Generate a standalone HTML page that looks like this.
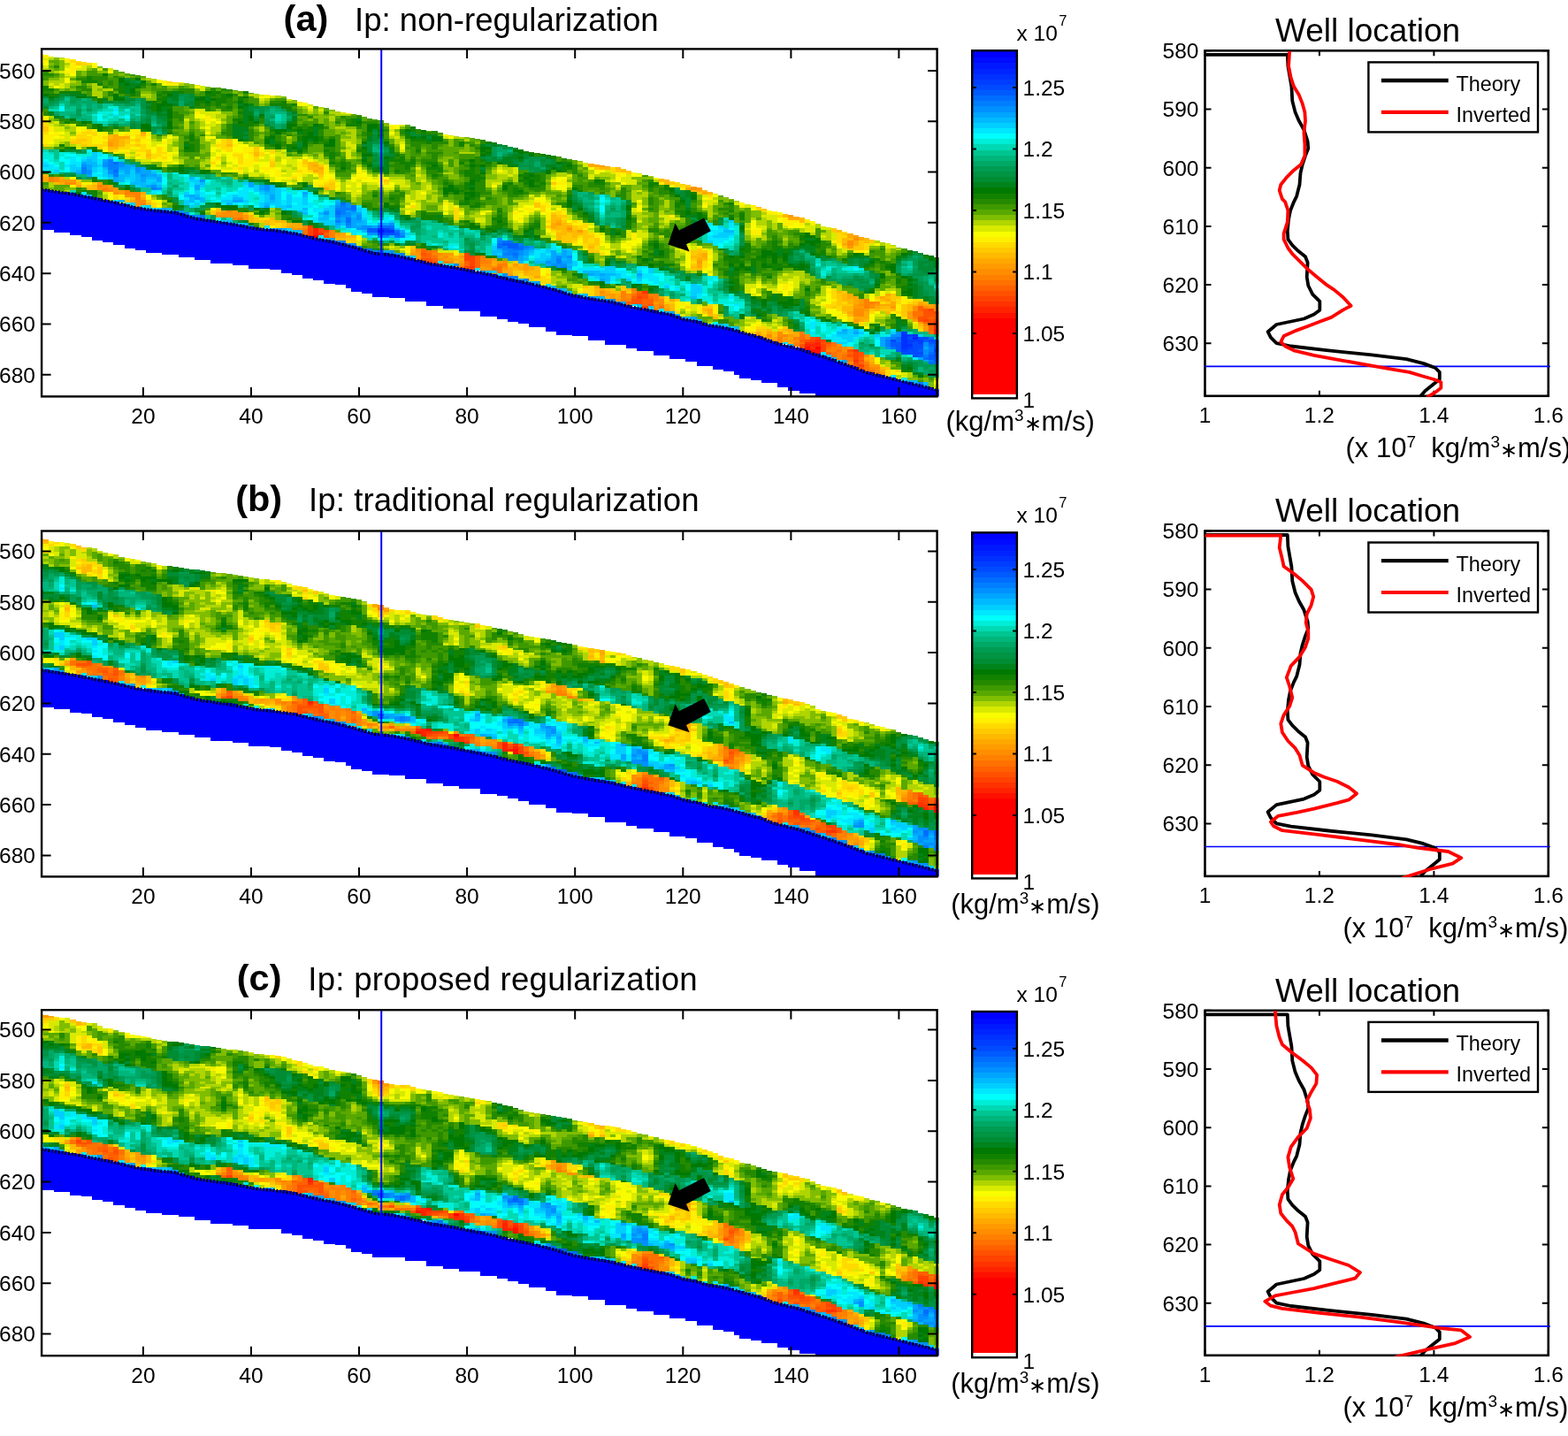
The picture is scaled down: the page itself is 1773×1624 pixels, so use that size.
<!DOCTYPE html><html><head><meta charset="utf-8"><title>Ip inversion</title><style>html,body{margin:0;padding:0;background:#fff}svg{display:block}text{font-family:"Liberation Sans", Arial, Helvetica, sans-serif;fill:#000}</style></head><body>
<svg width="1773" height="1624" viewBox="0 0 1773 1624">
<rect width="1773" height="1624" fill="#fff"/>
<clipPath id="dca"><rect x="47.1" y="55.4" width="1014.6" height="393.0"/></clipPath>
<g clip-path="url(#dca)">
<g shape-rendering="crispEdges" fill="none">
<path stroke="#ff0000" stroke-width="6" d="M357 266v3m562 129v1m6 -7v3"/>
<path stroke="#ff1000" stroke-width="6" d="M913 392v4m6 -1v3m6 -3v5"/>
<path stroke="#ff2200" stroke-width="6" d="M357 258v8m556 123v3m6 -3v3m6 -5v5m134 -20v6"/>
<path stroke="#ff3200" stroke-width="6" d="M351 266v1m12 -4v3m171 35v2m379 84v2m6 -2v2m0 3v3m6 -11v3m43 8v3m0 9v2m91 -45v8"/>
<path stroke="#ff3200" stroke-width="7" d="M729.5 329v3"/>
<path stroke="#ff4200" stroke-width="6" d="M351 255v11m12 -8v5m6 -3v3m116 32v2m43 -11v9m0 6v3m6 -15v12m0 2v2m189 30v3m196 46v3m6 -6v3m6 0v3m0 2v9m37 0v9m0 2v3m6 0v3m73 -54v3m6 -15v3m6 0v3m0 6v3"/>
<path stroke="#ff4200" stroke-width="7" d="M729.5 346v3"/>
<path stroke="#ff5100" stroke-width="6" d="M369 266v3m110 17v3m0 3v3m6 -3v3m13 3v1m219 39v6m6 -12v3m0 3v6m13 0v2m171 43v5m6 -10v3m6 -6v3m12 3v2m6 -2v2m31 23v3m6 -17v6m0 3v2m0 6v3m67 -60v6m6 -15v12m6 -9v6m0 3v5m6 -11v6"/>
<path stroke="#ff5100" stroke-width="7" d="M491.5 295v3m238 34v6m232 57v3m0 3v3"/>
<path stroke="#ff6100" stroke-width="6" d="M369 263v3m110 17v3m0 3v3m6 -6v6m43 3v6m12 -12v14m171 38v3m6 -9v3m6 -9v3m13 6v6m171 40v3m30 2v3m0 6v3m37 3v3m0 2v3m67 -66v6m6 12v2m6 -8v3m0 5v9"/>
<path stroke="#ff6100" stroke-width="7" d="M491.5 292v3m238 43v8m232 52v3"/>
<path stroke="#ff7100" stroke-width="6" d="M272 246v3m73 11v6m134 15v2m6 0v3m37 15v2m37 0v3m6 -5v8m146 35v1m6 -13v3m19 0v3m12 8v3m159 29v6m0 3v2m30 3v3m6 -8v5m0 6v6m6 -9v3m6 3v6m25 5v8m6 -2v3m49 -69v6m6 -6v6m12 17v3"/>
<path stroke="#ff7100" stroke-width="7" d="M491.5 289v3m470 112v5"/>
<path stroke="#ff8000" stroke-width="6" d="M58 200v6m55 3v3m6 0v5m6 -2v2m19 -2v5m6 -3v3m6 -3v9m6 3v3m104 14v3m79 9v2m159 35v3m42 -9v9m19 0v3m6 -3v3m134 28v12m6 -3v3m6 -15v3m19 3v3m6 -3v9m0 8v2m6 -7v2m134 35v7m25 -13v3m6 3v3m24 11v3m6 -6v6m6 -6v3m0 3v9m6 -9v3m25 -63v11m0 60v3m6 -71v3m6 77v2m43 -65v3"/>
<path stroke="#ff8000" stroke-width="7" d="M259.5 238v2m116 20v9m116 14v6m61 6v3m348 83v3m0 3v5m61 20v1"/>
<path stroke="#ff8d00" stroke-width="3" d="M47.5 137v3m0 57v6"/>
<path stroke="#ff8d00" stroke-width="6" d="M64 200v6m12 0v3m37 3v3m6 -6v3m6 0v3m6 2v3m13 0v3m6 -3v3m6 3v6m6 -6v3m85 14v3m6 -6v6m13 -6v6m6 -6v6m67 12v2m6 -5v3m128 23v5m0 6v2m25 -8v3m0 3v3m6 -6v3m6 3v3m12 0v3m24 -3v3m13 0v2m0 6v1m12 -15v3m0 3v2m73 -45v2m37 69v3m30 0v6m6 -9v3m25 12v5m6 -11v6m116 37v1m6 -4v3m12 -6v6m6 -3v3m25 -3v3m36 8v3m6 0v6m13 -129v3m0 77v9m6 -14v2m0 3v9m6 43v3m6 -60v5m0 66v3m6 -77v3m0 71v6m43 -75v6m12 -6v3m0 17v3m12 -25v8"/>
<path stroke="#ff8d00" stroke-width="7" d="M82.5 206v3m177 31v6m293 46v3m0 3v5m232 -91v3m116 169v3m61 -115v6m0 131v3"/>
<path stroke="#ff9b00" stroke-width="3" d="M47.5 131v3m0 6v3m0 60v3"/>
<path stroke="#ff9b00" stroke-width="6" d="M70 203v3m6 -3v3m37 0v3m12 -49v6m0 43v3m6 0v5m25 15v2m91 6v3m6 -5v2m13 -2v2m12 3v6m55 9v2m49 3v3m85 20v3m6 -3v6m25 -3v3m6 -6v3m0 3v3m6 -9v3m0 3v3m6 6v1m6 -13v3m0 3v3m24 3v5m13 -14v3m6 0v3m6 5v3m6 3v3m6 -14v3m12 -3v8m37 -54v3m24 5v3m25 -76v2m0 143v3m6 -3v3m6 -3v6m6 0v3m43 0v3m12 5v3m37 -140v3m0 80v3m67 80v2m12 1v3m6 0v2m12 -5v6m6 -144v3m0 132v3m0 3v3m74 -121v3m0 75v5m0 12v3m6 -26v6m0 2v3m6 0v3m0 55v2m6 3v3m6 -71v2m0 66v3m6 6v3m12 -78v3m19 3v9m6 0v3m6 -20v2m0 18v2m6 3v6m6 -29v3"/>
<path stroke="#ff9b00" stroke-width="7" d="M82.5 203v3m55 9v5m415 83v3m409 -28v3m0 111v3"/>
<path stroke="#ffa900" stroke-width="3" d="M47.5 134v3m0 6v3"/>
<path stroke="#ffa900" stroke-width="6" d="M52 200v6m18 -6v3m0 3v3m19 0v3m36 -55v3m6 -8v14m13 -12v3m6 69v3m12 -80v3m0 65v3m0 3v3m165 29v3m6 -6v6m6 -6v6m18 -72v3m0 3v3m6 -6v3m6 20v3m13 51v3m6 -6v6m79 14v3m43 3v3m6 0v3m6 -3v3m37 0v6m12 5v3m6 -6v6m6 -8v2m6 -2v5m6 0v3m6 -8v5m25 -54v6m6 -9v3m12 3v3m0 2v3m31 -77v3m0 134v3m6 0v3m6 -141v1m0 140v3m0 3v3m12 -6v6m49 -3v3m6 6v5m6 -11v3m18 -129v3m13 0v2m0 75v3m0 3v5m6 -86v3m0 66v6m6 57v6m55 20v3m12 -3v3m6 3v3m18 -138v3m0 123v3m0 6v3m0 3v2m61 -114v3m13 -6v6m0 57v9m0 14v3m0 3v2m6 -98v4m0 86v6m6 -12v9m0 43v3m6 2v3m6 -66v3m6 -14v3m0 6v2m0 72v3m6 -89v3m0 3v3m0 3v2m6 -5v5m31 -5v3m6 0v2m6 -2v2"/>
<path stroke="#ffa900" stroke-width="7" d="M137.5 154v3m470 155v3m61 -130v4m116 22v1m116 33v4m0 126v6m61 -117v5m0 63v6m0 14v3"/>
<path stroke="#ffb900" stroke-width="6" d="M52 197v3m12 6v3m25 -3v3m12 3v3m6 -6v6m18 -63v5m0 9v3m6 -3v3m19 54v3m12 -74v2m0 66v3m6 -49v3m0 52v3m79 6v2m31 0v3m6 0v9m6 -80v5m12 72v6m6 -9v3m13 0v3m6 0v3m24 -72v9m6 -9v3m0 3v3m6 0v5m19 72v3m6 -3v3m6 -6v3m6 -3v3m67 12v2m49 6v3m0 3v3m6 -12v3m55 12v2m6 0v3m6 -8v3m6 8v3m6 -6v6m25 -69v9m0 6v2m6 -14v3m0 6v5m0 3v9m6 -20v14m12 -6v9m6 -6v3m19 60v9m6 -146v3m6 -3v3m0 134v3m6 0v3m6 -143v3m0 137v3m6 -140v3m6 131v3m37 -127v4m6 -3v6m6 135v8m31 -66v6m0 11v3m6 -91v2m0 75v3m0 54v3m6 -135v3m0 135v3m6 0v3m49 -127v1m6 143v3m6 -9v3m6 0v6m12 -139v4m0 126v3m6 0v3m13 -132v6m42 8v3m0 66v3m6 -63v6m0 57v9m0 5v6m25 -83v6m0 86v3m6 40v5m6 -60v3m6 -14v3m0 5v3m0 66v3m6 -83v3m0 8v3m0 3v3m6 -6v3m19 -8v8m6 -8v2m6 20v3m6 -28v3"/>
<path stroke="#ffb900" stroke-width="7" d="M137.5 157v9m122 -3v3m55 83v3m293 49v11m61 -34v3m116 -66v2m0 72v3m0 9v2m177 -34v3m0 66v6m0 2v6m0 3v3"/>
<path stroke="#ffc900" stroke-width="3" d="M47.5 63v3m0 80v3m0 3v5"/>
<path stroke="#ffc900" stroke-width="6" d="M52 143v6m37 -78v3m0 83v6m0 40v3m6 -49v3m0 3v3m6 43v3m6 -6v3m18 -40v3m19 -15v6m0 63v3m12 -72v3m0 3v3m12 3v5m0 3v3m0 46v3m73 9v5m6 -8v3m43 -72v6m0 74v6m6 -3v3m12 -69v6m0 60v6m13 -3v6m24 -78v6m18 0v3m0 8v3m6 9v3m25 57v3m6 -3v6m37 -72v3m30 72v3m110 17v3m6 -6v3m0 8v6m6 -6v3m12 3v6m19 -63v3m6 -52v3m0 31v3m6 0v3m0 14v3m6 -20v3m0 3v3m0 14v9m6 -23v3m0 8v12m6 -20v5m0 9v3m6 -14v2m6 0v15m0 48v3m13 -137v3m0 77v9m0 5v3m18 40v3m6 -137v3m6 -4v1m0 131v6m6 -136v4m0 132v3m43 9v3m6 -138v3m0 132v3m6 -6v3m6 -133v1m6 0v3m13 5v3m0 61v5m6 -3v3m0 60v3m0 3v3m6 -9v3m6 6v3m43 17v3m6 -6v3m6 -139v2m0 134v6m18 -6v3m6 -6v3m0 3v3m55 -120v5m0 83v3m6 -17v14m6 -83v3m0 12v3m0 48v3m0 12v2m0 6v3m13 -77v5m6 -11v11m12 -12v4m0 74v3m0 49v3m6 -69v3m6 11v3m6 -11v3m0 5v3m0 63v3m6 -86v9m6 -6v3m19 3v3m6 25v3"/>
<path stroke="#ffc900" stroke-width="7" d="M82.5 160v3m177 -6v6m116 43v9m232 14v6m61 31v3m0 6v3m0 3v5m116 -3v6m0 3v3m0 3v3m0 2v3m177 -25v2m0 61v2m61 -2v14"/>
<path stroke="#ffda00" stroke-width="3" d="M47.5 66v2m0 81v3m0 5v3"/>
<path stroke="#ffda00" stroke-width="6" d="M52 137v6m0 6v3m0 11v3m37 -97v2m0 81v5m6 -87v4m0 75v8m0 3v3m0 46v3m6 -141v3m0 72v6m0 2v12m6 -17v5m0 9v3m6 -3v6m6 -15v3m0 3v6m12 3v3m0 48v6m13 -74v2m0 9v6m0 3v2m0 49v3m6 -69v3m0 3v3m6 -14v5m0 3v3m0 6v3m0 2v3m6 -23v3m0 6v9m12 2v6m0 49v6m6 -69v11m6 -5v2m0 3v3m6 -88v2m49 89v3m6 -23v3m0 11v3m6 -23v12m13 5v3m6 -3v12m0 3v3m12 -20v2m0 66v3m6 -66v6m6 -11v5m0 69v3m6 -3v3m6 -80v5m0 6v3m25 17v3m6 -11v3m6 -9v3m6 3v3m6 0v2m6 3v3m0 6v3m6 -6v3m25 63v3m43 -69v3m30 23v3m49 0v14m73 60v6m6 -3v3m19 -83v8m0 72v9m6 -72v3m0 57v3m0 3v6m6 -61v3m6 -25v5m6 3v3m12 0v3m0 20v3m6 -20v3m0 8v3m6 -17v6m0 17v6m0 45v6m13 -54v5m6 3v3m12 -100v6m61 140v6m6 -136v1m6 0v6m0 140v3m6 -146v3m6 134v3m19 -54v8m6 -83v3m0 121v2m55 -111v3m0 131v3m6 -134v2m0 129v3m18 -129v3m55 98v5m6 -23v12m0 3v5m6 -83v12m0 71v6m6 -86v3m0 72v3m19 20v5m6 -94v8m6 69v3m6 -17v3m6 0v3m6 74v8m12 -88v6m0 8v3m0 63v3m13 -80v3m6 -6v3m6 -3v3m0 31v3"/>
<path stroke="#ffda00" stroke-width="7" d="M82.5 68v3m0 86v3m55 6v3m61 -76v1m61 72v6m55 80v6m61 -55v3m232 109v3m61 -55v3m0 3v6m0 48v12m116 -40v3m61 77v2m116 -19v6m61 -6v3"/>
<path stroke="#ffef00" stroke-width="3" d="M47.5 61v2m0 5v3m0 89v3"/>
<path stroke="#ffef00" stroke-width="6" d="M52 63v3m0 2v3m0 63v3m0 15v11m6 -20v6m0 3v8m6 -11v5m6 0v3m6 -91v5m0 9v3m13 66v3m6 -6v3m0 57v3m6 -57v2m0 52v3m6 -63v3m0 5v9m6 -11v11m6 -14v5m0 3v3m0 6v3m6 48v3m6 -48v2m13 -25v3m0 17v3m0 2v3m6 -31v8m0 6v3m0 3v3m6 -23v6m0 14v3m0 3v2m6 -17v6m0 9v8m6 -31v5m0 3v3m0 3v6m6 3v2m0 52v3m6 -52v6m0 46v3m6 -141v3m0 66v3m0 3v6m0 2v3m0 3v3m6 -89v3m0 77v3m31 -51v3m12 2v6m6 43v3m0 3v3m6 -29v3m0 3v3m0 11v3m6 -14v3m13 -9v3m0 6v2m0 3v3m0 9v3m6 -20v2m0 12v3m0 3v5m6 -31v8m0 6v9m6 -23v6m0 2v15m12 -23v6m0 17v3m6 -85v2m0 80v6m6 -87v1m0 68v3m0 9v3m0 63v3m19 -58v3m6 -6v3m6 -85v2m0 66v9m0 3v5m6 -11v8m12 9v6m6 -9v6m6 -23v11m0 6v3m13 3v3m12 51v3m12 -77v3m0 3v2m0 3v3m0 3v3m6 -9v3m31 -60v3m18 94v3m0 35v5m43 -54v3m12 0v3m0 48v6m67 -51v5m6 3v3m6 -14v3m6 -3v5m13 -11v3m0 89v2m6 -94v6m0 5v9m0 3v3m0 3v2m0 43v6m0 3v3m6 -112v3m0 3v3m0 51v3m0 3v3m6 -66v3m6 -6v6m0 29v5m12 9v3m0 20v3m6 -29v6m0 14v3m0 3v3m0 51v3m6 -74v2m13 3v6m6 3v3m0 8v3m18 -91v5m6 -5v2m6 78v3m0 3v2m6 -20v9m6 -34v2m25 -34v3m12 34v3m6 95v11m6 -140v3m0 126v5m6 -63v3m0 58v2m13 -68v3m0 65v9m6 -126v3m0 49v2m0 20v3m0 49v3m6 -135v3m0 57v6m0 3v3m0 3v3m6 43v11m30 -123v3m13 -3v3m0 25v6m0 103v6m6 -115v6m0 100v3m12 -129v3m6 -3v3m6 126v3m6 -126v9m0 66v8m6 -80v6m0 66v2m13 -71v3m6 -7v4m6 0v3m12 89v2m6 -17v3m6 -60v3m0 63v3m6 -66v3m0 77v6m6 -99v1m0 92v3m13 -75v3m6 -3v3m18 123v3m18 -60v3m0 63v6m6 -80v8m13 -14v3m6 23v2"/>
<path stroke="#ffef00" stroke-width="7" d="M82.5 67v1m0 3v12m0 71v3m0 52v3m55 -60v2m0 15v3m0 48v6m61 -132v3m116 95v8m61 0v3m55 -3v6m177 20v3m238 143v3m55 -126v3m122 86v6"/>
<path stroke="#f9fc00" stroke-width="6" d="M52 62v1m0 8v3m0 57v3m6 15v3m0 8v3m6 -66v3m0 54v3m6 -8v3m6 -75v3m0 8v6m13 -20v3m0 66v6m6 -6v3m12 -75v6m6 72v3m6 17v3m6 -92v3m0 137v6m25 -72v3m6 20v3m12 -26v3m0 3v3m0 57v6m6 -60v6m0 8v3m6 -93v4m0 69v3m0 60v3m0 3v3m6 -141v3m0 60v3m0 3v3m6 -12v3m0 15v2m0 3v6m13 -90v1m18 3v3m0 29v5m6 -5v5m6 3v3m0 3v3m0 3v3m0 2v3m6 -23v3m0 17v3m0 9v6m0 5v3m0 9v3m0 43v3m6 -101v3m0 17v3m0 12v5m0 6v3m0 3v3m6 -20v2m0 18v3m13 -38v6m0 3v6m0 8v6m0 6v3m6 -32v9m6 -9v3m0 8v6m6 9v6m6 -12v3m6 -77v2m0 66v3m0 3v6m0 3v3m6 -86v2m0 61v2m0 9v6m0 6v2m6 -23v3m0 15v8m13 -20v6m0 9v2m0 3v3m6 3v3m6 -14v2m6 -80v3m0 60v3m0 17v6m6 -90v4m0 57v3m6 -60v3m0 57v3m0 12v2m6 0v3m0 3v3m12 -9v6m13 3v3m0 3v3m12 -87v1m0 80v3m0 3v2m6 -17v6m6 -14v3m0 2v3m0 9v3m0 3v2m0 49v6m6 -77v5m0 3v3m6 -6v6m6 -3v3m13 -6v3m0 6v3m6 -71v2m0 6v3m0 54v6m6 -71v5m6 17v6m0 112v2m6 -51v3m0 3v2m0 43v3m6 -57v3m12 -15v3m25 -68v2m0 78v6m0 2v3m6 -89v3m12 83v3m24 -3v3m13 -34v3m6 -20v3m18 48v6m6 -14v3m0 2v6m0 3v3m6 -20v3m0 3v5m6 -11v3m13 -12v6m0 11v3m0 60v9m6 -77v5m0 20v3m6 -25v2m6 -40v6m0 3v6m0 20v3m6 -38v3m0 6v6m6 34v3m12 20v3m0 51v3m6 -48v2m13 -91v5m6 -5v3m0 71v6m0 3v3m6 -3v6m0 2v6m12 -89v6m6 -9v3m0 6v3m0 66v6m6 -9v3m0 3v3m0 2v3m6 -91v5m0 72v6m6 -81v3m0 26v3m0 3v6m0 31v6m19 -74v2m18 6v3m12 69v2m0 63v3m6 -71v5m0 3v17m0 38v3m0 5v3m19 -129v3m0 6v3m0 71v3m6 -20v3m0 3v3m0 3v5m0 3v3m6 -92v3m30 6v3m13 3v3m0 11v11m0 66v6m0 34v3m6 -111v2m0 61v5m0 6v3m0 29v2m12 -128v2m6 -1v1m6 0v3m0 3v6m0 69v8m6 0v6m6 -80v3m0 60v3m0 2v6m13 -74v3m12 -8v2m12 89v3m6 -18v3m0 3v12m0 5v6m6 -6v9m6 -80v3m0 71v3m6 3v6m25 -81v3m0 83v3m6 -40v9m0 14v9m6 -89v3m0 74v3m0 49v5m6 -80v6m12 -6v3m6 23v3m0 63v3m43 6v5"/>
<path stroke="#f9fc00" stroke-width="7" d="M82.5 83v3m0 114v3m55 -54v3m0 77v1m61 -58v2m0 9v3m61 -14v11m0 3v3m0 3v3m55 -6v3m0 8v6m61 -9v3m55 6v3m122 29v2m55 -17v3m0 9v3m61 -49v3m0 63v3m177 111v3m55 -120v6m122 77v3"/>
<path stroke="#d8ea00" stroke-width="3" d="M47.5 77v3m0 49v2"/>
<path stroke="#d8ea00" stroke-width="6" d="M52 66v2m0 6v3m6 -13v2m0 28v3m0 43v3m0 20v3m6 -29v3m0 3v6m0 8v6m6 -97v2m0 12v3m0 11v6m0 43v6m0 3v2m0 3v3m6 -86v3m0 6v3m0 63v11m13 -83v3m0 83v6m6 -95v6m18 -3v3m6 137v3m6 -143v3m0 146v1m6 -78v3m13 25v3m6 -11v3m0 2v3m12 3v3m6 -3v3m6 -23v6m6 -6v3m6 20v6m6 -37v2m0 3v6m0 20v3m19 -52v3m12 -41v1m0 26v3m6 -29v6m0 20v6m0 5v3m0 6v3m6 -20v5m0 9v3m0 3v3m0 8v3m6 -34v8m0 3v6m0 20v3m0 6v5m6 -51v3m0 5v3m0 32v3m0 14v3m6 -15v3m0 12v3m13 -6v3m6 -29v3m6 26v6m6 0v5m6 -14v6m0 3v5m0 43v3m6 -139v2m0 2v3m0 66v3m0 12v2m6 -28v3m0 2v9m0 14v3m6 -91v2m0 89v6m13 -37v3m0 2v6m0 6v6m0 5v3m0 3v3m6 -94v2m0 63v9m0 3v11m0 3v3m6 -26v9m0 3v3m0 11v3m12 -12v3m6 -82v2m0 3v3m0 51v3m6 0v3m6 -60v3m0 57v3m6 31v3m13 -17v3m0 9v2m6 -90v2m6 31v6m0 3v11m0 23v6m0 3v3m6 -52v6m0 28v3m0 6v17m6 -20v3m0 6v3m0 2v3m0 52v6m6 -86v3m6 2v3m0 6v3m6 -9v3m0 3v3m13 3v3m6 -69v3m0 3v2m0 49v3m0 6v3m0 63v3m6 -127v3m0 46v6m6 -68v2m0 17v3m0 6v3m0 31v9m6 -3v3m0 8v9m0 6v3m0 48v3m6 -63v3m0 6v5m6 -51v3m0 5v3m0 15v11m0 3v9m6 -35v3m0 9v2m0 3v6m6 -17v6m13 68v3m6 -132v3m0 69v3m0 9v2m0 43v3m6 -133v1m0 75v9m0 45v3m12 -48v2m0 3v3m18 0v6m6 -14v2m0 6v6m13 -46v3m6 -20v3m0 3v2m0 9v3m6 -17v5m6 0v3m6 -11v8m0 38v3m0 11v3m6 -23v6m0 3v2m6 -11v3m0 11v3m6 -26v3m0 3v6m0 8v3m13 -23v3m6 3v3m0 34v3m6 -66v3m0 9v3m0 17v3m0 31v3m0 52v2m6 -91v3m6 -20v2m0 18v3m6 -41v3m0 6v6m0 31v6m6 72v5m6 -5v5m6 -142v5m19 74v3m0 12v5m6 -91v3m0 86v2m6 -88v2m0 6v3m0 75v2m6 -74v3m6 -12v6m0 66v3m0 6v2m0 6v3m6 -95v12m0 51v9m6 -66v6m0 26v5m0 38v3m0 2v3m6 -90v1m0 18v2m0 12v3m0 17v3m0 8v9m0 6v3m25 -35v3m6 -3v9m6 -6v3m6 -3v3m0 32v2m6 0v3m0 12v3m0 54v3m6 -83v3m0 25v3m0 46v3m13 -11v2m6 -126v3m0 3v3m6 -3v6m0 49v2m0 23v3m6 -90v1m0 6v3m6 129v3m18 -132v3m19 34v3m0 52v5m0 6v3m0 29v2m6 -111v3m0 8v3m0 49v3m0 40v3m6 -121v3m0 9v5m0 63v3m0 40v3m6 -126v6m0 77v3m0 40v3m6 -129v9m0 74v6m0 29v3m0 2v3m0 3v3m6 -60v6m0 8v3m6 -77v3m0 51v3m0 6v3m6 -6v3m0 11v6m19 -80v8m6 -8v8m6 72v6m0 3v2m6 -90v4m0 6v3m0 66v3m0 8v3m6 -92v3m0 63v3m6 -63v9m12 9v5m25 78v5m6 -94v3m0 86v2m6 -11v3m6 -3v3m0 54v3m6 -140v6m0 48v3m6 -54v3m6 146v2m19 -63v6m24 63v5"/>
<path stroke="#d8ea00" stroke-width="7" d="M82.5 140v3m55 29v2m61 -20v3m0 9v6m0 2v3m0 3v3m61 0v3m0 3v3m55 -20v5m0 6v6m61 6v2m55 0v3m0 9v3m238 -15v6m0 49v3m0 5v3m61 0v6m55 9v5m0 61v8m61 -121v4m0 23v2m0 61v11m0 26v3m0 3v2m55 -54v14m122 95v6"/>
<path stroke="#b0d500" stroke-width="3" d="M47.5 71v3m0 52v3"/>
<path stroke="#b0d500" stroke-width="6" d="M52 77v3m6 -14v2m0 23v3m0 3v3m0 31v3m0 3v3m0 66v6m6 -132v3m0 8v6m0 43v3m0 20v3m6 -101v1m0 22v6m0 66v3m6 -92v3m0 12v2m0 6v6m0 40v3m0 3v3m0 51v3m0 12v2m25 -143v3m6 17v15m6 -12v3m0 3v8m6 -11v3m0 117v6m6 -126v3m6 43v3m19 23v2m0 3v3m6 0v3m6 -77v3m0 74v3m6 -98v3m0 15v5m0 72v3m6 -97v5m0 63v3m0 63v3m12 -72v3m0 69v3m6 -66v9m13 -78v3m0 83v6m6 -49v9m12 -12v3m0 40v3m6 -43v6m0 40v6m6 -37v2m0 26v6m0 3v3m0 46v2m6 -97v9m0 5v6m6 -34v5m0 6v9m6 -20v5m0 3v3m0 37v6m0 3v3m25 6v2m6 -91v3m0 51v6m6 -60v5m0 52v3m0 26v3m6 -81v3m0 26v6m0 48v3m0 52v6m6 -147v3m0 86v3m0 40v3m6 -11v3m0 2v6m13 -74v2m0 18v3m6 -41v3m0 29v3m6 -12v3m0 9v3m0 11v3m6 -29v3m6 -60v3m0 51v3m0 23v6m6 -80v3m0 68v9m6 -6v3m6 -82v2m0 3v3m0 45v9m6 -3v6m0 29v2m13 -91v5m0 12v3m6 -17v2m0 12v3m0 11v3m0 9v3m0 34v11m6 -88v2m0 15v3m0 3v2m0 3v3m0 6v3m6 -23v17m0 6v3m0 5v3m0 43v6m6 -43v3m0 31v3m6 -17v3m0 60v3m6 -63v6m6 -6v6m13 0v2m0 61v3m6 -127v3m0 43v3m0 78v2m6 -134v5m0 3v6m0 37v3m0 75v5m6 -126v3m0 40v3m0 9v3m0 20v3m0 45v3m6 -83v6m0 3v3m0 14v3m6 -17v11m0 14v3m6 -51v5m0 3v6m0 20v3m6 -32v6m0 3v9m6 -9v3m0 6v5m0 6v3m13 3v6m0 43v2m6 -100v3m0 9v2m6 -2v2m0 41v5m6 -89v3m0 92v3m6 -97v2m0 15v2m0 61v3m0 8v3m6 -92v3m0 12v2m6 -2v2m0 69v3m6 -6v6m6 -3v3m0 6v3m13 -63v5m0 6v3m0 6v3m6 -29v3m0 8v9m6 -17v3m0 5v6m6 -14v8m0 43v9m0 46v3m6 -101v9m0 20v3m0 3v3m0 17v8m6 -34v3m0 23v3m6 -29v3m0 17v6m6 -29v3m13 17v3m0 20v3m6 -46v3m0 40v3m6 -34v3m0 74v9m6 -126v5m0 109v3m0 3v3m6 -123v5m0 115v6m6 -121v3m0 118v5m6 0v3m6 -146v3m0 95v2m19 -86v3m6 -5v5m0 92v3m6 -100v5m0 3v3m0 66v3m6 -78v6m0 72v6m0 5v3m6 -77v3m0 60v8m0 6v3m0 31v3m6 -43v3m6 -17v3m6 -57v14m0 11v3m0 38v2m0 3v3m6 -69v6m0 14v9m0 29v3m13 -82v1m6 3v3m6 32v5m0 6v3m0 3v3m0 8v3m6 -43v9m0 17v3m6 17v3m6 -3v9m0 2v9m6 -20v9m0 5v3m0 6v3m0 51v3m6 3v3m19 -123v3m6 -6v14m0 118v2m6 -143v3m0 3v3m0 54v9m6 60v3m18 -131v2m6 140v6m13 -129v3m0 20v3m0 86v6m6 -115v6m0 60v3m0 8v6m6 -92v3m0 3v9m0 5v3m0 3v6m0 49v2m0 41v2m6 -45v5m0 40v3m6 -117v8m0 63v3m0 38v2m0 3v3m6 -60v3m0 43v6m0 2v3m6 -100v3m0 40v6m6 -60v2m0 49v6m13 -57v5m0 43v12m6 -66v3m0 60v6m6 -58v3m0 72v6m6 -91v5m0 83v3m6 -81v3m0 3v3m0 51v12m0 3v3m0 8v6m6 -95v12m6 3v3m6 3v8m0 34v6m31 -43v3m0 43v6m12 -66v3m0 54v6m0 23v3m0 3v2m6 -92v4m0 74v3m0 3v3m0 5v3m6 -88v5m0 40v3m0 26v3m0 51v6m6 -138v1m0 48v3m6 -48v2m0 141v3m13 -66v3m0 57v6m30 0v3"/>
<path stroke="#b0d500" stroke-width="7" d="M82.5 86v2m0 3v3m0 49v6m0 3v2m0 9v3m116 -9v3m0 17v3m116 -72v3m0 58v3m0 5v6m61 -57v3m0 2v6m0 55v3m116 20v2m0 3v9m61 -26v9m0 28v3m55 -5v2m61 -48v5m0 61v2m61 -43v6m0 9v3m0 3v2m0 3v3m0 9v3m0 2v3m0 6v3m55 3v3m0 28v3m0 43v3m61 -103v6m0 2v6m0 95v3m0 2v3m55 -63v6m0 14v3"/>
<path stroke="#7fbd00" stroke-width="3" d="M47.5 74v3m0 86v3"/>
<path stroke="#7fbd00" stroke-width="6" d="M52 91v6m0 69v3m6 -98v3m0 3v6m0 5v3m0 43v3m0 29v3m0 43v3m6 -150v3m0 20v3m0 124v1m6 -148v12m0 3v5m0 12v3m0 37v3m6 0v3m0 14v6m0 46v3m13 -124v6m6 -17v6m0 80v3m0 34v3m6 -129v3m0 14v3m0 106v3m12 -131v2m0 3v3m0 17v3m6 -23v3m25 3v2m18 0v3m0 12v3m0 3v2m6 -8v3m0 5v3m6 -8v8m0 38v5m0 26v3m0 34v3m6 -66v3m0 23v6m6 43v3m6 -138v3m0 129v3m13 -55v3m6 -86v3m0 34v3m0 12v3m0 28v3m6 -85v5m0 23v3m0 3v8m6 -37v3m0 34v9m6 0v3m0 5v9m0 6v5m0 6v3m0 6v3m6 -94v2m0 60v12m0 5v3m0 60v3m6 -91v2m6 -31v3m0 23v3m0 45v3m6 -74v3m0 5v3m0 46v3m13 -83v3m0 94v3m6 -97v3m0 88v3m6 -40v3m12 -20v3m6 -29v3m0 32v5m0 6v3m6 -52v3m6 121v2m13 -131v2m6 3v3m0 40v6m6 -50v4m0 55v2m6 -54v3m6 0v6m6 5v3m0 37v3m0 29v3m6 -86v6m0 2v3m0 38v2m0 3v3m6 -51v11m0 32v2m0 43v3m6 -89v3m13 12v6m0 48v3m6 -63v3m0 3v3m0 3v5m0 3v6m0 37v3m6 -63v3m0 3v3m0 2v3m0 60v3m6 -77v3m0 26v5m0 18v2m6 -40v6m0 14v3m0 43v9m6 -43v3m0 17v11m0 52v3m6 -80v2m0 18v2m6 -20v3m13 -61v4m0 74v3m6 -23v3m0 15v2m0 58v3m6 -132v3m0 14v3m0 31v3m0 9v3m6 -69v3m0 8v3m0 15v2m0 23v3m0 29v3m0 6v5m0 35v3m6 -66v5m6 -14v9m0 28v3m6 -60v3m0 20v6m6 -46v3m0 20v5m0 29v12m6 -35v3m0 14v6m0 3v3m0 6v2m13 -60v3m0 37v3m0 6v3m0 6v2m6 -63v6m0 3v6m6 -35v9m0 11v3m0 9v6m0 2v6m0 23v3m6 -49v9m0 8v6m6 -34v3m6 -17v2m0 6v9m0 71v6m6 -11v5m0 3v3m6 -89v3m0 75v2m6 -17v3m0 9v3m0 17v3m13 -69v3m0 5v6m0 12v5m0 18v2m6 -31v3m6 -26v3m0 14v3m0 17v9m0 60v3m6 -95v3m0 29v8m0 9v3m12 3v3m6 -35v3m6 17v3m13 -29v3m0 26v14m6 -57v3m0 3v6m0 5v3m6 -26v3m0 15v2m0 3v3m0 3v3m0 77v6m6 -97v2m0 89v3m0 3v3m0 3v5m6 -106v3m0 3v3m0 86v3m0 6v2m6 -120v3m0 6v3m0 25v3m0 75v3m6 -78v6m0 80v4m6 -151v1m0 6v3m6 0v3m13 60v3m0 28v9m6 -95v3m0 86v3m0 3v6m6 -101v3m0 63v6m6 -66v6m0 3v8m0 60v3m6 -80v3m0 63v3m0 51v3m6 -60v3m0 14v3m6 -3v9m6 -95v3m0 6v6m0 77v6m6 -98v6m0 3v6m0 2v3m0 32v8m0 21v8m13 -89v3m0 37v6m0 6v3m0 8v6m12 -46v3m0 6v6m0 8v3m0 3v3m0 14v3m6 -37v3m0 2v3m0 12v3m6 -20v5m0 6v3m0 17v3m0 3v6m6 -38v3m0 49v3m6 -52v6m0 37v6m0 6v5m0 46v3m6 -92v3m0 40v3m13 -89v6m0 6v3m6 43v3m6 -35v3m0 29v3m0 80v3m6 -124v3m0 40v3m0 20v6m6 -89v3m6 -3v6m6 -4v1m6 140v3m6 -134v3m0 123v8m13 -131v8m0 26v6m0 40v3m6 -83v8m0 66v3m6 -52v3m6 -17v9m0 60v3m0 43v2m6 -45v2m0 32v6m6 -101v3m0 46v3m0 52v2m6 -108v2m0 6v3m0 3v6m0 28v3m6 -3v3m13 9v3m6 -12v6m0 6v2m6 -11v6m0 31v3m6 -20v3m0 14v3m0 3v3m6 -3v3m6 -77v5m6 35v2m6 -2v2m6 -37v3m31 -11v3m6 -3v3m0 45v3m0 32v3m6 -3v5m0 41v5m6 -126v3m0 3v3m0 11v6m0 9v2m0 35v3m0 8v3m0 35v2m6 -128v5m0 37v3m0 86v3m6 -135v1m0 45v9m13 29v2m0 61v3m6 -3v3m12 -3v5m6 0v6"/>
<path stroke="#7fbd00" stroke-width="7" d="M82.5 94v3m0 3v3m0 46v3m0 60v3m55 -132v3m61 11v3m0 60v6m61 -40v5m55 107v2m0 3v6m61 -125v2m0 3v2m0 6v9m0 43v3m0 23v8m55 -11v3m61 -6v6m0 2v3m0 9v3m0 6v2m61 -43v6m0 29v6m0 5v12m55 -35v3m0 17v3m122 -43v3m0 12v2m0 6v9m0 8v3m0 3v9m0 3v2m0 12v3m55 80v3m61 -92v6m0 37v3m0 3v6m55 -63v2m0 69v3"/>
<path stroke="#58a800" stroke-width="3" d="M47.5 80v3"/>
<path stroke="#58a800" stroke-width="6" d="M52 209v5m6 -146v3m0 3v3m6 -9v6m0 3v3m0 6v2m0 15v3m0 28v3m0 72v6m6 -6v8m6 -117v3m0 106v3m13 -132v6m6 17v3m6 -9v3m6 -23v3m6 135v2m0 3v4m6 -121v6m6 -26v5m0 21v5m0 35v3m6 -73v7m0 17v3m13 -23v3m0 57v6m6 -63v2m12 -2v2m0 12v3m6 -12v3m0 3v6m6 0v3m6 -12v6m0 54v3m0 66v3m6 -74v2m0 75v3m6 -132v3m0 83v3m0 43v3m13 -95v3m0 3v6m0 2v15m0 3v5m6 -80v3m0 20v6m0 3v2m0 18v3m0 28v6m6 -60v3m0 11v6m0 34v9m6 -86v3m0 40v8m0 26v6m6 -37v3m0 11v6m0 5v6m6 -80v3m0 69v5m0 9v3m6 3v3m6 -95v3m0 49v5m0 35v5m6 -57v6m0 8v3m13 -55v1m0 20v8m6 -28v3m12 -1v1m6 40v3m0 5v6m0 40v3m0 35v2m6 -100v3m0 6v3m0 5v6m0 37v3m0 40v3m6 -129v3m0 26v3m6 -38v3m13 38v2m6 18v2m0 35v3m0 37v3m6 -103v3m0 2v6m0 14v3m6 -54v6m0 2v3m0 3v3m0 34v3m6 -46v6m6 -8v2m0 35v8m6 -54v3m0 6v2m0 32v9m0 2v3m6 -14v9m0 43v2m6 -95v4m0 3v2m0 3v9m0 3v8m0 23v3m13 -49v3m0 6v3m0 34v3m0 80v3m6 -126v3m0 9v3m0 14v3m0 3v5m0 23v3m6 -23v3m0 17v3m0 17v6m6 -97v2m0 49v6m0 3v3m0 37v3m6 -86v6m0 2v3m0 17v3m0 6v3m6 -54v5m0 83v6m0 49v3m6 -86v3m0 22v9m0 49v3m6 -83v2m13 0v3m0 20v3m0 58v2m6 -126v6m0 32v2m6 -31v6m0 40v3m0 68v3m6 -71v2m0 9v3m0 3v3m6 -94v2m0 20v3m0 3v11m0 17v6m6 -14v3m0 3v2m0 3v6m6 -29v3m0 3v3m0 20v3m6 -43v3m0 3v5m0 12v3m6 -44v1m0 51v3m0 29v6m13 -86v2m0 12v3m0 8v3m0 29v3m0 3v5m0 3v6m6 -66v14m0 15v3m0 2v3m0 23v3m0 17v3m6 -80v11m0 43v6m0 17v3m6 -80v6m0 2v6m0 9v8m0 6v6m0 17v6m0 20v3m6 -98v3m0 6v3m0 31v6m0 26v3m6 -3v11m6 -87v4m0 6v6m0 77v3m6 -95v3m0 12v5m0 58v3m19 -18v3m0 9v6m0 2v3m6 -31v3m0 2v18m6 -15v3m0 9v8m6 -37v3m0 46v6m6 -52v3m0 14v3m0 3v3m0 28v3m6 -40v3m0 32v8m6 -46v3m0 29v3m6 -38v3m0 26v6m13 8v6m6 -69v6m0 3v3m0 6v5m6 -25v2m0 20v3m0 3v3m0 3v3m6 -15v3m0 3v6m0 43v3m0 48v3m6 -106v3m0 3v3m0 80v3m6 -117v2m0 38v5m0 35v3m0 28v9m0 11v3m6 -148v5m0 11v9m0 112v3m6 -135v3m0 3v3m0 51v3m0 29v3m0 34v3m6 -129v3m0 3v5m0 3v3m0 112v5m13 -123v3m0 14v3m0 38v5m0 32v3m12 -89v3m0 5v3m6 -8v3m0 57v3m0 46v2m6 -108v2m0 52v3m0 11v6m6 -80v3m6 -3v6m0 2v9m0 69v3m6 -66v3m0 8v3m0 12v5m0 26v3m6 -86v3m13 8v3m0 26v6m0 3v3m0 11v3m6 -52v3m0 17v12m0 14v3m0 23v3m6 -69v6m0 26v2m0 12v3m6 -55v6m0 12v2m0 29v6m6 -49v12m0 43v2m0 3v9m6 -46v6m0 37v3m6 -43v3m6 3v5m13 -37v6m0 3v3m0 117v6m6 -123v2m0 35v3m0 63v5m0 12v7m6 -116v3m0 23v3m0 80v3m6 -129v8m0 38v5m0 12v3m0 5v3m0 55v3m6 -143v2m0 6v6m0 8v3m0 37v3m0 3v3m0 20v3m6 43v3m6 -135v3m0 129v6m6 -132v8m0 6v6m0 109v5m6 -54v9m13 -6v3m6 -72v3m0 20v12m6 -9v3m0 43v3m0 5v3m0 3v6m6 -80v2m0 9v3m0 43v3m0 37v3m6 -98v3m0 49v9m6 -69v8m0 3v6m0 37v3m6 -49v6m0 37v3m0 52v3m0 3v5m6 -103v6m0 31v3m13 15v14m12 -17v11m0 6v3m0 6v5m0 3v3m6 -40v3m0 3v2m0 23v3m0 3v3m6 -95v3m6 23v3m0 29v3m0 34v6m6 -83v3m0 2v3m0 32v3m0 2v3m6 -37v3m0 69v3m6 -75v3m0 34v3m13 -3v6m18 -51v2m6 -2v2m0 6v3m0 11v3m6 0v3m0 12v8m0 75v3m6 -118v3m0 26v3m0 2v3m0 38v2m6 -80v6m0 17v3m0 3v8m0 92v3m6 -135v3m0 129v3m13 -52v3m6 55v3m6 0v3m12 0v2"/>
<path stroke="#58a800" stroke-width="7" d="M82.5 88v3m0 6v3m55 -19v2m61 63v3m0 3v2m61 -23v9m0 57v3m55 35v3m0 2v3m61 -97v8m55 41v2m0 18v2m0 12v3m0 46v3m61 -78v6m0 23v6m0 43v2m61 -91v5m0 15v3m55 2v3m0 23v3m61 -31v2m61 -11v3m0 3v3m0 20v3m0 37v3m0 3v2m116 -48v17m0 46v3m0 11v3m55 -46v6m0 57v6m61 -55v3m0 40v6"/>
<path stroke="#3e9900" stroke-width="3" d="M47.5 83v5m0 35v3"/>
<path stroke="#3e9900" stroke-width="6" d="M52 86v5m0 32v3m0 80v3m6 -123v2m6 -5v3m0 14v3m0 63v3m0 28v3m6 -63v3m0 26v3m19 -83v2m0 12v3m6 -17v2m0 6v3m0 115v3m6 -135v6m0 17v6m0 31v6m6 -66v6m6 -3v3m0 131v3m6 -143v3m0 11v6m0 12v2m6 -23v3m0 6v3m0 72v2m6 -86v12m19 -16v2m0 23v2m0 69v3m6 -98v3m0 12v3m0 6v2m12 -17v3m6 0v6m6 -3v3m0 117v3m6 -126v6m0 86v6m19 -98v3m0 20v9m0 8v3m0 3v3m0 6v2m0 15v3m6 -46v3m0 23v2m0 3v3m0 12v5m0 9v3m6 -52v3m0 6v3m0 23v8m6 -74v3m0 45v3m0 15v5m0 9v3m6 -86v6m6 126v3m6 -139v1m0 20v6m6 -27v1m6 3v3m0 11v3m0 26v3m0 3v2m0 43v3m13 -91v5m0 3v6m0 8v3m0 61v5m6 0v3m6 -97v3m0 88v3m6 -91v8m0 26v3m0 54v3m0 35v2m6 -129v9m0 29v5m0 6v3m0 89v3m12 -112v3m0 3v5m0 12v3m6 -3v3m13 -58v3m0 40v6m0 6v3m6 -20v3m0 22v3m6 -57v3m0 29v2m0 55v3m6 -78v3m0 3v3m0 66v3m6 -75v3m0 32v2m6 -37v6m0 20v3m6 -32v6m12 14v3m13 -23v3m0 15v20m0 8v3m0 6v3m0 3v5m0 20v3m6 -89v3m0 40v3m0 15v5m0 17v6m6 -92v3m0 58v8m6 -69v3m0 52v3m0 3v3m6 -65v1m0 21v2m0 9v3m0 6v2m0 6v3m6 -43v9m0 5v3m0 29v3m0 37v3m6 -95v3m0 89v3m0 43v3m0 3v3m6 -146v2m0 78v2m0 6v12m0 40v6m13 -138v3m0 3v8m0 66v6m6 -46v3m0 3v6m0 22v3m0 9v3m6 -15v3m6 -68v2m0 69v3m6 -83v3m0 11v6m0 3v3m0 11v3m0 12v2m6 -31v11m0 15v3m0 2v3m6 -26v3m0 3v3m0 55v8m0 29v3m6 -115v3m0 11v3m0 6v3m6 -26v9m0 2v6m0 17v3m13 -50v2m0 11v3m0 3v3m0 2v3m0 6v3m0 9v2m0 3v9m0 3v3m6 -58v3m0 40v3m6 -23v9m0 14v3m0 40v3m6 -92v9m0 6v2m0 46v6m6 -52v6m0 6v6m0 5v3m0 6v3m0 11v6m0 26v3m6 -95v3m0 11v6m0 3v3m0 3v3m0 8v6m6 -46v3m0 11v6m0 55v3m6 -75v3m0 3v3m0 80v3m6 -35v3m0 3v3m0 3v3m13 -52v6m0 34v9m0 11v3m6 -31v2m0 75v3m6 -78v3m0 20v6m6 -23v9m6 31v3m6 -74v5m0 9v6m0 8v3m6 -31v3m0 17v5m0 38v3m6 -43v2m13 -2v2m12 -25v3m0 77v3m6 -98v6m0 37v3m6 100v3m6 -146v3m0 9v3m0 120v3m6 -112v3m0 31v3m0 35v5m0 23v3m0 3v6m6 -123v2m0 3v9m0 109v3m6 -121v3m0 3v11m0 32v3m0 63v3m13 -106v5m6 -2v2m6 -11v3m0 3v5m0 38v3m0 31v3m6 -23v3m6 -55v3m0 46v3m0 23v3m6 -3v3m6 -80v2m6 12v3m0 20v6m19 -38v3m0 9v3m0 3v2m0 43v3m6 -74v8m0 3v17m0 12v6m0 5v3m0 3v3m6 -63v3m0 8v3m0 37v3m0 29v3m6 -37v2m0 15v6m0 11v6m6 -75v3m0 26v11m0 20v3m0 9v3m0 3v2m6 -80v3m0 29v8m0 35v5m6 -48v3m0 5v9m6 -6v3m13 -31v2m0 35v3m0 28v3m18 -66v6m0 52v2m6 -77v3m0 9v5m0 43v3m0 3v11m0 3v6m0 32v8m6 -120v3m0 3v2m0 3v3m0 55v2m0 9v3m6 -75v3m0 121v5m6 -129v6m6 -8v2m0 9v3m0 57v3m0 9v2m13 -45v3m0 2v3m0 3v3m0 20v3m6 -6v3m6 -37v3m0 28v3m0 3v6m0 11v3m6 -72v9m0 34v6m0 49v3m6 -98v3m0 40v6m6 -43v3m0 3v3m6 0v3m0 80v3m6 -104v6m0 6v3m13 60v3m6 -3v6m6 -12v6m0 20v3m6 -100v11m0 49v3m0 2v3m0 3v3m6 -11v2m6 -51v3m0 3v3m0 40v2m6 -42v2m0 3v3m0 72v3m6 -72v3m6 28v3m13 6v3m6 -6v3m12 -46v6m0 11v3m0 63v3m6 -89v6m0 9v5m0 3v3m6 -31v3m0 2v12m6 17v6m0 43v3m0 2v3m6 -77v6m0 14v3m0 46v5m0 43v3m6 -126v3m0 120v6m13 -80v3m0 31v3m12 58v2m6 -8v3m6 0v3"/>
<path stroke="#3e9900" stroke-width="7" d="M137.5 86v2m0 18v3m0 37v3m0 25v3m61 -77v3m0 17v6m0 8v9m0 6v3m0 34v3m61 -86v3m0 48v3m55 -46v3m61 72v3m55 -52v3m0 77v12m0 3v3m61 -66v3m61 17v3m0 23v2m0 3v3m0 3v6m55 14v3m0 11v6m61 -63v3m0 6v3m0 71v3m61 -91v2m0 3v3m0 3v3m0 66v3m0 5v6m0 29v2m0 3v3m55 -100v6m0 34v6m61 -3v3m0 20v3m55 -38v3m0 3v3m0 6v3m61 45v3m61 -45v5"/>
<path stroke="#258a00" stroke-width="3" d="M47.5 91v6m0 109v7"/>
<path stroke="#258a00" stroke-width="6" d="M52 80v6m0 17v3m0 20v5m6 -48v3m0 17v3m0 91v3m6 -126v3m6 57v3m0 60v3m6 -66v3m13 -49v3m0 6v3m0 37v6m0 69v5m6 -129v3m0 6v6m0 37v3m6 -43v3m0 63v3m6 -83v5m0 20v3m6 -28v8m0 75v3m0 31v3m6 -120v5m0 6v3m0 46v3m0 54v6m6 -118v6m0 6v6m0 34v6m6 -63v2m0 12v3m0 71v3m13 -71v3m6 -21v3m0 124v2m6 -114v6m6 -12v3m18 3v3m0 3v2m0 3v3m0 35v2m6 -48v3m0 111v6m6 -80v3m0 43v3m0 28v3m13 -126v3m0 26v8m6 -37v6m0 48v3m6 -57v6m0 43v3m0 8v3m6 -43v3m0 34v15m0 17v3m6 -75v6m0 29v2m6 -34v6m6 -26v3m0 6v2m0 3v6m0 75v2m6 -91v5m0 9v3m6 -23v3m0 17v6m0 23v3m0 43v2m13 -91v3m0 5v3m0 20v3m6 -17v3m0 3v5m0 101v5m6 -129v6m0 118v3m6 -92v14m6 -20v3m0 97v3m0 12v2m6 -123v6m6 23v3m0 74v3m6 -129v3m0 32v3m13 -3v3m0 8v6m0 40v3m0 34v6m6 -132v3m0 32v2m0 89v3m6 -123v3m0 17v3m0 14v3m0 6v3m0 74v3m6 -120v2m0 21v2m0 52v3m0 37v3m6 -120v2m0 9v6m0 23v3m6 -41v3m0 26v3m12 -17v8m0 6v3m0 49v3m6 -89v3m0 14v3m0 11v3m0 6v3m0 3v5m0 81v2m13 -123v3m0 32v5m0 6v6m0 3v3m0 22v3m6 -89v3m0 46v3m0 9v3m0 28v3m6 -92v6m0 43v9m0 34v3m12 -98v3m0 9v3m0 20v3m6 -32v3m0 9v5m0 3v3m0 69v3m0 46v3m6 -144v3m0 37v6m0 6v3m0 37v9m6 -101v3m0 77v3m0 52v3m13 -129v3m0 8v3m0 115v3m6 -115v3m0 20v3m0 31v3m0 3v3m6 -57v2m0 3v3m0 3v9m0 3v2m0 18v2m0 3v12m6 -86v6m0 22v3m0 9v11m0 20v6m6 -31v3m6 -35v6m0 11v3m0 6v3m6 -43v6m0 8v9m0 3v2m0 104v3m6 -121v3m0 17v6m0 52v2m6 -91v3m0 20v2m0 6v3m0 3v3m0 3v5m0 43v3m13 -83v3m0 9v2m0 12v3m0 8v3m0 40v3m6 -83v3m0 40v3m0 3v3m0 8v3m0 23v6m6 -46v3m0 8v3m0 29v6m6 -46v3m6 -32v3m0 9v5m0 12v6m0 2v3m0 6v3m0 20v3m6 -72v3m0 3v3m0 26v2m0 35v3m6 -92v3m0 60v6m6 -66v3m0 8v9m0 3v8m0 9v11m0 6v6m6 -71v5m0 20v3m0 11v3m0 3v17m0 9v3m0 26v2m13 -11v6m6 -20v3m0 2v3m6 -37v3m0 6v2m0 29v6m0 3v3m6 -49v14m0 35v2m6 -51v3m0 8v3m6 -23v3m0 9v3m6 -6v3m0 5v3m0 38v2m6 -48v3m0 37v3m13 -60v11m0 3v6m0 54v3m6 -3v6m6 -99v1m6 52v3m0 43v3m6 -99v4m0 46v6m0 40v3m0 28v3m6 -94v5m0 58v3m6 -95v11m0 12v3m6 -15v3m0 9v6m0 23v8m6 0v3m0 34v3m13 -77v3m0 109v2m6 -114v6m0 2v3m6 38v8m0 55v5m6 -60v3m0 20v3m0 31v3m6 -106v3m0 35v2m6 -48v14m0 34v9m6 -11v2m6 -14v6m6 40v6m13 -95v3m0 6v5m0 6v9m0 3v3m0 20v5m0 9v3m0 3v5m0 6v3m0 3v3m6 -89v3m0 46v5m0 32v3m0 3v2m6 -91v8m0 43v3m0 9v8m6 -68v5m0 40v9m0 12v11m6 -72v3m0 40v6m6 -43v3m0 6v3m0 2v3m0 20v9m0 31v3m6 -74v6m0 20v5m6 -17v12m0 11v6m13 -3v3m6 -35v3m12 6v6m0 43v3m6 -66v3m0 65v3m0 46v3m0 6v5m6 -137v3m0 3v3m0 2v3m0 43v3m0 6v6m0 2v3m0 55v5m6 -134v6m6 60v3m0 11v3m6 -23v3m0 11v3m0 14v6m13 -48v2m0 3v3m0 20v3m6 -31v8m0 6v14m0 26v3m6 -60v3m0 22v3m0 3v3m0 46v3m6 -89v11m0 9v6m0 11v3m0 17v6m0 26v3m6 -98v6m6 0v3m0 17v6m6 0v3m6 -26v6m0 80v3m0 2v6m13 -109v3m0 6v3m6 48v3m0 3v6m0 6v5m12 -65v5m0 40v3m0 29v3m6 -89v11m0 32v6m6 -46v3m6 11v3m0 66v3m12 -66v3m13 68v3m6 -37v6m6 -35v3m6 -23v3m0 15v2m6 -8v3m6 -17v2m0 15v8m0 9v6m6 -26v3m6 57v6m0 5v6m0 35v2m6 -97v3m0 6v5"/>
<path stroke="#258a00" stroke-width="7" d="M82.5 137v3m55 3v3m0 66v3m61 -89v8m0 9v3m0 83v3m61 -131v2m0 8v9m0 3v3m0 14v14m0 41v2m55 -83v3m0 35v8m61 -6v3m0 9v6m0 8v3m55 -47v1m0 98v3m0 37v3m61 -130v4m0 8v9m0 3v11m0 9v5m0 3v3m0 37v3m61 -57v3m0 28v3m0 3v3m0 29v3m55 -85v4m0 18v2m0 9v3m0 3v5m0 32v3m0 6v2m61 -54v6m0 77v3m0 29v2m61 -40v3m0 12v3m0 22v3m55 -100v3m0 6v5m61 46v9m0 11v3m55 -46v3m61 20v3m0 75v5m61 -54v8"/>
<path stroke="#118100" stroke-width="3" d="M47.5 88v3"/>
<path stroke="#118100" stroke-width="6" d="M52 97v6m6 -3v3m0 3v3m6 -3v3m6 -6v3m0 57v3m6 -63v3m0 31v3m0 26v3m13 -66v3m6 -15v3m0 121v2m6 -131v8m0 43v3m0 75v5m6 -129v3m0 15v2m0 29v6m0 20v3m0 31v6m0 9v8m6 -129v3m0 14v6m6 26v3m0 26v2m6 29v6m25 -103v3m12 -15v3m0 49v3m12 -55v3m0 17v12m6 -20v3m0 2v3m6 -11v3m0 3v5m6 -11v3m0 14v3m0 11v3m0 12v3m0 37v3m0 34v3m13 -126v3m0 80v3m6 -29v3m0 6v3m6 -20v8m0 3v9m6 -58v6m6 -6v3m0 121v2m6 -134v3m0 8v3m0 75v2m6 -94v6m6 -6v3m0 5v9m6 -14v11m13 17v3m0 17v3m6 -48v5m0 12v3m0 5v3m0 3v3m6 -40v3m0 34v3m0 57v3m0 35v2m6 -103v6m0 109v3m12 -124v3m6 20v3m0 81v2m6 -123v3m0 26v3m0 3v2m0 9v3m13 -52v9m0 86v3m6 -92v6m0 37v6m0 77v3m6 -132v3m0 17v3m0 6v3m0 14v3m6 -23v3m0 8v6m0 12v2m0 38v3m6 -69v8m0 12v3m6 -26v6m6 11v3m0 92v3m6 -118v6m0 8v6m6 0v3m0 6v3m19 11v6m6 -49v3m6 -9v9m6 -3v3m0 26v3m6 -3v5m0 9v3m0 46v3m6 -86v5m0 29v3m6 6v3m0 25v3m0 12v3m13 -43v2m6 -31v3m0 11v3m0 40v3m0 6v3m6 -61v3m0 3v3m0 9v3m0 37v3m0 40v3m6 -101v9m6 -34v5m0 26v9m0 51v3m6 -103v6m0 8v3m0 20v6m6 -29v3m0 9v3m6 -23v3m0 5v3m0 80v9m0 26v6m6 -121v3m0 20v3m0 3v3m0 51v6m0 32v2m13 -94v6m0 51v6m6 -46v3m12 3v3m6 -55v6m0 17v3m0 29v2m0 12v3m0 23v3m6 -66v8m0 6v9m0 5v3m0 3v6m0 17v3m0 3v3m6 -75v3m0 3v14m0 12v2m0 6v3m0 6v3m0 23v2m6 -74v3m0 8v9m0 11v6m0 6v6m6 -63v2m0 6v3m0 17v3m13 43v3m0 6v5m0 29v3m6 -54v2m0 3v6m0 3v6m6 -6v3m6 -69v3m0 17v3m6 3v8m6 -23v3m0 3v3m0 11v3m6 -49v3m0 21v5m0 3v6m6 -37v2m0 21v2m0 3v3m0 52v3m13 -84v3m0 29v3m6 -34v2m6 0v3m6 123v3m6 -120v9m0 83v3m0 22v3m6 -123v3m0 3v3m0 28v3m6 15v2m0 69v3m6 -97v2m6 26v3m13 -40v3m0 109v3m6 -118v6m0 46v3m0 2v3m0 60v3m6 -34v3m6 -37v2m6 0v3m12 -14v9m12 31v3m0 6v3m0 25v3m13 -123v6m0 63v3m0 8v3m0 34v3m6 -120v3m0 63v3m0 14v3m0 6v3m6 -12v3m0 3v6m6 -92v6m0 83v3m6 -84v3m0 78v3m6 -72v6m0 3v2m6 -11v3m0 6v8m19 63v3m6 -69v3m18 35v2m6 6v6m0 11v6m6 -83v3m0 6v2m0 3v3m0 46v6m0 14v6m6 -29v9m0 3v2m0 3v6m0 3v14m6 -89v9m0 34v3m0 9v3m0 5v3m13 -14v9m6 -12v6m0 43v3m0 8v3m6 -71v2m0 9v6m0 54v6m0 3v3m6 -75v3m0 6v3m0 11v3m0 20v6m6 -69v14m0 12v8m6 -28v3m0 8v3m0 6v5m0 29v9m6 -60v5m0 9v3m0 3v2m0 32v6m6 -40v2m0 61v2m13 -100v6m0 80v3m6 -9v6m12 -77v6m0 5v3m6 -6v6m0 69v6m6 -75v3m18 0v3m0 69v2m19 -80v3m6 12v2m6 -5v3m0 25v3m0 37v3m6 -77v3m0 28v3m6 -31v3m6 0v3m0 2v3m12 -17v3m0 17v3m0 3v6m13 -38v3m0 132v3m18 -132v3m12 -1v4"/>
<path stroke="#118100" stroke-width="7" d="M137.5 97v9m61 83v6m0 37v6m61 -129v2m0 9v3m55 -6v3m0 40v3m0 43v3m61 -37v8m0 3v3m55 -46v6m0 3v3m0 40v3m0 86v2m61 -100v3m0 3v3m0 5v3m0 43v6m61 -89v3m0 6v3m0 11v3m0 74v3m0 26v3m55 -95v9m0 3v3m0 40v6m61 34v6m0 20v3m61 -26v3m55 -81v3m0 20v3m61 32v11m0 15v2m55 -25v3m0 22v3m0 32v6m61 -55v3m61 31v6m0 3v3m0 26v5m0 52v3"/>
<path stroke="#007902" stroke-width="3" d="M47.5 97v3m0 95v2"/>
<path stroke="#007902" stroke-width="6" d="M52 106v3m6 0v2m12 58v3m19 -63v2m0 106v3m6 -111v2m0 26v3m12 29v3m6 -32v9m6 -66v3m12 20v8m13 -20v3m0 115v3m6 -115v6m6 -18v3m0 6v3m6 -9v3m0 46v6m6 -6v9m6 40v3m6 -75v9m0 63v3m6 -78v6m6 -14v3m0 8v3m0 3v11m0 3v9m13 43v6m6 -29v3m12 -58v3m6 -5v5m0 78v5m0 43v3m6 -140v3m0 8v3m0 75v3m6 -84v3m6 115v3m6 0v3m13 -3v6m6 -124v3m0 3v3m0 14v3m0 17v3m6 -51v2m0 6v3m6 11v6m6 0v3m0 95v3m6 -109v2m0 107v5m6 -86v6m0 40v3m6 -52v3m0 49v3m13 -63v3m0 89v5m6 -103v6m6 -6v3m0 23v3m0 80v3m6 -106v3m0 20v3m0 77v3m6 -98v12m0 40v6m6 -63v8m0 95v3m6 -115v3m0 11v6m0 57v3m12 -57v3m19 23v3m18 -55v3m6 20v3m0 3v3m0 5v3m0 3v3m6 -43v9m0 25v3m0 9v3m6 -49v6m13 14v3m0 14v3m0 49v6m6 0v3m18 -92v3m0 97v3m6 -95v3m12 -10v2m0 5v3m19 -3v6m6 52v8m6 -11v8m6 -2v5m12 -3v3m0 3v3m6 -46v3m0 3v3m0 14v6m0 3v3m0 2v6m0 29v6m6 -3v3m0 28v3m6 -123v6m0 2v3m0 9v3m0 6v2m0 89v3m13 -29v3m6 -80v3m0 63v3m6 -43v6m6 45v3m6 -94v3m6 -3v5m0 3v3m0 35v2m6 -17v3m0 57v3m0 3v3m6 -95v3m0 20v3m0 3v9m0 46v2m19 -68v5m6 -8v3m6 -9v3m0 6v3m12 -9v3m0 37v9m6 -23v3m6 20v3m6 2v3m13 -40v3m6 52v2m0 58v5m6 -28v3m12 -35v3m12 -34v6m0 5v6m6 72v5m6 -5v2m13 -25v5m0 23v3m6 -54v6m6 2v6m0 14v3m12 -94v5m6 3v3m6 3v3m6 9v5m13 -3v9m6 -3v3m30 -3v3m0 40v3m0 6v3m0 17v3m0 2v6m6 -26v3m6 -51v5m0 21v2m0 6v3m0 6v5m0 52v6m13 -26v3m6 17v3m6 -75v9m0 6v5m0 35v8m6 -63v6m0 12v2m6 -17v12m6 5v3m0 35v3m6 -58v9m0 46v8m6 -51v3m0 37v8m13 -71v3m0 20v8m6 -43v6m0 3v3m0 26v2m0 23v3m0 23v6m6 -92v3m0 3v6m0 8v3m6 -20v6m12 86v3m31 -78v3m0 80v3m6 -3v3m12 -77v3m0 31v3m0 43v3m6 -57v2m0 46v6m6 -66v6m6 -14v2m6 -5v11m6 49v3m13 -46v3m0 3v2m0 3v9m0 80v3m12 6v3m6 -139v1m6 0v6"/>
<path stroke="#007902" stroke-width="7" d="M82.5 134v3m0 29v3m55 -81v6m0 17v3m122 -8v3m0 123v6m55 -92v6m0 11v6m0 40v3m61 -55v9m55 -20v3m0 3v2m0 35v3m61 -38v6m0 26v3m61 -23v3m0 3v2m0 84v2m55 6v3m122 23v3m55 -75v6m61 77v3m55 -5v2m0 41v2m122 -60v3m0 23v3m0 14v3"/>
<path stroke="#00831b" stroke-width="3" d="M47.5 100v6m0 5v3"/>
<path stroke="#00831b" stroke-width="6" d="M52 195v2m6 -86v3m0 12v5m6 -22v2m0 20v3m25 -28v3m6 -3v3m6 0v2m18 0v3m12 29v3m0 60v3m13 -118v3m0 3v9m0 103v3m6 -118v6m6 -6v3m12 17v3m0 3v3m0 63v6m6 -6v3m6 -63v5m6 -11v6m0 3v2m0 12v3m6 -37v2m13 84v2m0 35v3m6 -72v3m0 23v8m6 -77v3m0 66v3m6 -83v2m12 -2v5m12 118v3m6 0v3m13 -98v14m6 -37v3m0 23v14m6 -37v20m0 3v6m0 3v2m0 3v3m0 89v3m6 -135v3m0 6v5m0 72v3m6 -3v3m6 -3v3m6 0v3m0 26v3m6 -81v6m19 -26v3m0 6v3m0 20v3m0 66v5m6 -117v3m0 2v6m6 12v3m0 14v3m12 -12v3m0 89v3m6 -109v11m0 61v2m0 35v3m49 -121v3m6 40v3m6 -26v6m0 12v2m6 15v3m13 -29v3m0 14v15m6 -26v5m0 3v3m6 55v5m6 3v3m6 -97v3m0 123v3m6 -3v3m6 -124v3m6 -5v2m6 -2v2m0 3v3m13 83v3m36 -37v3m6 46v2m6 -97v3m0 26v3m0 68v3m13 -105v5m6 92v2m6 -83v9m6 -9v9m6 -12v6m0 6v3m0 77v3m6 -95v3m0 3v3m0 83v3m6 -6v3m6 -6v9m19 -92v3m0 6v3m6 -3v3m6 0v3m6 -9v3m6 37v3m6 3v3m6 0v3m0 74v6m6 -29v3m25 9v3m6 -41v6m6 29v3m0 23v2m12 -85v5m12 80v3m13 -34v3m0 34v3m6 -51v8m0 34v3m6 -25v2m6 0v3m6 0v3m12 -86v3m6 -11v8m0 12v3m0 5v3m0 66v6m49 -17v2m0 3v6m0 17v3m6 -3v3m6 -72v3m0 15v3m0 5v3m13 12v8m0 29v6m0 5v6m6 -3v3m6 -9v3m6 0v3m6 -20v9m6 -60v8m0 55v2m12 -65v8m0 46v3m0 8v3m13 -71v3m0 14v3m0 51v3m6 -83v3m0 3v8m0 15v3m0 2v6m6 -40v3m0 6v8m6 3v3m12 92v3m31 -98v3m6 -3v3m6 -3v3m0 6v3m0 28v3m0 40v3m6 -83v3m6 20v6m0 45v3m24 -77v3m0 66v14m0 29v5m13 -123v3m0 23v3m0 3v3m0 2v3m0 86v3m6 -100v3m0 3v17m0 83v3m6 -3v3m6 -89v6m12 -46v8"/>
<path stroke="#00831b" stroke-width="7" d="M82.5 103v6m55 -15v3m0 12v2m61 -8v11m0 3v3m177 103v3m55 -72v3m61 -5v2m0 124v3m61 -107v3m55 92v3m61 -29v9m116 -9v3m0 3v3m0 11v6m116 12v2m0 15v3m0 65v6m122 -83v3m0 74v3m0 43v6"/>
<path stroke="#008c33" stroke-width="3" d="M47.5 106v5"/>
<path stroke="#008c33" stroke-width="6" d="M52 109v2m0 9v3m18 -17v3m0 22v3m6 -28v3m0 60v3m13 -3v3m0 28v3m30 -89v3m6 -3v3m6 23v3m0 66v3m13 -124v3m0 20v6m6 -26v3m0 17v3m0 26v6m0 66v3m12 -29v3m6 -72v3m0 3v6m0 5v6m6 -14v3m6 2v3m6 -8v3m0 2v6m0 9v3m6 -38v6m13 118v3m6 -121v3m6 -14v5m0 3v6m0 72v3m6 0v2m0 41v2m12 -11v3m6 -3v6m31 14v3m6 -103v3m0 2v3m6 -37v6m6 -6v3m0 11v3m6 98v3m6 -98v3m6 0v3m25 66v3m6 -55v6m18 46v3m6 40v3m49 -95v3m6 -6v12m6 -26v3m0 3v8m0 14v3m0 3v3m0 3v3m0 92v2m13 -109v3m0 58v3m6 -64v3m0 61v2m12 6v3m6 23v3m6 -126v5m0 92v3m6 -97v2m12 0v3m0 121v3m49 2v6m12 -112v3m0 9v3m13 -15v6m6 -20v3m0 14v3m6 -19v2m0 92v5m6 -89v3m6 -10v2m0 3v2m0 6v6m0 83v3m6 -3v3m6 -98v6m19 0v3m0 9v3m6 -6v3m6 -12v6m0 115v2m6 -117v3m18 37v3m0 3v6m6 -9v3m6 63v3m31 -6v3m12 -40v3m0 37v3m6 -72v6m31 94v6m12 -31v2m6 0v3m6 -89v3m6 -5v8m6 0v12m37 11v3m6 32v2m0 35v3m0 2v3m6 -23v3m0 15v2m12 -71v3m13 89v5m6 -8v5m0 12v3m12 -17v5m0 3v3m6 -14v5m6 0v6m12 -63v9m0 51v3m13 -14v11m6 -66v3m6 23v3m12 -23v6m43 -3v11m6 -8v3m0 28v3m6 -23v3m0 63v3m6 -66v6m24 -20v3m13 111v3m6 -128v2m0 32v3m6 -35v3m0 6v11m0 17v15m6 -43v3m0 3v8m6 -14v11m0 29v9m6 -6v6"/>
<path stroke="#008c33" stroke-width="7" d="M82.5 169v3m0 25v3m55 -86v3m61 -3v3m232 69v3m122 -26v3m0 14v3m116 57v3m116 9v3m0 3v5m61 69v3m55 -40v3m0 66v2m0 6v3m61 -83v6m0 23v2"/>
<path stroke="#009443" stroke-width="6" d="M58 114v3m6 -6v3m6 -5v2m6 86v3m55 -86v3m13 -8v2m6 26v3m6 -49v3m0 46v6m0 69v2m6 -106v12m0 11v6m6 -11v5m6 -5v2m0 12v6m6 -15v6m0 3v3m6 -9v6m0 6v3m19 -46v3m6 -3v11m6 -6v3m6 78v3m0 40v3m6 -6v3m6 -3v3m49 -3v3m6 -104v3m6 -14v9m6 -9v3m25 3v5m6 -2v2m0 109v6m12 -34v3m0 34v6m6 -46v8m12 35v3m6 -35v3m0 32v3m13 -35v3m6 0v3m36 -80v3m0 8v3m0 14v3m0 3v3m13 -20v3m0 3v2m0 64v2m6 32v3m24 -3v3m61 -6v3m0 11v3m6 -11v8m12 -23v3m19 -3v6m6 -100v3m6 -3v3m12 14v6m0 83v3m6 -89v3m6 -12v15m0 77v3m13 -95v3m0 3v6m6 -9v6m6 117v3m24 -86v6m12 9v5m0 49v6m13 -46v6m18 40v3m6 0v5m6 -57v9m0 3v2m0 38v3m61 -86v2m0 89v3m6 -3v6m6 -3v3m13 26v6m24 -95v6m6 28v3m0 35v2m0 3v3m0 17v3m12 -17v3m6 -72v3m0 3v9m0 51v6m13 20v3m6 -12v3m6 0v3m6 -11v3m12 8v6m6 -9v3m19 -71v2m0 6v6m0 77v3m6 -80v3m6 8v3m18 -17v3m0 17v3m6 49v2m25 -74v6m0 14v6m6 -3v6m0 2v3m6 -34v3m0 23v3m0 2v3m6 -17v6m0 8v3m0 63v3m12 -23v3m18 -74v3m13 -12v3m6 -6v3m0 20v3m0 97v9m6 -126v3m0 11v6m0 6v5m6 -31v3m0 3v3m0 8v3m0 17v6m6 -29v3m6 -6v3m0 9v3m0 17v3m0 74v3m0 9v3"/>
<path stroke="#009443" stroke-width="7" d="M137.5 177v3m61 43v6m232 -72v6m0 14v9m0 52v2m122 -63v3m0 83v3m55 -89v3m0 9v6m177 51v3m0 6v3m0 51v3m61 23v6m55 -55v3m0 57v6m0 9v3m61 -66v3m0 17v3m61 -29v3m0 74v3m0 37v3"/>
<path stroke="#009c53" stroke-width="3" d="M47.5 114v6"/>
<path stroke="#009c53" stroke-width="6" d="M52 117v3m6 -3v3m6 -6v3m0 12v2m6 -20v3m6 81v2m13 -86v3m0 9v8m0 41v2m6 -5v5m6 -51v3m0 74v3m24 -63v3m19 -26v3m0 60v3m6 -69v6m0 63v3m6 -75v3m0 23v3m0 43v6m0 23v3m6 -92v6m0 2v3m12 15v3m18 65v3m13 -111v5m12 81v2m12 38v3m12 5v6m43 -14v3m6 -115v3m12 -3v3m0 8v6m6 -9v3m0 3v6m13 -20v3m0 14v6m6 -12v3m6 101v2m6 3v3m24 -26v3m61 -51v2m0 64v2m13 -71v3m12 68v6m6 3v3m0 23v3m6 -29v3m6 -3v3m0 3v5m6 -11v9m25 20v3m6 -29v3m24 17v6m6 -6v3m12 -9v6m13 -106v11m0 89v3m6 -92v3m6 -6v3m6 -5v2m0 89v6m12 -80v3m6 -12v6m0 3v3m6 0v3m13 83v3m6 20v2m30 -88v5m6 6v3m0 54v6m19 -43v3m12 3v3m6 -20v3m0 60v3m6 -55v9m6 -23v6m0 63v2m0 18v2m6 -5v3m37 5v3m0 3v3m12 -3v3m6 -123v3m0 97v3m6 -3v6m19 -6v3m24 11v3m6 -14v3m0 11v3m0 17v9m6 -75v3m6 0v3m6 -23v3m0 66v3m37 8v9m12 -3v6m19 -72v3m0 80v3m12 -74v3m0 2v3m18 9v3m6 -26v3m0 20v3m6 0v3m6 -6v8m13 -25v3m0 17v8m6 -14v3m0 6v2m0 3v3m0 58v2m6 -74v3m0 3v2m6 -2v2m12 49v3m6 29v3m6 -3v3m6 -106v8m0 92v3m13 -112v3m0 14v3m0 60v3m0 32v2m6 -117v9m0 2v6m0 3v3m0 103v3m6 -132v3m0 20v6m0 89v8m6 -97v11m0 83v6m6 -95v12m0 77v3m0 3v9m6 -121v3m0 3v3m0 14v6m0 80v9"/>
<path stroke="#009c53" stroke-width="7" d="M82.5 109v8m0 78v2m55 12v3m177 -92v3m116 51v3m0 63v3m0 29v3m177 -95v3m61 34v3m0 18v2m116 72v3m61 29v2m55 -63v3m0 3v6m61 20v3"/>
<path stroke="#00a866" stroke-width="3" d="M47.5 120v3"/>
<path stroke="#00a866" stroke-width="6" d="M52 111v6m12 0v3m0 6v3m6 66v2m19 -83v9m0 8v3m6 -20v3m0 17v3m0 63v3m6 -92v12m6 -9v3m6 0v6m18 -6v3m13 20v3m0 40v3m6 -52v3m0 72v3m6 -98v3m6 12v2m12 0v6m6 3v3m0 3v3m12 63v5m0 3v3m13 -109v6m6 112v3m6 0v5m18 -43v6m31 46v3m6 -49v3m18 -80v5m6 75v3m6 -83v8m6 -14v3m0 6v2m19 0v3m12 106v3m85 -80v3m0 74v3m0 26v3m19 -32v3m6 3v3m18 3v3m0 5v3m6 -17v3m0 9v8m0 6v3m31 6v2m18 -20v3m6 12v5m6 -14v3m6 0v6m0 5v3m19 -23v3m6 -100v6m6 -3v5m0 89v3m12 6v3m12 -6v3m0 3v3m6 -6v6m13 -89v3m0 80v6m42 -55v3m0 63v6m6 -75v3m0 6v6m13 5v6m12 -8v5m0 3v6m6 -20v3m0 3v2m0 6v6m6 -14v2m0 15v3m6 -29v3m0 6v8m0 69v6m6 -23v3m0 2v3m0 15v5m6 -28v5m31 26v3m12 -3v3m0 3v3m6 -29v3m6 20v3m19 -83v3m0 60v3m6 -9v3m18 9v5m12 -40v3m6 -6v3m61 72v3m13 3v5m6 -77v3m6 -3v6m0 3v2m6 6v6m18 -6v6m6 -20v3m0 17v3m6 -6v3m13 -6v3m6 77v6m6 -86v6m0 74v3m6 -77v3m0 74v3m6 -20v3m0 14v3m24 3v3m13 3v3m6 -118v3m0 9v2m0 69v3m0 32v2m12 -97v6m0 91v3m0 6v6m6 -115v3m0 103v3m6 -109v3m0 6v3m0 57v3"/>
<path stroke="#00a866" stroke-width="7" d="M82.5 117v3m0 9v5m55 -17v3m0 20v3m61 66v3m116 -89v3m0 14v6m116 17v6m0 3v2m0 69v3m61 3v3m116 -69v6m0 89v3m61 -61v6m0 3v3m0 3v3m116 77v6m61 20v3m0 8v6m116 -46v3m61 -17v3m0 8v3m0 60v3m0 32v2"/>
<path stroke="#00b67b" stroke-width="6" d="M58 120v3m0 46v3m12 -58v3m0 9v5m6 -22v2m0 3v9m0 3v5m13 3v3m0 60v3m6 -89v3m0 3v3m0 3v3m0 3v5m0 63v3m6 -74v3m0 2v6m6 -20v9m24 11v3m13 -20v3m0 14v3m6 -17v3m0 3v5m6 -17v3m0 11v6m18 0v3m6 9v3m12 45v6m0 3v3m19 26v5m6 -43v3m6 -3v3m6 -3v3m12 -3v6m6 -3v3m6 0v3m0 40v3m25 -17v3m12 -29v3m18 -86v6m0 5v3m13 -11v3m0 8v3m103 26v6m0 71v3m13 26v3m18 -23v3m6 -3v3m12 11v6m6 -20v3m0 3v8m25 6v3m6 -12v3m12 -8v5m0 3v3m6 -3v3m6 -3v3m6 0v3m0 9v2m6 -11v11m19 -111v5m0 89v3m12 -100v3m0 97v3m18 0v3m6 20v3m13 0v3m42 -84v6m6 -6v3m0 3v6m0 80v6m13 -92v3m6 23v6m6 -23v6m0 5v3m6 -23v3m0 3v3m0 8v6m0 6v3m6 -23v6m0 2v6m6 -20v3m6 72v2m43 3v3m0 20v3m6 -23v3m6 20v6m25 -89v3m0 3v3m0 8v6m0 46v3m18 5v3m0 3v3m6 -17v3m12 34v3m6 -80v5m0 75v3m61 -9v6m13 -75v3m6 0v6m6 -3v3m6 11v6m6 -14v6m12 -6v3m0 5v6m6 -11v3m0 8v6m0 49v5m6 -71v3m0 8v3m19 -3v3m0 83v3m6 -92v3m0 75v5m0 3v6m6 -80v3m6 74v9m12 -3v3m6 -6v6m19 -98v3m6 66v3m6 -3v3m0 37v6m6 -46v3m6 -66v3m0 6v2m6 3v3"/>
<path stroke="#00b67b" stroke-width="7" d="M82.5 126v3m55 -9v3m0 11v3m122 66v6m55 -83v3m61 126v5m55 -91v3m61 94v3m61 -3v9m55 0v3m61 -52v3m0 3v3m116 106v3m61 2v6m116 -43v3m61 -17v3m0 5v6m0 95v3"/>
<path stroke="#00c591" stroke-width="3" d="M47.5 166v6"/>
<path stroke="#00c591" stroke-width="6" d="M64 120v3m0 46v11m12 -69v3m0 9v3m0 5v3m19 -14v3m0 3v3m6 0v2m6 -5v3m0 8v3m6 -17v3m6 -9v6m0 17v3m6 -26v3m0 17v3m0 34v3m25 -57v3m0 3v3m6 -9v9m6 83v5m6 -5v5m6 -77v3m12 72v5m6 -25v2m0 6v3m0 3v3m13 -6v3m0 3v3m0 11v6m18 8v3m6 -43v3m6 40v5m12 -45v3m0 6v3m0 2v3m6 -14v3m25 -6v3m43 -77v8m42 86v3m55 12v2m43 15v3m18 -9v3m0 3v3m0 8v9m6 -26v6m0 5v12m13 -20v8m0 9v6m6 -20v8m0 12v3m6 -18v3m0 3v3m6 -14v3m0 2v3m6 6v12m0 2v3m6 -23v3m6 -3v3m6 -6v3m0 15v3m6 2v3m68 15v2m6 -28v6m55 -61v3m0 6v3m0 3v5m0 58v3m6 -55v3m6 -29v3m6 3v3m0 26v3m6 -35v9m18 71v6m37 0v3m0 14v3m0 3v3m12 -20v8m0 6v3m6 -6v3m19 -71v2m6 58v5m6 3v6m6 -11v5m0 3v3m0 3v6m6 -26v3m0 11v3m6 -83v3m0 80v3m12 -83v3m0 20v3m0 74v6m6 -9v3m68 3v6m18 -60v2m6 -2v2m6 -8v6m0 8v3m6 -14v3m6 0v8m6 -3v3m19 75v3m6 -6v3m0 14v3m6 -17v5m0 6v3m12 -6v3m6 -23v6m25 -83v6m0 2v3m18 72v3m6 -66v6m0 57v3m6 -60v2"/>
<path stroke="#00c591" stroke-width="7" d="M82.5 120v6m0 91v1m55 -95v3m0 11v3m61 63v6m0 3v3m0 5v3m61 -23v3m0 6v3m55 -75v3m116 106v3m61 3v14m0 3v6m61 0v3m55 -6v3m0 23v3m177 37v3m116 14v3m122 -57v2"/>
<path stroke="#00d9b3" stroke-width="3" d="M47.5 172v2"/>
<path stroke="#00d9b3" stroke-width="6" d="M52 169v3m6 -49v3m0 46v2m0 21v2m6 -74v3m0 54v3m0 12v2m6 -80v3m0 63v9m37 -61v6m6 0v3m6 -17v3m0 5v3m0 3v3m6 -17v3m0 3v2m0 3v3m6 -6v6m13 -11v3m12 0v2m12 86v3m12 -28v3m6 17v3m19 -15v6m0 3v3m0 3v2m6 -11v9m12 17v3m12 -26v8m0 9v3m6 -26v12m6 -9v6m0 3v2m0 3v3m6 -23v3m0 6v3m13 -9v12m6 -9v6m0 20v3m18 -12v3m37 -14v3m18 28v3m6 -3v3m12 -20v3m6 -6v3m13 32v2m6 -2v2m24 6v3m6 -29v3m0 26v3m6 -26v3m13 -9v3m6 26v3m6 -23v3m0 20v3m6 -20v3m6 0v2m6 3v3m18 -11v5m0 12v6m13 -18v3m0 12v3m6 -15v9m0 6v3m6 -26v5m0 9v6m0 6v2m6 -20v12m0 6v2m6 -2v2m6 -25v5m6 -3v3m6 0v6m31 -3v3m30 29v3m61 -3v3m13 -75v3m0 3v3m6 8v3m0 55v2m6 -80v3m0 3v3m12 83v3m43 -15v6m6 -3v3m12 6v3m12 5v3m0 3v3m0 3v6m6 -23v3m0 14v3m13 -78v6m6 -14v6m0 2v15m0 37v6m6 14v3m6 -17v3m0 20v3m6 -12v6m6 -92v3m0 3v6m0 20v3m0 54v3m6 -60v5m0 69v3m6 -89v9m0 60v6m6 -3v3m0 11v3m68 6v3m6 8v6m6 -20v3m6 -69v6m0 63v3m0 5v9m6 -75v3m0 6v3m0 63v6m6 -78v3m0 55v5m6 -68v2m0 63v6m12 -71v2m13 3v3m0 80v6m6 -89v3m0 72v3m12 -6v6m0 14v3m12 -6v6m6 -6v6m6 -6v3m19 -97v2m0 72v3m30 -55v3m0 55v3"/>
<path stroke="#00d9b3" stroke-width="7" d="M82.5 172v2m0 41v2m55 -91v5m0 49v3m61 14v6m0 12v5m61 -8v5m0 29v3m55 -120v8m238 141v11m116 9v3m232 51v3m0 3v3m61 -55v3m61 92v3"/>
<path stroke="#00edd7" stroke-width="3" d="M47.5 174v3m0 15v3"/>
<path stroke="#00edd7" stroke-width="6" d="M52 172v8m6 -6v9m0 9v3m6 -12v3m6 -14v5m0 15v3m6 -23v2m0 3v3m13 -6v3m6 -3v3m6 -5v5m6 -48v2m6 -5v3m6 -3v5m0 3v3m6 -17v3m0 3v3m0 2v3m6 -14v3m13 0v3m0 3v2m0 3v3m42 58v5m0 9v3m19 -15v3m0 17v3m6 -20v6m0 9v2m6 23v3m12 -31v3m0 14v3m6 -26v3m0 11v6m6 -11v2m0 3v3m0 3v3m6 -6v3m6 -14v8m13 -5v2m18 0v12m6 -9v3m0 3v6m37 -17v2m6 -2v5m12 26v3m12 -29v3m0 3v6m6 0v3m25 25v3m6 -3v3m24 -20v6m6 0v3m0 14v3m13 -26v3m6 -3v3m6 6v3m6 17v3m43 -12v6m12 6v3m6 -20v2m0 15v3m55 -9v3m30 20v3m25 -20v3m6 3v5m18 -3v3m12 15v2m19 -74v3m0 8v3m6 -17v3m12 89v3m12 -15v3m6 0v6m0 3v3m19 0v2m12 -5v8m6 -14v9m6 -9v3m0 3v5m6 0v3m6 -8v5m6 6v6m0 3v3m19 -92v3m0 6v2m0 63v9m0 3v6m6 -29v6m0 3v5m0 9v6m12 -3v6m6 -69v3m0 60v6m6 -72v6m0 54v3m0 6v3m0 2v6m6 -97v11m0 75v3m6 -3v8m74 9v6m0 2v6m6 6v3m6 -83v3m0 63v5m0 9v3m6 -75v6m0 52v2m0 9v3m6 -77v5m0 63v9m6 -6v3m12 -72v3m0 60v6m13 12v5m6 -86v3m6 72v3m18 -6v6m0 20v3m31 -3v3"/>
<path stroke="#00edd7" stroke-width="7" d="M137.5 131v3m0 72v3m61 -14v2m177 29v3m116 46v3m177 23v2m0 12v3m293 -17v5"/>
<path stroke="#00fefc" stroke-width="3" d="M47.5 189v3"/>
<path stroke="#00fefc" stroke-width="6" d="M52 180v3m6 0v3m6 0v3m6 -69v6m0 51v6m6 -9v3m0 3v6m0 3v6m13 -18v6m12 -14v3m12 -43v8m0 40v3m0 15v2m0 3v3m6 -29v6m12 -54v3m0 48v3m13 -49v3m0 72v3m36 8v3m6 -20v9m19 11v6m6 -29v3m6 12v8m12 -5v2m6 -14v3m0 11v3m6 -3v3m0 3v3m6 0v3m0 17v4m6 -30v3m13 -6v3m6 -8v3m0 14v3m12 -17v2m0 12v3m6 -15v3m0 12v3m12 23v1m6 -27v3m13 -18v9m12 -6v3m0 6v3m6 -15v6m12 -3v9m0 6v8m0 3v3m6 -26v3m0 6v3m0 5v6m6 -17v3m6 -6v6m31 26v2m6 3v3m6 -3v3m6 -17v3m25 -6v3m12 20v3m6 -12v3m0 6v3m6 -6v6m37 26v2m12 -22v3m43 -12v6m36 20v3m6 -9v3m31 -14v3m18 5v9m0 6v5m6 -11v8m19 -2v2m6 -80v6m0 3v8m12 78v3m6 -18v3m6 -3v3m6 3v3m6 3v3m19 0v3m6 -12v3m0 9v2m6 -14v9m12 5v6m18 -8v8m19 3v3m6 -80v5m0 3v3m0 52v3m0 20v3m0 22v1m6 -112v5m0 55v3m0 46v2m6 -91v6m6 -9v3m0 69v2m6 -88v2m0 9v3m0 66v3m0 3v2m6 0v6m80 12v2m6 -5v3m0 8v3m12 -9v9m6 3v3m6 -6v3m25 -75v3m12 69v3m12 6v8"/>
<path stroke="#00fefc" stroke-width="7" d="M82.5 174v3m177 40v3m116 9v3m55 17v3m0 17v3m299 31v6m0 6v6m232 48v3m0 15v5"/>
<path stroke="#00e7ff" stroke-width="3" d="M47.5 177v3m0 6v3"/>
<path stroke="#00e7ff" stroke-width="6" d="M52 183v3m0 3v6m6 -9v6m6 -3v3m12 -6v3m13 -6v6m6 -12v3m0 37v3m12 -25v5m6 -28v5m0 3v6m0 3v6m0 2v3m6 0v3m12 -80v3m0 3v2m0 49v3m0 43v2m13 -25v3m0 23v2m18 1v3m6 0v1m6 -21v5m6 -25v2m0 18v2m31 6v3m6 -20v6m0 17v3m6 -32v3m0 23v3m6 -12v6m24 0v3m0 3v3m13 -3v3m6 -17v8m6 -14v17m0 3v3m6 -20v3m12 5v9m6 26v3m19 -46v5m0 9v6m6 -15v3m0 15v3m6 -15v6m0 3v6m6 -23v2m0 6v15m6 -23v2m0 15v3m6 -18v3m0 9v6m6 0v5m0 6v6m6 -17v5m0 26v4m6 -38v3m19 20v3m6 0v2m6 0v6m6 -34v3m0 25v3m6 -28v11m6 6v3m6 -3v3m13 -9v6m0 17v3m12 -17v3m6 0v2m6 6v3m37 26v3m12 -20v3m30 22v3m19 -31v3m6 31v3m49 -31v5m6 0v3m0 32v2m6 -45v5m30 20v6m6 -6v3m13 -3v3m0 9v3m6 -98v3m0 80v3m12 6v6m6 -12v3m6 -3v9m6 -3v3m6 29v2m6 -45v5m0 12v3m13 -12v9m0 31v1m6 -38v9m6 28v3m6 -31v2m12 3v3m25 -8v2m0 9v6m12 -86v3m0 5v3m0 3v6m6 -12v6m0 3v9m0 34v3m6 -57v5m0 6v6m6 -6v3m6 -20v6m0 8v3m0 66v3m6 6v2m55 41v2m31 -25v8m0 3v3m12 20v3m6 -20v3m6 -6v9m6 -18v6m0 6v6m6 -3v3m0 2v3m13 -91v2m0 78v3m6 -12v3m0 3v3m18 0v3m12 -6v3m6 -9v3m0 49v3m25 -23v3"/>
<path stroke="#00e7ff" stroke-width="7" d="M82.5 177v9m177 34v6m116 20v3m232 34v9m61 11v3m0 6v3m61 -14v2m0 6v6m293 112v4"/>
<path stroke="#00ceff" stroke-width="3" d="M47.5 180v6"/>
<path stroke="#00ceff" stroke-width="6" d="M52 186v3m12 3v3m25 -6v3m6 -12v3m0 37v1m6 -44v3m6 -8v11m0 6v6m6 -9v3m6 3v8m6 -23v3m0 20v3m19 -3v3m6 -11v14m0 23v4m6 -24v3m12 -9v6m0 23v3m6 -43v3m0 8v3m0 29v2m6 -31v3m0 26v2m31 -20v3m0 6v6m6 -29v3m0 26v3m6 -32v6m0 6v5m0 9v3m6 -23v3m24 14v3m0 20v2m13 -31v3m6 29v2m6 -48v3m0 17v3m6 26v1m6 -47v8m6 0v3m0 9v6m6 -15v9m6 0v3m13 0v6m6 -18v12m0 26v4m12 1v1m6 -41v9m0 6v2m18 3v3m0 3v3m6 -17v3m0 11v6m0 14v2m37 -36v5m6 6v3m6 17v3m25 -20v3m6 17v3m12 -9v3m6 23v3m43 6v3m49 -23v5m0 23v3m6 -23v3m36 -3v3m13 -3v9m6 -14v5m0 3v3m0 31v2m24 -44v2m6 12v6m6 31v2m6 1v1m13 -24v3m6 -9v3m6 -8v8m0 9v3m6 -20v8m6 0v6m12 0v3m12 -12v3m0 6v3m0 28v2m13 -45v6m0 37v3m12 3v1m6 -30v3m37 -3v9m12 -60v3m6 -9v3m0 97v2m6 -113v3m0 5v6m6 -11v2m0 3v6m0 97v3m6 -120v3m0 11v3m0 103v2m104 30v1m6 -1v3m12 -26v3m0 6v2m0 18v2m6 -31v6m0 3v2m13 -11v3m6 -6v3m18 0v3m18 -6v3m31 0v3"/>
<path stroke="#00ceff" stroke-width="7" d="M82.5 186v9m55 0v2m122 29v3m55 -17v23m61 -3v14m0 3v6m232 26v2m0 9v3m177 26v14m177 37v15"/>
<path stroke="#00b9ff" stroke-width="6" d="M89 192v3m12 -15v6m0 34v2m6 -39v6m12 0v3m6 5v3m19 -3v3m6 -11v3m0 14v3m6 -12v12m6 -3v6m6 -12v3m6 -8v2m0 3v3m0 3v3m6 -12v3m0 9v3m12 23v3m19 -18v3m6 -23v3m0 20v6m6 -9v3m6 -17v3m0 14v6m37 -6v3m0 26v1m6 -30v3m6 26v3m18 -40v2m6 0v3m0 9v3m6 -23v11m0 6v3m0 29v1m19 -27v3m6 25v3m6 -25v2m0 20v3m6 -43v3m0 12v3m0 2v3m18 -3v3m0 3v3m6 -6v6m13 -23v3m0 26v3m6 -6v3m12 -12v3m6 6v3m6 -6v6m0 5v3m31 3v3m6 -11v2m110 23v6m6 -6v3m24 9v3m6 -9v6m6 -12v3m0 32v2m13 -25v3m6 -6v3m6 28v3m6 -40v3m6 -8v2m0 9v3m0 31v3m6 -46v6m0 9v3m0 2v3m0 23v3m18 -26v3m0 23v3m13 -29v6m6 0v3m0 20v3m6 -29v9m6 -9v3m30 0v3m0 29v2m31 6v2m12 1v2m12 1v3m13 0v2m24 3v3m6 -109v3m0 106v1m6 -110v3m6 106v4m61 16v2m49 13v2m6 -31v3m6 -3v3m13 -6v3m61 55v2m6 -2v4m12 -2v3"/>
<path stroke="#00b9ff" stroke-width="7" d="M137.5 192v3m0 2v9m0 20v3m122 0v3m0 17v3m293 54v3m55 -14v3m61 8v3m116 26v3"/>
<path stroke="#00a5ff" stroke-width="6" d="M89 195v2m6 -14v3m6 0v6m0 5v3m18 -20v3m12 17v6m13 -20v11m6 -11v3m6 6v2m6 -8v8m0 3v6m6 -14v8m0 9v3m6 -15v3m6 0v6m6 29v3m6 0v1m25 -19v3m6 -14v6m0 8v3m43 0v3m6 -3v3m12 -23v6m12 -3v6m6 0v2m0 15v3m6 -15v6m13 32v3m24 -44v3m24 18v2m13 -11v3m0 20v3m6 -9v6m6 -14v2m6 0v3m0 3v12m6 -18v3m0 6v3m0 3v3m18 -3v3m13 -6v3m0 28v3m6 0v1m6 -1v2m6 -28v3m110 18v2m0 6v3m18 23v1m6 -27v6m0 20v2m6 -34v6m0 29v1m6 -38v2m19 15v3m6 -18v15m6 28v2m6 -45v9m0 3v3m0 31v1m6 -38v6m0 3v2m31 32v3m6 -29v3m0 3v3m0 20v1m24 2v3m18 -35v3m37 40v3m12 3v2m183 12v3m0 32v4m13 -36v3m30 3v11m43 12v3m6 -15v3m0 12v2m0 26v2"/>
<path stroke="#00a5ff" stroke-width="7" d="M137.5 189v3m61 46v1m177 30v3m55 -20v3m177 63v3m61 -12v3m116 46v4"/>
<path stroke="#0090ff" stroke-width="6" d="M95 186v3m6 3v5m18 -14v6m6 3v5m31 -8v6m6 2v3m12 9v3m6 0v3m25 23v3m18 2v3m6 -43v3m73 3v6m67 25v3m13 -11v3m0 11v3m6 -6v3m6 -17v6m0 5v6m0 9v3m0 17v2m6 -39v2m0 35v3m6 -35v6m0 9v2m6 -5v5m6 -5v3m0 5v3m6 -3v3m19 -14v3m0 28v3m12 -23v3m6 23v2m55 7v3m30 5v2m19 -39v3m6 11v3m0 3v3m0 17v4m6 -24v6m6 -3v3m6 -12v6m6 -8v2m6 -5v3m19 14v3m6 0v3m6 -12v3m0 6v5m6 -5v3m6 -12v3m43 46v2m12 1v1m305 39v3m0 8v3m6 -17v3m6 -6v6m31 6v5m0 3v6"/>
<path stroke="#0090ff" stroke-width="7" d="M137.5 183v6m177 69v2m293 61v1m61 13v2"/>
<path stroke="#007eff" stroke-width="6" d="M95 189v8m30 -17v12m6 -6v6m0 3v5m43 12v3m37 25v3m171 -8v3m0 5v3m0 3v3m0 20v2m6 -42v11m0 29v3m6 -40v3m0 14v3m12 23v2m18 3v2m13 -19v3m18 -3v3m0 17v4m110 -18v3m6 3v5m0 3v3m6 -8v8m0 23v3m6 -32v3m0 3v3m0 20v3m6 -40v3m6 0v3m0 34v3m37 -26v6m6 3v2m55 35v3m311 43v8m6 -11v3m31 48v3m6 -34v3m6 -12v6m0 9v2"/>
<path stroke="#007eff" stroke-width="7" d="M430.5 266v3"/>
<path stroke="#006dff" stroke-width="6" d="M131 183v3m0 6v3m86 48v2m12 -2v4m153 -9v5m6 -14v3m6 14v6m6 -20v6m12 43v1m6 -1v3m19 -29v3m6 -3v3m6 2v3m0 3v3m116 6v6m6 -9v3m6 -3v3m6 6v2m0 3v3m6 -11v5m421 109v3m6 -14v6m31 17v3m6 -26v3m0 5v3m0 6v3m0 8v3m6 -3v3"/>
<path stroke="#006dff" stroke-width="7" d="M430.5 255v3m0 25v3"/>
<path stroke="#005bff" stroke-width="6" d="M418 258v5m6 -5v5m19 -5v2m6 3v3m122 9v3m6 -3v6m6 -6v6m427 106v5m6 -5v11m25 -3v3m0 3v3m6 -20v3m6 0v2m0 12v6m6 -18v3m0 12v5"/>
<path stroke="#004bff" stroke-width="6" d="M437 263v3m6 -3v3m567 118v3m19 -6v3m0 11v6m6 -14v17m6 -23v3m0 5v6m0 3v3m6 -20v3m6 0v3m6 -3v5m0 3v3m0 3v6"/>
<path stroke="#004bff" stroke-width="7" d="M1022.5 398v3"/>
<path stroke="#003eff" stroke-width="6" d="M437 258v2m592 118v3m0 3v5m0 3v3m6 -11v3m6 -3v5m18 6v3"/>
<path stroke="#003eff" stroke-width="7" d="M430.5 263v3m592 109v3m0 17v3"/>
<path stroke="#0031ff" stroke-width="6" d="M437 260v3m6 -3v3m586 126v3m6 -14v3"/>
<path stroke="#0031ff" stroke-width="7" d="M430.5 258v2m592 118v17"/>
<path stroke="#0024ff" stroke-width="6" d="M1035 381v3"/>
<path stroke="#0018ff" stroke-width="7" d="M430.5 260v3"/>
<path stroke="#0000ff" stroke-width="3" d="M47.5 213v47"/>
<path stroke="#0000ff" stroke-width="6" d="M52 214v46m6 -45v45m6 -44v47m6 -46v46m6 -46v46m13 -43v46m6 -45v47m6 -46v46m6 -45v49m6 -48v48m6 -46v48m6 -47v47m6 -46v49m13 -46v50m6 -48v48m6 -47v49m6 -48v48m6 -47v50m6 -49v49m6 -49v49m6 -48v50m6 -49v49m13 -47v50m6 -48v48m6 -46v46m6 -45v48m6 -47v47m6 -46v46m6 -45v49m6 -48v48m6 -47v47m13 -45v47m6 -46v46m6 -45v45m6 -44v48m6 -47v47m6 -46v46m6 -45v45m6 -45v46m13 -44v48m6 -47v47m6 -46v48m6 -47v47m6 -45v49m6 -48v48m6 -46v48m6 -47v47m6 -46v50m13 -47v48m6 -47v47m6 -45v49m6 -48v52m6 -50v50m6 -48v50m6 -48v48m6 -47v51m13 -50v50m6 -49v50m6 -49v49m6 -47v47m6 -46v50m6 -49v49m6 -47v47m6 -46v46m6 -44v49m13 -47v47m6 -46v49m6 -48v48m6 -47v47m6 -46v49m6 -48v48m6 -47v47m6 -45v45m6 -44v50m13 -48v48m6 -46v49m6 -48v48m6 -46v49m6 -48v48m6 -47v49m6 -47v47m6 -46v50m13 -47v47m6 -45v50m6 -49v49m6 -47v51m6 -49v49m6 -47v47m6 -46v47m6 -46v46m6 -44v44m13 -42v47m6 -46v46m6 -45v50m6 -49v49m6 -48v48m6 -46v46m6 -45v49m6 -47v47m6 -46v49m13 -47v47m6 -46v51m6 -49v49m6 -48v48m6 -47v51m6 -49v49m6 -46v46m6 -45v48m13 -46v51m6 -49v49m6 -47v47m6 -46v50m6 -49v49m6 -48v50m6 -49v49m6 -47v51m6 -49v53m13 -50v52m6 -50v50m6 -48v51m6 -49v49m6 -47v47m6 -45v50m6 -48v48m6 -47v51m13 -48v51m6 -49v49m6 -46v46m6 -45v52m6 -50v50m6 -48v49m6 -47v48m6 -45v46m6 -44v44m13 -40v42m6 -39v40m6 -38v39m6 -38v39m6 -37v37m6 -36v37m6 -35v36m6 -35v36m6 -34v35m13 -32v33m6 -31v32m6 -31v32m6 -30v31m6 -30v31m6 -29v30"/>
<path stroke="#0000ff" stroke-width="7" d="M82.5 218v48m55 -36v47m61 -38v49m61 -36v46m55 -38v45m61 -33v49m55 -35v50m61 -38v48m61 -37v49m55 -36v48m61 -33v48m61 -36v48m55 -35v47m61 -32v51m55 -35v49m61 -29v43m61 -25v34"/>
</g>
</g>
<polyline points="47.1,214.3 50.1,214.7 53.1,215.2 56.1,215.6 59.1,216.1 62.1,216.6 65.1,217.1 68.1,217.5 71.1,218.0 74.1,218.4 77.1,218.9 80.1,219.3 83.1,219.8 86.1,220.3 89.1,220.9 92.1,221.5 95.1,222.1 98.1,222.7 101.1,223.3 104.1,223.9 107.1,224.5 110.1,225.1 113.1,225.7 116.1,226.3 119.1,226.9 122.1,227.5 125.1,228.1 128.1,228.7 131.1,229.3 134.1,230.1 137.1,230.8 140.1,231.6 143.1,232.4 146.1,233.1 149.1,233.9 152.1,234.6 155.1,235.1 158.1,235.6 161.1,236.0 164.1,236.5 167.1,237.0 170.1,237.4 173.1,237.9 176.1,238.3 179.1,238.6 182.1,238.9 185.1,239.1 188.1,239.4 191.1,239.7 194.1,240.0 197.1,240.3 200.1,241.1 203.1,242.0 206.1,242.9 209.1,243.8 212.1,244.7 215.1,245.6 218.1,246.5 221.1,247.3 224.1,247.7 227.1,248.2 230.1,248.7 233.1,249.1 236.1,249.6 239.1,250.0 242.1,250.5 245.1,250.9 248.1,251.4 251.1,251.8 254.1,252.3 257.1,252.7 260.1,253.2 263.1,253.6 266.1,254.1 269.1,254.7 272.1,255.3 275.1,255.9 278.1,256.5 281.1,257.1 284.1,257.7 287.1,258.3 290.1,258.7 293.1,259.0 296.1,259.3 299.1,259.6 302.1,259.9 305.1,260.2 308.1,260.4 311.1,260.8 314.1,261.2 317.1,261.7 320.1,262.1 323.1,262.6 326.1,263.0 329.1,263.5 332.1,263.9 335.1,264.5 338.1,265.3 341.1,266.0 344.1,266.8 347.1,267.5 350.1,268.3 353.1,269.0 356.1,269.7 359.1,270.4 362.1,271.0 365.1,271.6 368.1,272.2 371.1,272.8 374.1,273.4 377.1,274.0 380.1,274.7 383.1,275.5 386.1,276.2 389.1,277.0 392.1,277.7 395.1,278.4 398.1,279.2 401.1,279.9 404.1,280.8 407.1,281.7 410.1,282.7 413.1,283.6 416.1,284.5 419.1,285.4 422.1,286.3 425.1,286.8 428.1,287.1 431.1,287.3 434.1,287.6 437.1,287.8 440.1,288.1 443.1,288.4 446.1,289.0 449.1,289.6 452.1,290.2 455.1,290.9 458.1,291.5 461.1,292.1 464.1,292.7 467.1,293.4 470.1,294.1 473.1,294.9 476.1,295.6 479.1,296.4 482.1,297.1 485.1,297.9 488.1,298.6 491.1,299.0 494.1,299.5 497.1,299.9 500.1,300.4 503.1,300.8 506.1,301.3 509.1,301.7 512.1,302.3 515.1,302.9 518.1,303.5 521.1,304.1 524.1,304.7 527.1,305.3 530.1,305.9 533.1,306.5 536.1,307.1 539.1,307.7 542.1,308.3 545.1,308.8 548.1,309.4 551.1,310.0 554.1,310.6 557.1,311.3 560.1,312.1 563.1,312.8 566.1,313.6 569.1,314.3 572.1,315.1 575.1,315.8 578.1,316.5 581.1,317.2 584.1,317.8 587.1,318.4 590.1,319.0 593.1,319.6 596.1,320.2 599.1,320.8 602.1,321.5 605.1,322.2 608.1,323.0 611.1,323.7 614.1,324.5 617.1,325.2 620.1,326.0 623.1,326.7 626.1,327.6 629.1,328.5 632.1,329.4 635.1,330.3 638.1,331.2 641.1,332.1 644.1,333.0 647.1,333.8 650.1,334.4 653.1,335.0 656.1,335.6 659.1,336.2 662.1,336.8 665.1,337.4 668.1,338.0 671.1,338.4 674.1,338.9 677.1,339.3 680.1,339.8 683.1,340.3 686.1,340.7 689.1,341.2 692.1,341.7 695.1,342.5 698.1,343.2 701.1,344.0 704.1,344.7 707.1,345.5 710.1,346.2 713.1,347.0 716.1,347.6 719.1,348.2 722.1,348.8 725.1,349.3 728.1,349.9 731.1,350.5 734.1,351.1 737.1,351.7 740.1,352.3 743.1,352.9 746.1,353.5 749.1,354.1 752.1,354.7 755.1,355.3 758.1,355.9 761.1,357.0 764.1,358.0 767.1,359.1 770.1,360.1 773.1,361.0 776.1,361.6 779.1,362.2 782.1,362.7 785.1,363.3 788.1,363.9 791.1,364.6 794.1,365.7 797.1,366.8 800.1,367.8 803.1,368.2 806.1,368.6 809.1,369.0 812.1,369.4 815.1,369.8 818.1,370.5 821.1,371.2 824.1,371.9 827.1,372.6 830.1,373.3 833.1,374.2 836.1,375.1 839.1,376.0 842.1,376.9 845.1,377.8 848.1,378.5 851.1,379.3 854.1,380.1 857.1,380.8 860.1,381.6 863.1,382.8 866.1,384.0 869.1,385.2 872.1,386.4 875.1,387.5 878.1,388.3 881.1,389.0 884.1,389.8 887.1,390.5 890.1,391.3 893.1,392.0 896.1,392.8 899.1,393.5 902.1,394.3 905.1,395.1 908.1,396.1 911.1,397.2 914.1,398.2 917.1,399.2 920.1,400.3 923.1,401.2 926.1,402.1 929.1,403.0 932.1,403.9 935.1,404.8 938.1,405.9 941.1,406.9 944.1,408.0 947.1,409.1 950.1,410.1 953.1,411.2 956.1,412.2 959.1,413.3 962.1,414.3 965.1,415.4 968.1,416.6 971.1,417.8 974.1,419.0 977.1,420.2 980.1,421.3 983.1,422.0 986.1,422.8 989.1,423.5 992.1,424.3 995.1,425.0 998.1,425.7 1001.1,426.5 1004.1,427.2 1007.1,428.0 1010.1,428.7 1013.1,429.5 1016.1,430.2 1019.1,431.0 1022.1,431.8 1025.1,432.5 1028.1,433.3 1031.1,434.0 1034.1,434.7 1037.1,435.5 1040.1,436.2 1043.1,437.0 1046.1,437.8 1049.1,438.5 1052.1,439.3 1055.1,440.0 1058.1,440.7" fill="none" stroke="#000" stroke-width="3.8" stroke-dasharray="1.7,2.1"/>
<line x1="431.2" y1="55.4" x2="431.2" y2="291.0" stroke="#0000ff" stroke-width="2"/>
<polygon fill="#000" points="755.4,276.5 763.5,252.5 767.9,260.6 796.0,246.4 803.8,261.3 776.0,276.2 779.7,284.6"/>
<rect x="47.1" y="55.4" width="1012.5" height="393.0" fill="none" stroke="#000" stroke-width="2.4"/>
<text x="40.0" y="88.7" font-size="24.5" text-anchor="end">560</text>
<text x="40.0" y="146.0" font-size="24.5" text-anchor="end">580</text>
<text x="40.0" y="203.3" font-size="24.5" text-anchor="end">600</text>
<text x="40.0" y="260.6" font-size="24.5" text-anchor="end">620</text>
<text x="40.0" y="318.0" font-size="24.5" text-anchor="end">640</text>
<text x="40.0" y="375.3" font-size="24.5" text-anchor="end">660</text>
<text x="40.0" y="432.6" font-size="24.5" text-anchor="end">680</text>
<text x="161.9" y="478.9" font-size="24.5" text-anchor="middle">20</text>
<text x="284.0" y="478.9" font-size="24.5" text-anchor="middle">40</text>
<text x="406.0" y="478.9" font-size="24.5" text-anchor="middle">60</text>
<text x="528.1" y="478.9" font-size="24.5" text-anchor="middle">80</text>
<text x="650.2" y="478.9" font-size="24.5" text-anchor="middle">100</text>
<text x="772.3" y="478.9" font-size="24.5" text-anchor="middle">120</text>
<text x="894.4" y="478.9" font-size="24.5" text-anchor="middle">140</text>
<text x="1016.4" y="478.9" font-size="24.5" text-anchor="middle">160</text>
<path d="M47.1 79.9H57.6M1059.6 79.9H1049.1M47.1 137.2H57.6M1059.6 137.2H1049.1M47.1 194.5H57.6M1059.6 194.5H1049.1M47.1 251.8H57.6M1059.6 251.8H1049.1M47.1 309.2H57.6M1059.6 309.2H1049.1M47.1 366.5H57.6M1059.6 366.5H1049.1M47.1 423.8H57.6M1059.6 423.8H1049.1M161.9 448.4V437.9M161.9 55.4V65.9M284.0 448.4V437.9M284.0 55.4V65.9M406.0 448.4V437.9M406.0 55.4V65.9M528.1 448.4V437.9M528.1 55.4V65.9M650.2 448.4V437.9M650.2 55.4V65.9M772.3 448.4V437.9M772.3 55.4V65.9M894.4 448.4V437.9M894.4 55.4V65.9M1016.4 448.4V437.9M1016.4 55.4V65.9" stroke="#000" stroke-width="2" fill="none"/>
<text x="320.6" y="34.7" font-size="41.5" text-anchor="start" font-weight="bold">(a)</text>
<text x="401.0" y="34.7" font-size="36.6" text-anchor="start">Ip: non-regularization</text>
<g shape-rendering="crispEdges">
<rect x="1099.5" y="438.77" width="50.1" height="6.73" fill="#ff0000"/>
<rect x="1099.5" y="432.63" width="50.1" height="6.73" fill="#ff0000"/>
<rect x="1099.5" y="426.50" width="50.1" height="6.73" fill="#ff0000"/>
<rect x="1099.5" y="420.37" width="50.1" height="6.73" fill="#ff0000"/>
<rect x="1099.5" y="414.23" width="50.1" height="6.73" fill="#ff0000"/>
<rect x="1099.5" y="408.10" width="50.1" height="6.73" fill="#ff0000"/>
<rect x="1099.5" y="401.97" width="50.1" height="6.73" fill="#ff0000"/>
<rect x="1099.5" y="395.83" width="50.1" height="6.73" fill="#ff0000"/>
<rect x="1099.5" y="389.70" width="50.1" height="6.73" fill="#ff0000"/>
<rect x="1099.5" y="383.57" width="50.1" height="6.73" fill="#ff0000"/>
<rect x="1099.5" y="377.43" width="50.1" height="6.73" fill="#ff0000"/>
<rect x="1099.5" y="371.30" width="50.1" height="6.73" fill="#ff0000"/>
<rect x="1099.5" y="365.17" width="50.1" height="6.73" fill="#ff0000"/>
<rect x="1099.5" y="359.03" width="50.1" height="6.73" fill="#ff0000"/>
<rect x="1099.5" y="352.90" width="50.1" height="6.73" fill="#ff1000"/>
<rect x="1099.5" y="346.77" width="50.1" height="6.73" fill="#ff2200"/>
<rect x="1099.5" y="340.63" width="50.1" height="6.73" fill="#ff3200"/>
<rect x="1099.5" y="334.50" width="50.1" height="6.73" fill="#ff4200"/>
<rect x="1099.5" y="328.37" width="50.1" height="6.73" fill="#ff5100"/>
<rect x="1099.5" y="322.23" width="50.1" height="6.73" fill="#ff6100"/>
<rect x="1099.5" y="316.10" width="50.1" height="6.73" fill="#ff7100"/>
<rect x="1099.5" y="309.97" width="50.1" height="6.73" fill="#ff8000"/>
<rect x="1099.5" y="303.83" width="50.1" height="6.73" fill="#ff8d00"/>
<rect x="1099.5" y="297.70" width="50.1" height="6.73" fill="#ff9b00"/>
<rect x="1099.5" y="291.57" width="50.1" height="6.73" fill="#ffa900"/>
<rect x="1099.5" y="285.43" width="50.1" height="6.73" fill="#ffb900"/>
<rect x="1099.5" y="279.30" width="50.1" height="6.73" fill="#ffc900"/>
<rect x="1099.5" y="273.17" width="50.1" height="6.73" fill="#ffda00"/>
<rect x="1099.5" y="267.03" width="50.1" height="6.73" fill="#ffef00"/>
<rect x="1099.5" y="260.90" width="50.1" height="6.73" fill="#f9fc00"/>
<rect x="1099.5" y="254.77" width="50.1" height="6.73" fill="#d8ea00"/>
<rect x="1099.5" y="248.63" width="50.1" height="6.73" fill="#b0d500"/>
<rect x="1099.5" y="242.50" width="50.1" height="6.73" fill="#7fbd00"/>
<rect x="1099.5" y="236.37" width="50.1" height="6.73" fill="#58a800"/>
<rect x="1099.5" y="230.23" width="50.1" height="6.73" fill="#3e9900"/>
<rect x="1099.5" y="224.10" width="50.1" height="6.73" fill="#258a00"/>
<rect x="1099.5" y="217.97" width="50.1" height="6.73" fill="#118100"/>
<rect x="1099.5" y="211.83" width="50.1" height="6.73" fill="#007902"/>
<rect x="1099.5" y="205.70" width="50.1" height="6.73" fill="#00831b"/>
<rect x="1099.5" y="199.57" width="50.1" height="6.73" fill="#008c33"/>
<rect x="1099.5" y="193.43" width="50.1" height="6.73" fill="#009443"/>
<rect x="1099.5" y="187.30" width="50.1" height="6.73" fill="#009c53"/>
<rect x="1099.5" y="181.17" width="50.1" height="6.73" fill="#00a866"/>
<rect x="1099.5" y="175.03" width="50.1" height="6.73" fill="#00b67b"/>
<rect x="1099.5" y="168.90" width="50.1" height="6.73" fill="#00c591"/>
<rect x="1099.5" y="162.77" width="50.1" height="6.73" fill="#00d9b3"/>
<rect x="1099.5" y="156.63" width="50.1" height="6.73" fill="#00edd7"/>
<rect x="1099.5" y="150.50" width="50.1" height="6.73" fill="#00fefc"/>
<rect x="1099.5" y="144.37" width="50.1" height="6.73" fill="#00e7ff"/>
<rect x="1099.5" y="138.23" width="50.1" height="6.73" fill="#00ceff"/>
<rect x="1099.5" y="132.10" width="50.1" height="6.73" fill="#00b9ff"/>
<rect x="1099.5" y="125.97" width="50.1" height="6.73" fill="#00a5ff"/>
<rect x="1099.5" y="119.83" width="50.1" height="6.73" fill="#0090ff"/>
<rect x="1099.5" y="113.70" width="50.1" height="6.73" fill="#007eff"/>
<rect x="1099.5" y="107.57" width="50.1" height="6.73" fill="#006dff"/>
<rect x="1099.5" y="101.43" width="50.1" height="6.73" fill="#005bff"/>
<rect x="1099.5" y="95.30" width="50.1" height="6.73" fill="#004bff"/>
<rect x="1099.5" y="89.17" width="50.1" height="6.73" fill="#003eff"/>
<rect x="1099.5" y="83.03" width="50.1" height="6.73" fill="#0031ff"/>
<rect x="1099.5" y="76.90" width="50.1" height="6.73" fill="#0024ff"/>
<rect x="1099.5" y="70.77" width="50.1" height="6.73" fill="#0018ff"/>
<rect x="1099.5" y="64.63" width="50.1" height="6.73" fill="#000bff"/>
<rect x="1099.5" y="56.50" width="50.1" height="8.73" fill="#0000ff"/>
</g>
<rect x="1099.2" y="57.2" width="50.7" height="393.2" fill="none" stroke="#000" stroke-width="2.4"/>
<text x="1156.5" y="107.7" font-size="24.5" text-anchor="start">1.25</text>
<text x="1156.5" y="177.2" font-size="24.5" text-anchor="start">1.2</text>
<text x="1156.5" y="246.7" font-size="24.5" text-anchor="start">1.15</text>
<text x="1156.5" y="316.2" font-size="24.5" text-anchor="start">1.1</text>
<text x="1156.5" y="385.7" font-size="24.5" text-anchor="start">1.05</text>
<text x="1156.5" y="461.2" font-size="24.5" text-anchor="start">1</text>
<path d="M1099.5 98.9H1104.0M1149.6 98.9H1145.1M1099.5 168.4H1104.0M1149.6 168.4H1145.1M1099.5 237.9H1104.0M1149.6 237.9H1145.1M1099.5 307.4H1104.0M1149.6 307.4H1145.1M1099.5 376.9H1104.0M1149.6 376.9H1145.1" stroke="#000" stroke-width="2" fill="none"/>
<text x="1149.5" y="45.9" font-size="24.5">x 10<tspan font-size="16.5" dy="-17" dx="1.5">7</tspan></text>
<text x="1069.5" y="486.8" font-size="31">(kg/m<tspan font-size="19" dy="-11">3</tspan><tspan dy="11" font-size="24">∗</tspan>m/s)</text>
<rect x="1362.5" y="57.3" width="388.3" height="390.5" fill="none" stroke="#000" stroke-width="2.6"/>
<text x="1355.5" y="66.1" font-size="24.5" text-anchor="end">580</text>
<text x="1355.5" y="132.3" font-size="24.5" text-anchor="end">590</text>
<text x="1355.5" y="198.5" font-size="24.5" text-anchor="end">600</text>
<text x="1355.5" y="264.7" font-size="24.5" text-anchor="end">610</text>
<text x="1355.5" y="330.9" font-size="24.5" text-anchor="end">620</text>
<text x="1355.5" y="397.1" font-size="24.5" text-anchor="end">630</text>
<text x="1362.5" y="478.3" font-size="24.5" text-anchor="middle">1</text>
<text x="1491.9" y="478.3" font-size="24.5" text-anchor="middle">1.2</text>
<text x="1621.4" y="478.3" font-size="24.5" text-anchor="middle">1.4</text>
<text x="1750.8" y="478.3" font-size="24.5" text-anchor="middle">1.6</text>
<path d="M1362.5 57.3H1369.5M1750.8 57.3H1743.8M1362.5 123.5H1369.5M1750.8 123.5H1743.8M1362.5 189.7H1369.5M1750.8 189.7H1743.8M1362.5 255.9H1369.5M1750.8 255.9H1743.8M1362.5 322.1H1369.5M1750.8 322.1H1743.8M1362.5 388.3H1369.5M1750.8 388.3H1743.8M1362.5 447.8V441.8M1362.5 57.3V63.3M1491.9 447.8V441.8M1491.9 57.3V63.3M1621.4 447.8V441.8M1621.4 57.3V63.3M1750.8 447.8V441.8M1750.8 57.3V63.3" stroke="#000" stroke-width="2" fill="none"/>
<clipPath id="rca"><rect x="1362.5" y="57.3" width="391.3" height="391.5"/></clipPath>
<line x1="1362.5" y1="414.4" x2="1752.8" y2="414.4" stroke="#0000ff" stroke-width="1.6"/>
<polyline clip-path="url(#rca)" points="1362.5,61.9 1455.8,61.9 1456.4,74.9 1460.4,97.8 1461.3,114.1 1464.6,127.1 1468.9,136.9 1474.4,146.7 1478.6,159.8 1479.3,167.9 1476.0,176.1 1472.8,185.9 1470.5,195.7 1469.5,208.7 1466.2,221.8 1463.0,228.3 1459.1,238.1 1457.1,247.9 1455.8,261.0 1456.4,270.7 1461.3,277.3 1467.9,283.8 1476.0,290.3 1478.6,296.9 1477.7,313.2 1479.3,323.0 1484.2,332.8 1492.3,340.9 1492.3,350.7 1485.8,355.6 1474.4,360.5 1443.4,367.0 1433.6,375.2 1436.9,381.7 1443.4,388.2 1459.7,391.5 1502.1,396.4 1551.1,401.3 1590.3,406.2 1609.8,411.1 1622.9,416.0 1627.8,420.9 1627.8,429.0 1619.6,435.6 1611.5,442.1 1604.9,449.6" fill="none" stroke="#000" stroke-width="3.8" stroke-linejoin="round"/>
<polyline clip-path="url(#rca)" points="1458.1,58.0 1457.1,74.9 1459.7,88.0 1463.0,97.8 1468.9,107.6 1472.8,117.4 1475.4,127.1 1476.0,136.9 1474.4,150.0 1475.4,163.0 1475.4,176.1 1471.1,185.9 1463.0,192.4 1454.8,200.6 1448.3,208.7 1446.7,215.3 1449.9,225.1 1453.2,228.3 1456.4,238.1 1455.8,251.2 1451.6,264.2 1451.6,270.7 1456.4,280.5 1461.3,287.1 1471.1,296.9 1479.3,305.0 1489.1,313.2 1498.9,321.3 1508.7,327.9 1518.5,336.0 1527.6,345.8 1518.5,350.7 1505.4,358.9 1492.3,363.8 1479.3,368.7 1466.2,373.6 1451.6,380.1 1448.3,386.6 1453.2,391.5 1463.0,396.4 1485.8,401.9 1518.5,407.8 1551.1,413.7 1573.9,417.6 1593.5,420.9 1609.8,425.8 1621.3,429.0 1629.4,432.3 1629.4,438.8 1622.9,443.7 1613.1,449.6" fill="none" stroke="#ff0000" stroke-width="3.8" stroke-linejoin="round"/>
<rect x="1547.4" y="70.4" width="191.6" height="79" fill="#fff" stroke="#000" stroke-width="2.4"/>
<line x1="1561.9" y1="91.0" x2="1637.7" y2="91.0" stroke="#000" stroke-width="4.4"/>
<line x1="1561.9" y1="126.9" x2="1637.7" y2="126.9" stroke="#ff0000" stroke-width="4.1"/>
<text x="1646.5" y="102.6" font-size="23.4" text-anchor="start">Theory</text>
<text x="1646.5" y="137.6" font-size="23.4" text-anchor="start">Inverted</text>
<text x="1546.5" y="47.3" font-size="37.0" text-anchor="middle">Well location</text>
<text x="1521.5" y="517.3" font-size="31">(x 10<tspan font-size="19" dy="-11">7</tspan><tspan dy="11">  kg/m</tspan><tspan font-size="19" dy="-11">3</tspan><tspan dy="11" font-size="24">∗</tspan>m/s)</text>
<clipPath id="dcb"><rect x="47.1" y="600.5" width="1014.6" height="390.9"/></clipPath>
<g clip-path="url(#dcb)">
<g shape-rendering="crispEdges" fill="none">
<path stroke="#ff0000" stroke-width="6" d="M516 830v3m543 83v3"/>
<path stroke="#ff1000" stroke-width="6" d="M473 827v3m12 -6v3m98 20v6m476 57v6"/>
<path stroke="#ff2200" stroke-width="6" d="M351 793v3m128 28v9m37 0v3m55 5v9m6 -3v3m6 -6v3m464 66v3"/>
<path stroke="#ff3200" stroke-width="6" d="M351 796v2m122 26v3m12 0v3m31 6v3m6 -6v6m6 0v2m43 -2v2m12 0v3m354 95v3m6 -3v3m98 -35v6m6 -3v3m12 -6v3"/>
<path stroke="#ff3200" stroke-width="7" d="M729.5 890v3m171 23v6"/>
<path stroke="#ff4200" stroke-width="6" d="M485 830v3m13 -6v3m12 0v6m18 -3v6m49 5v3m12 -3v9m147 40v1m171 28v5m30 6v3m6 -3v6m98 -37v5m6 -5v8m6 3v3m6 -12v3"/>
<path stroke="#ff4200" stroke-width="7" d="M259.5 787v3m232 37v3m238 57v3m171 32v3"/>
<path stroke="#ff5100" stroke-width="6" d="M89 750v3m6 -3v3m6 -6v6m18 5v3m6 6v4m6 -13v6m208 34v9m6 -9v3m0 3v3m6 -9v3m6 -8v3m0 2v3m6 -5v11m141 20v3m61 9v8m12 -6v3m18 6v3m141 37v3m85 -34v2m6 -11v3m55 74v3m12 -8v5m13 0v3m6 -5v5m12 6v3m6 0v3m6 -6v3m0 3v3m12 -9v6m92 -43v3m12 8v3m6 -11v2"/>
<path stroke="#ff5100" stroke-width="7" d="M491.5 830v3m238 49v5m171 38v2m0 3v3"/>
<path stroke="#ff6100" stroke-width="6" d="M95 753v2m18 0v6m6 -6v3m0 3v3m6 -3v6m6 -12v3m0 6v8m122 15v3m80 3v3m6 0v2m0 9v1m6 -18v8m0 3v3m6 -3v3m6 -8v2m0 3v6m6 0v3m6 -3v6m31 -9v3m0 6v3m43 5v3m24 3v3m6 -9v3m25 6v3m6 -3v3m24 -3v3m6 -3v6m55 5v3m6 9v3m128 34v1m13 -7v3m12 -8v3m73 -21v3m6 -17v3m0 3v6m6 -12v3m49 69v8m0 3v2m12 -16v6m0 5v3m13 0v3m6 -3v3m6 -6v3m6 3v3m0 3v3m6 -12v9m12 3v3m86 -38v3m6 -3v3m6 -14v3m6 0v3m6 2v6"/>
<path stroke="#ff6100" stroke-width="7" d="M259.5 781v6m232 46v3m238 43v3m171 45v3"/>
<path stroke="#ff7100" stroke-width="6" d="M89 747v3m0 3v2m6 -8v3m6 3v5m6 -8v14m6 -11v2m6 9v5m6 -14v6m208 35v8m6 -11v3m12 8v3m6 0v3m12 -6v3m25 -6v3m6 3v6m0 3v2m85 15v3m37 -6v3m12 3v5m61 3v6m6 3v3m122 31v3m13 -14v8m0 3v3m6 -11v16m6 -13v2m73 -40v3m0 9v3m6 0v5m6 -14v3m43 69v3m12 -3v8m6 0v3m13 -14v3m6 11v3m6 -6v3m0 3v3m6 -9v3m18 12v2m86 -43v3m6 -11v8m18 -2v2"/>
<path stroke="#ff7100" stroke-width="7" d="M82.5 747v6m55 5v6m592 112v3"/>
<path stroke="#ff8000" stroke-width="6" d="M101 758v6m12 -14v3m0 8v3m140 20v3m13 0v3m6 -3v6m6 -3v3m43 0v3m6 2v8m6 -2v2m6 -16v3m30 3v2m0 3v3m13 -3v15m6 -15v3m6 0v12m6 5v1m6 -12v11m12 -3v3m31 3v3m6 -3v3m6 -3v3m6 -3v3m37 6v3m36 3v5m19 0v3m42 3v3m31 -72v6m6 -3v3m6 0v3m73 94v3m6 -8v8m25 -3v3m73 -40v9m6 11v3m6 -17v3m43 63v3m0 3v5m31 3v3m12 -3v3m6 -9v3m24 12v8m6 -11v8m74 -51v8m6 0v3"/>
<path stroke="#ff8000" stroke-width="7" d="M137.5 764v6m238 28v6m55 -117v3"/>
<path stroke="#ff8d00" stroke-width="6" d="M95 755v3m24 -5v2m43 9v3m104 17v3m12 0v3m43 6v2m6 -5v5m6 -11v3m36 8v3m13 -3v3m6 3v6m6 6v2m12 -11v3m6 6v2m12 0v3m13 0v3m61 9v3m18 -9v3m24 3v6m19 -3v3m0 2v3m73 -69v6m6 0v3m79 92v8m31 3v9m6 -17v5m0 6v6m73 -32v3m6 -8v5m6 -14v6m31 66v6m18 -15v3m0 3v3m67 25v3m13 3v3m61 -63v3"/>
<path stroke="#ff8d00" stroke-width="7" d="M314.5 790v6m61 8v9m55 -129v3m122 152v5m55 6v9m122 14v3m232 66v3m61 -43v5"/>
<path stroke="#ff9b00" stroke-width="6" d="M76 750v3m13 5v3m6 -3v3m30 -8v2m19 12v6m12 -9v6m6 -3v6m85 11v6m6 -12v6m13 -3v3m6 0v3m24 3v3m25 5v6m12 -14v3m55 20v3m24 -3v3m0 2v3m6 0v3m19 -134v2m6 126v3m6 0v3m12 -3v3m85 15v5m13 -5v2m42 3v6m13 3v3m6 -75v3m6 -9v3m0 3v3m12 -9v6m12 6v3m73 86v3m31 5v6m55 -31v2m6 -14v9m0 3v2m6 3v3m12 -11v3m0 5v6m6 -14v5m31 58v3m12 -6v3m6 -3v3m80 28v6"/>
<path stroke="#ff9b00" stroke-width="7" d="M82.5 744v3m348 74v3m122 12v3m409 106v5m61 -51v3"/>
<path stroke="#ffa900" stroke-width="6" d="M52 610v2m24 135v3m13 11v2m55 -2v6m12 3v3m6 0v2m128 15v6m6 -3v3m6 -6v6m6 -6v3m80 17v3m18 -9v3m18 -124v4m13 0v3m0 134v3m18 -6v3m12 -3v3m79 9v6m31 0v2m37 15v3m12 -86v2m0 3v3m18 3v3m12 3v3m25 -58v6m0 6v3m30 137v2m12 -16v3m19 0v3m12 -43v3m24 -21v6m31 32v3m6 -18v6m0 9v3m24 2v3m31 52v3m12 -6v3m6 -123v3m25 126v3m55 20v2m6 3v6"/>
<path stroke="#ffa900" stroke-width="7" d="M314.5 796v2m647 152v6m61 -60v3"/>
<path stroke="#ffb900" stroke-width="3" d="M47.5 609v3"/>
<path stroke="#ffb900" stroke-width="6" d="M52 612v3m24 72v3m13 -73v1m0 137v3m6 -117v8m6 -11v9m49 114v3m0 3v3m6 3v2m12 -11v9m79 8v3m25 -3v3m12 3v9m18 0v2m6 -5v3m13 8v1m24 -138v2m73 147v2m6 -2v2m0 3v3m13 -6v3m6 3v3m177 -49v3m61 -40v6m30 137v3m49 -54v6m0 43v8m6 -66v3m6 -3v3m6 -3v3m25 23v9m6 -6v3m12 -83v2m18 89v3m49 -77v3m80 149v3m6 2v3m0 6v3m42 -69v9"/>
<path stroke="#ffb900" stroke-width="7" d="M82.5 753v5m348 -68v2m0 132v3m177 20v3m61 -115v3m0 3v3m177 109v8m55 -65v2m122 95v3"/>
<path stroke="#ffc900" stroke-width="3" d="M47.5 612v3"/>
<path stroke="#ffc900" stroke-width="6" d="M70 750v3m6 -69v3m0 3v2m13 -74v3m0 20v3m6 -25v2m0 11v3m0 3v3m18 0v8m18 46v3m19 66v3m0 3v3m6 2v3m91 0v3m37 -60v3m18 -23v3m6 0v8m0 84v2m19 -65v2m0 3v3m30 -72v3m6 78v8m6 -5v5m68 -66v3m103 12v3m31 20v3m43 117v3m6 -78v3m24 3v3m18 6v3m13 -59v4m73 98v3m6 0v2m6 52v3m6 -83v3m0 14v3m6 -77v5m0 57v6m0 12v3m6 -23v2m0 9v12m13 14v3m6 -6v3m6 -9v6m6 -9v12m6 -83v3m6 -2v2m0 2v3m6 -3v3m12 89v6m25 49v3m12 -9v3m18 -128v5m55 12v5m0 11v6m0 66v3m6 -89v6m25 131v6m6 -57v6m30 -3v5"/>
<path stroke="#ffc900" stroke-width="7" d="M314.5 704v3m116 -15v6m0 120v3m238 -88v2m0 3v3m0 3v3m0 43v3m116 25v3m0 3v3m61 34v3m55 -71v3m61 94v3"/>
<path stroke="#ffda00" stroke-width="6" d="M58 615v3m6 -5v2m0 129v3m6 0v3m6 -58v6m13 -66v3m0 3v3m6 -20v3m0 11v3m6 -3v3m0 11v3m6 -17v6m0 3v5m6 -11v3m0 8v6m37 52v5m18 61v2m6 -5v3m104 11v3m6 -69v3m0 3v3m18 -23v6m6 2v3m0 83v3m13 -11v3m6 -58v3m0 3v3m0 43v6m6 -129v3m6 -4v4m6 -3v3m0 2v3m0 3v3m12 -10v1m0 78v3m6 -3v3m6 0v3m0 5v3m43 60v3m6 -140v3m6 0v5m19 -3v3m18 -2v5m0 123v3m37 -123v3m24 80v3m6 -14v3m0 11v3m12 -82v2m25 23v5m6 -2v2m12 49v3m0 3v3m6 -12v3m25 -6v3m0 66v3m6 -77v2m0 81v3m24 -81v3m6 -3v3m0 3v3m6 -54v2m6 -2v2m13 9v3m6 86v3m6 -15v3m12 -86v3m6 -2v2m0 138v5m6 -11v3m0 6v2m25 -51v3m6 -3v3m6 -3v3m6 -3v3m0 5v6m6 -94v5m0 55v5m0 3v3m0 6v3m0 6v2m0 3v3m0 43v3m6 -138v3m0 60v6m0 3v3m0 3v8m0 43v6m0 3v3m6 -135v3m0 52v2m0 9v9m0 3v5m25 0v6m0 3v6m6 -94v2m6 0v6m6 -4v1m0 91v6m6 -86v9m6 -17v2m37 144v3m12 -9v3m12 -120v2m19 -4v4m24 95v3m18 -75v3m0 6v3m0 60v3m0 3v3m6 -75v6m0 49v11m0 9v2m13 -17v6m6 0v6m0 46v2m6 6v3m36 -52v3"/>
<path stroke="#ffda00" stroke-width="7" d="M82.5 615v3m0 140v3m232 -54v8m0 83v3m177 -105v5m470 186v3m0 3v3"/>
<path stroke="#ffef00" stroke-width="3" d="M47.5 624v2m0 72v3"/>
<path stroke="#ffef00" stroke-width="6" d="M52 615v3m0 6v2m6 -14v3m0 129v3m6 -132v3m0 129v6m6 -61v9m6 -3v3m13 -66v3m0 6v5m12 -2v2m6 -8v3m0 5v3m18 40v3m6 3v3m13 -70v1m6 72v3m0 5v3m18 60v3m18 -63v6m25 -20v3m30 -37v2m0 64v2m0 49v3m6 -54v2m49 -34v3m0 3v3m0 2v3m0 3v3m0 6v3m6 -20v5m0 83v3m19 -71v8m0 3v3m0 40v6m6 -46v3m6 -85v2m0 69v2m6 12v6m6 -81v3m6 -8v2m0 3v3m0 78v2m6 -5v3m0 2v3m12 -11v3m13 0v3m0 8v3m30 46v3m6 -130v1m6 8v3m13 0v3m12 -8v5m6 -5v5m12 -3v3m31 6v3m6 -4v1m12 72v5m6 0v3m6 -8v5m0 3v3m18 -77v3m25 25v3m6 -3v6m0 109v3m6 -72v3m0 3v3m0 3v3m6 -18v3m25 -11v5m6 75v6m30 -75v3m6 -53v2m6 -1v1m13 5v6m0 49v3m12 -58v3m0 6v3m0 74v6m6 -92v3m0 80v6m0 3v3m6 -26v3m6 8v3m6 -80v3m0 54v3m0 75v6m6 -9v3m19 -46v3m6 -3v3m6 -23v3m0 17v3m0 8v3m6 -92v1m0 57v3m6 5v3m0 3v6m0 11v3m6 -90v1m0 61v2m0 23v3m0 46v3m12 -136v4m0 78v2m0 9v3m13 -92v3m0 72v8m0 6v3m6 -90v4m0 72v5m6 -77v3m18 8v3m0 9v3m6 -15v3m0 3v9m6 -18v3m31 138v3m12 -9v3m6 -115v6m6 -6v3m37 75v3m6 -6v6m0 8v6m18 -60v3m0 48v3m0 3v3m0 9v2m6 -80v3m0 6v3m0 57v9m0 2v3m13 -93v2m0 68v3m0 6v9m6 -86v2m0 72v3m6 17v6m0 40v6m6 -69v3m0 8v6m6 -11v3m6 -78v3m12 75v2m6 46v3"/>
<path stroke="#ffef00" stroke-width="7" d="M82.5 618v3m0 8v3m0 58v2m55 6v6m122 23v8m55 -79v5m0 54v6m0 80v3m61 -57v3m0 5v6m55 -8v2m177 41v2m177 23v3m0 3v6m0 3v5m0 9v6m116 -58v3m0 60v3m61 -51v3m0 68v3m0 9v3m61 54v6"/>
<path stroke="#f9fc00" stroke-width="3" d="M47.5 618v3m0 74v3m0 3v3"/>
<path stroke="#f9fc00" stroke-width="6" d="M52 618v6m0 120v6m6 -124v3m0 118v3m12 -137v5m0 63v3m0 3v5m0 9v3m6 -3v3m0 51v3m13 -51v3m30 -66v11m6 -29v3m0 66v6m6 0v3m13 -72v3m0 66v11m6 -11v3m6 -71v2m0 66v3m0 6v5m6 -14v3m6 -6v3m6 0v9m0 57v3m0 5v3m6 -139v5m0 74v3m12 -3v3m19 -17v6m6 -15v3m0 3v3m6 77v3m6 -3v6m6 -54v2m0 49v3m6 -57v3m6 -66v5m0 6v3m0 46v6m6 -64v3m0 3v3m0 49v8m19 -34v6m12 0v3m0 5v3m0 9v3m6 -20v14m6 -20v3m0 3v2m0 3v3m0 6v3m0 3v3m0 54v3m0 6v2m12 -142v2m0 57v3m13 20v3m0 3v3m6 -86v3m0 83v3m6 -81v3m0 63v6m0 3v6m6 -9v6m6 -6v3m6 -78v1m0 8v3m0 69v3m6 -75v6m0 63v3m0 6v2m6 -11v3m19 6v8m6 -11v3m0 2v3m6 0v3m6 -6v6m0 12v2m6 0v3m12 -88v5m6 0v3m13 55v2m6 -54v3m12 -6v3m6 -6v3m18 66v3m31 60v3m6 -109v3m0 3v3m0 40v3m0 5v6m6 -23v9m0 3v5m6 -11v3m0 8v3m18 -71v2m19 23v3m0 40v3m6 -43v3m0 32v2m6 -42v2m0 38v2m0 9v6m6 -12v3m6 -43v3m0 3v3m0 28v3m0 6v3m6 -6v3m0 3v3m0 6v5m6 -26v3m0 15v8m0 3v3m13 -32v3m30 35v3m12 -38v3m6 29v6m19 5v3m0 3v6m6 -97v2m0 6v3m0 71v3m0 9v6m6 -99v1m0 6v6m0 66v5m0 6v3m0 3v6m6 -98v6m0 49v5m0 3v3m0 66v3m6 -135v3m0 54v18m0 5v3m0 49v6m6 -78v3m0 3v9m6 -15v6m0 63v3m19 -46v3m6 -20v3m0 23v3m6 0v2m6 -88v2m0 58v3m0 14v3m12 11v3m0 49v3m6 -55v3m6 -86v3m13 80v6m12 -9v3m6 -60v3m0 74v3m6 -91v2m12 6v3m37 129v3m18 -127v4m0 3v2m0 6v3m0 3v3m12 -17v2m0 6v3m0 66v3m0 6v5m19 -89v3m6 124v2m6 -125v2m0 69v3m6 3v3m0 14v3m6 -94v5m0 69v3m0 8v12m6 -96v4m0 6v2m0 78v6m6 -89v3m0 2v3m0 58v5m0 3v3m6 -69v3m13 78v2m6 -86v3m0 66v3m6 0v9m0 5v6m6 -8v2m0 6v3m0 37v3m6 -132v3m0 72v3m6 -77v2m6 69v6m6 -3v6m6 -23v8m0 66v3"/>
<path stroke="#f9fc00" stroke-width="7" d="M82.5 641v3m0 43v3m0 2v6m0 63v1m55 -58v3m122 17v3m0 8v3m55 -17v3m0 63v3m61 -117v5m0 72v5m55 -57v3m0 49v3m0 2v3m177 -37v6m0 51v3m0 9v6m0 2v6m61 -8v2m61 -34v6m55 -9v3m0 69v3m0 5v9m61 14v6m0 3v3m55 -75v3m0 52v5m0 3v3m0 3v3m0 3v3m0 3v2m61 -68v2m0 81v3m61 48v3m0 6v3"/>
<path stroke="#d8ea00" stroke-width="3" d="M47.5 615v3m0 3v3m0 5v3m0 60v3"/>
<path stroke="#d8ea00" stroke-width="6" d="M58 618v8m0 66v6m6 -74v5m0 52v3m0 14v6m6 -20v3m0 17v3m6 -93v4m0 63v3m0 20v3m0 37v3m0 6v2m0 3v3m13 -140v11m0 63v3m0 6v3m6 -81v6m12 78v5m6 -92v1m6 17v3m6 11v3m0 43v3m6 3v3m13 -12v3m6 -69v6m0 60v3m6 -66v3m0 66v6m6 -12v3m0 3v6m6 -20v8m0 3v6m6 66v2m6 -71v3m0 5v6m6 -20v9m0 3v5m6 0v3m0 3v6m13 -60v8m0 26v6m6 -40v2m0 26v6m6 -37v3m0 31v3m0 14v3m6 -54v3m0 31v12m6 -35v3m0 9v3m0 40v3m6 -66v2m0 18v3m0 31v12m0 48v3m6 -115v6m0 3v3m0 40v9m6 -55v3m0 3v3m0 37v6m6 -63v5m0 3v3m0 15v2m0 32v3m19 -37v11m0 6v3m0 14v3m0 3v5m6 -28v5m0 3v3m0 3v9m6 -29v6m0 3v5m0 15v5m0 49v3m6 -63v9m0 54v3m0 6v2m6 -143v6m0 60v3m0 9v2m0 6v3m0 57v1m6 -87v3m0 12v3m0 54v3m6 -72v3m13 -63v3m0 43v3m0 5v3m0 3v12m0 17v3m6 -90v1m0 69v3m6 -61v3m0 66v3m6 -77v2m0 3v3m0 60v6m6 -6v6m0 3v3m0 3v5m6 -86v3m0 66v3m0 3v3m0 3v3m6 -81v3m6 -6v3m6 -1v1m13 2v4m6 75v2m0 3v6m6 -11v5m0 3v3m6 -11v2m0 6v3m0 6v3m6 -9v3m0 3v5m6 -37v6m0 26v8m6 -91v3m0 5v3m0 43v3m0 3v3m0 23v5m6 -34v11m0 3v3m0 9v8m13 -28v3m0 2v3m6 -66v9m0 3v3m0 48v3m0 20v3m12 -86v3m0 3v3m6 -6v6m12 -10v4m0 57v9m6 -69v6m25 0v3m0 23v3m6 -26v3m0 5v6m6 -3v6m0 3v3m0 37v6m6 -66v3m0 63v3m6 -9v3m6 17v3m6 -77v2m0 3v6m6 3v3m0 3v3m13 -6v8m6 -8v3m0 8v3m0 40v3m6 -9v12m6 -12v9m0 6v3m6 -58v3m0 37v3m0 18v2m6 -63v3m0 3v3m0 43v6m6 -74v5m0 17v3m0 3v3m0 25v3m0 6v3m0 6v3m6 -76v4m0 14v3m0 60v3m13 -20v6m6 -6v6m0 69v2m12 -74v3m6 0v3m0 3v2m0 3v3m6 -11v8m0 9v3m0 3v2m6 -5v5m6 -2v2m6 -83v3m0 60v3m13 -5v2m0 3v6m6 9v5m0 3v3m6 -86v3m0 69v5m6 -22v2m0 9v9m6 -69v6m0 48v3m0 6v3m0 5v9m0 43v3m0 3v3m6 -63v2m0 6v3m6 -83v3m0 57v3m0 63v3m6 -129v3m0 60v9m19 -52v6m6 43v3m0 11v3m0 9v5m6 -94v5m0 72v3m6 -14v2m0 3v9m6 -72v3m6 -3v3m0 86v3m6 -3v3m6 -9v3m0 3v3m19 43v3m0 8v3m6 -137v3m0 66v2m12 -60v6m18 3v6m6 0v2m13 61v2m0 49v3m0 3v3m6 -63v5m0 21v2m0 35v3m6 -52v3m6 40v3m6 -109v6m0 5v6m6 -17v3m6 -9v6m6 -9v6m0 3v3m0 43v6m0 8v6m0 3v6m13 -84v6m0 55v2m0 3v9m0 14v3m6 -94v2m6 3v3m0 66v3m6 -69v3m0 72v5m0 3v3m0 3v3m6 -14v5m6 -11v3m0 3v8m6 -77v3m0 2v3m0 63v12m6 -80v2m6 -2v5m13 -5v2m0 86v6m6 -11v5m0 3v6m6 -95v3m0 81v2m6 -83v3m0 66v3m0 20v3m0 37v6m6 -66v3m0 14v9m12 -95v3m0 49v6m0 17v5m6 -22v2m0 6v6m6 -9v3m0 80v3m13 -20v6m6 -77v5m0 6v3m6 -9v3m0 3v3m6 -6v3"/>
<path stroke="#d8ea00" stroke-width="7" d="M82.5 632v9m0 43v3m0 11v3m0 3v6m55 -18v6m0 9v5m0 3v6m0 34v3m122 -74v3m0 34v3m55 0v3m0 3v3m0 51v3m116 -43v6m0 8v3m0 14v9m122 -76v4m0 18v3m55 37v3m0 2v3m0 9v3m61 3v3m0 2v6m0 6v6m61 -58v6m0 6v3m0 37v3m55 -54v2m61 109v3m55 -69v3m0 60v3m0 3v3m0 3v3m0 2v3m61 -63v9m0 3v3m0 63v5"/>
<path stroke="#b0d500" stroke-width="3" d="M47.5 626v3m0 3v3m0 49v8m0 49v3m0 3v3"/>
<path stroke="#b0d500" stroke-width="6" d="M52 629v3m0 3v3m0 43v9m0 2v6m0 3v3m6 -66v3m0 49v2m6 -74v6m0 60v3m0 8v3m0 6v3m12 -86v11m13 58v5m0 6v3m6 -80v2m0 81v3m6 -91v2m0 8v6m0 75v5m6 -95v4m0 8v3m0 72v3m6 -86v2m0 89v3m6 -93v4m0 72v3m6 -60v5m0 3v3m0 49v3m0 11v3m6 -94v5m0 60v3m0 9v3m0 5v9m19 -26v3m6 0v3m6 -9v6m0 12v5m6 -8v3m6 -73v4m0 57v3m6 -6v9m0 3v5m0 61v2m6 -135v4m0 51v3m0 9v3m0 11v12m6 -6v3m13 -66v3m0 31v3m6 -20v3m0 26v2m6 -45v2m0 3v6m0 26v6m0 2v3m0 3v6m0 54v6m6 -117v5m0 18v2m0 3v3m0 12v5m6 -48v8m0 6v3m0 6v2m0 20v9m0 6v3m6 -46v3m0 11v6m0 11v6m0 17v3m6 -66v3m0 6v3m0 31v3m0 60v3m6 -135v3m0 6v3m0 3v3m0 5v3m0 9v3m0 3v2m6 -31v3m0 14v3m0 37v6m0 11v3m13 -14v6m6 -15v9m0 3v3m0 5v3m6 -40v9m0 5v3m0 3v3m0 9v5m6 -82v5m0 77v3m6 -37v9m0 23v5m0 3v3m6 -6v3m0 3v3m0 51v3m6 -146v6m0 37v3m0 17v3m0 6v3m0 5v9m6 -86v3m0 60v3m0 3v11m13 -31v5m0 3v3m6 -51v2m0 55v6m6 -63v2m0 61v3m0 17v3m6 -84v3m6 58v5m0 12v3m6 -17v2m0 6v3m6 -11v5m12 -66v3m0 6v3m19 86v3m6 -9v3m6 -60v8m0 49v6m6 -9v3m0 3v3m6 -89v3m0 51v3m0 17v3m0 6v6m0 37v3m6 -60v3m0 8v12m0 5v3m0 32v3m6 -118v3m0 54v3m0 20v6m13 -86v3m0 46v3m6 3v2m0 26v3m6 -89v9m0 114v3m6 -117v3m0 111v3m18 -111v2m0 52v3m6 -6v3m0 3v3m31 -69v3m0 6v2m0 6v12m6 -26v3m0 5v3m0 46v3m6 20v3m6 -83v3m0 80v9m6 -89v8m0 66v3m6 -72v3m0 6v3m0 51v6m6 -69v9m0 6v3m19 43v5m0 58v3m6 -112v3m0 57v3m6 -49v3m0 26v3m0 20v3m6 -58v6m6 3v3m0 43v5m6 -60v3m0 3v3m0 3v3m0 25v3m0 9v3m0 8v3m6 -63v3m0 37v12m13 -12v3m0 6v6m12 -6v3m0 3v2m6 -8v11m0 9v3m6 -26v3m0 3v3m0 2v3m0 3v12m6 -26v3m0 14v3m6 -81v1m0 80v3m6 -78v3m0 58v2m0 12v6m0 2v3m6 -83v9m0 46v5m0 3v3m0 3v3m0 6v2m13 -20v3m0 6v3m0 3v11m0 6v3m6 -20v3m6 -23v3m0 14v3m0 23v3m6 -41v6m6 9v5m0 9v3m0 3v3m0 43v3m6 -138v9m6 63v11m6 -84v1m0 72v2m6 -60v3m0 46v3m0 17v3m13 -83v6m0 5v6m0 6v5m0 32v3m0 14v3m6 -20v3m0 6v2m6 -5v3m0 8v3m6 -72v3m0 60v3m18 29v3m0 31v9m0 3v6m6 -58v3m13 -83v3m0 51v18m6 54v3m0 3v8m12 -123v3m6 -9v6m18 -3v3m0 6v3m6 0v6m13 5v6m0 46v6m0 2v9m0 9v3m0 31v3m6 -55v6m0 49v3m6 -106v11m0 37v3m0 3v3m0 3v6m6 -63v11m0 83v3m6 -123v3m0 11v3m0 9v2m0 6v3m6 -34v3m0 20v2m6 -11v3m0 46v11m6 -57v3m0 46v8m13 -63v6m0 46v3m0 2v3m0 9v3m6 -75v12m0 54v3m6 -72v3m0 72v3m0 14v3m6 -83v3m0 71v3m0 3v3m6 -89v3m12 3v3m0 63v8m25 -57v6m0 43v3m6 -46v3m0 68v3m6 -90v1m0 69v3m0 9v3m6 -83v2m0 126v3m0 9v3m6 -78v3m0 17v6m6 -31v3m0 20v2m0 9v3m6 -34v2m0 3v6m6 -17v6m0 2v6m6 -14v3m0 77v14m13 -83v6m6 -6v6m6 -3v3m6 -6v3m0 3v6m6 -12v15m6 -3v3"/>
<path stroke="#b0d500" stroke-width="7" d="M82.5 701v3m55 17v3m61 -63v8m0 3v3m0 40v3m61 -40v3m0 6v5m0 26v3m55 6v3m0 3v5m0 6v3m116 26v2m122 -48v3m0 3v2m55 6v3m0 29v2m0 29v3m61 -3v6m0 8v3m61 -75v4m0 23v2m0 32v3m0 3v3m0 14v3m55 -69v3m116 40v3m61 23v3m0 37v9m61 80v8"/>
<path stroke="#7fbd00" stroke-width="3" d="M47.5 635v3m0 106v3"/>
<path stroke="#7fbd00" stroke-width="6" d="M52 632v3m0 55v2m0 6v3m6 -69v6m0 43v3m0 14v6m6 -75v3m0 55v3m0 2v3m6 -77v8m0 3v3m0 6v3m6 -23v3m0 17v3m13 46v3m0 8v3m0 9v2m6 -63v3m0 52v3m0 3v2m6 -91v8m0 78v3m12 -75v3m0 69v8m12 -74v3m0 5v3m0 38v2m6 -43v3m0 3v3m0 52v2m13 -17v3m0 23v3m6 -32v3m0 20v3m0 3v6m12 -92v3m0 52v2m6 -56v2m6 54v6m0 12v5m6 -71v5m0 43v3m0 35v3m0 42v3m6 -109v6m0 98v2m6 -114v3m0 37v14m0 15v3m13 -72v3m0 31v3m0 9v3m6 -46v3m0 2v6m0 3v3m0 3v3m0 3v5m0 17v3m6 -46v3m0 6v3m0 9v5m0 15v2m0 12v3m0 8v6m6 -69v18m0 2v3m0 20v3m0 12v3m6 -55v3m0 3v3m0 5v12m0 3v5m0 9v6m6 -66v6m0 2v15m0 6v8m0 6v3m0 3v5m0 26v3m6 -95v3m0 12v3m0 14v3m0 3v3m0 8v9m0 8v3m0 17v6m0 37v3m6 -133v1m0 12v3m0 23v3m0 25v6m0 14v6m6 -93v4m0 6v3m0 20v9m0 2v3m13 -45v2m0 40v12m0 26v8m6 -28v5m0 23v3m6 -89v3m0 80v3m6 -74v3m0 11v3m0 3v3m0 51v3m6 -87v4m0 3v6m0 71v3m6 -80v6m0 68v3m6 -43v3m0 26v3m0 6v2m0 9v3m0 37v3m6 -123v3m0 71v9m0 37v6m13 -121v3m6 -8v3m0 2v3m0 35v3m6 0v5m0 12v3m6 3v2m6 -8v3m6 0v3m0 2v3m6 -17v3m0 17v3m6 -72v9m0 34v9m0 9v8m0 20v3m6 -86v3m0 54v3m0 26v3m13 -3v6m6 -6v6m6 -46v6m0 43v2m6 -60v3m0 17v3m6 -28v11m0 3v3m0 28v6m6 -81v1m0 52v2m0 23v6m0 14v3m6 -46v6m0 3v3m0 11v3m6 -20v3m0 17v9m13 -69v3m0 54v3m0 14v12m0 40v3m6 -83v6m0 5v3m0 23v3m0 29v2m6 -114v3m0 74v3m6 -34v3m0 20v2m0 52v3m6 -126v3m6 -9v9m0 66v2m6 -25v5m0 12v3m0 3v5m6 -74v3m0 51v3m0 9v3m6 -77v2m0 57v12m13 -63v3m6 -3v3m0 3v2m0 3v3m0 6v3m0 97v3m6 -120v3m0 65v9m6 -82v2m0 3v5m0 72v3m6 -84v1m0 14v15m6 63v2m6 -93v2m0 8v3m0 3v9m0 34v6m0 3v8m6 -57v9m0 34v6m0 8v9m6 -69v3m0 54v9m13 -75v3m0 20v3m6 -17v6m0 43v3m0 11v3m6 -63v3m0 14v6m0 20v3m0 20v3m6 -78v3m0 26v3m6 -17v3m0 11v6m6 -33v4m0 29v3m6 0v2m6 23v3m13 15v2m0 9v3m6 -75v3m0 52v3m6 -49v3m0 3v3m0 31v6m0 3v3m6 -58v3m0 3v9m0 48v9m0 3v3m12 -15v6m6 -77v3m0 57v3m0 5v12m6 -72v3m0 43v3m0 6v3m0 5v3m0 3v3m6 -6v3m0 11v3m13 -11v3m0 14v3m0 3v3m6 -43v5m0 3v3m0 6v3m6 -6v3m6 -69v3m0 60v3m6 23v3m0 3v3m0 43v4m12 -139v8m0 9v3m0 60v3m6 -66v3m0 60v3m6 -86v6m0 5v3m0 3v12m0 28v6m0 3v8m0 3v6m0 3v3m13 -80v5m0 17v12m0 17v3m0 3v6m0 5v3m0 12v3m6 -90v4m0 71v3m6 -11v2m0 3v3m24 69v3m6 6v2m13 0v3m6 -140v3m0 51v3m6 86v1m6 -133v3m0 112v3m0 14v1m6 -124v3m6 37v6m12 -52v6m6 -10v4m0 126v3m13 -129v3m0 9v8m0 6v6m0 3v5m0 49v6m6 -75v6m0 3v11m0 46v3m0 9v3m0 28v6m6 -106v3m0 46v2m0 3v3m0 15v5m6 -74v3m0 51v6m6 -86v3m0 3v5m0 3v3m0 9v3m0 11v3m6 -17v3m6 -6v3m0 60v9m19 -72v8m0 61v8m6 -74v8m0 49v3m0 6v8m0 3v3m6 -89v14m0 49v3m0 12v2m0 3v3m6 -83v3m0 3v5m6 -2v2m0 3v3m0 46v3m6 -63v11m6 0v12m25 -12v6m0 6v3m6 -9v6m0 46v3m6 0v5m6 -5v2m6 -60v3m0 63v3m0 9v2m0 46v3m6 -126v3m0 46v3m0 3v2m0 9v3m0 3v3m0 5v6m0 3v3m6 -49v6m0 37v3m6 -91v2m19 55v5m0 72v3m6 -101v3m6 20v3m12 83v9m6 -89v9m0 80v3"/>
<path stroke="#7fbd00" stroke-width="7" d="M82.5 621v8m0 15v3m55 -17v2m0 80v3m61 -46v3m0 29v9m0 8v3m61 -54v2m0 3v6m0 3v3m0 31v3m55 -57v3m0 34v6m0 34v6m61 -29v6m0 40v9m55 -69v3m0 57v3m0 3v6m0 11v6m177 -63v3m0 5v3m0 43v6m61 29v2m61 -43v3m0 26v3m0 9v2m0 3v3m0 3v3m55 66v6m61 -123v5m0 126v6m55 -106v3m0 40v3m61 -38v6m0 58v2m61 -5v3"/>
<path stroke="#58a800" stroke-width="3" d="M47.5 678v6m0 20v6"/>
<path stroke="#58a800" stroke-width="6" d="M52 626v3m0 49v3m6 -52v3m0 52v6m6 -58v9m0 49v2m6 -66v3m0 6v3m0 106v3m6 -115v6m13 11v3m6 0v3m0 46v3m6 -52v6m0 46v3m6 -83v8m0 72v3m6 -52v3m0 46v3m6 -78v12m0 57v3m0 3v3m0 5v6m6 -89v3m0 80v6m6 -74v5m0 3v3m13 57v9m0 3v3m6 -89v3m0 46v5m0 26v3m6 -63v3m0 6v2m0 26v3m12 -60v3m0 69v2m6 3v3m6 -69v3m0 9v11m0 49v9m0 37v3m6 -112v3m0 6v2m0 106v3m6 -114v11m0 23v3m13 -26v6m0 3v3m0 23v2m6 -37v3m0 9v3m0 25v6m6 -40v9m0 37v8m6 -17v12m6 -26v3m0 26v5m6 -80v3m0 46v3m0 25v3m6 -91v2m0 3v3m0 6v3m0 26v8m0 9v3m0 2v3m0 26v3m6 -89v3m0 43v3m0 37v3m6 -89v3m0 57v3m13 -66v3m0 23v3m0 9v2m0 12v3m0 5v12m6 -73v1m0 26v3m0 6v3m6 -21v3m0 20v3m0 43v3m6 -80v3m0 17v3m0 14v3m0 97v2m6 -142v3m0 6v2m0 12v11m6 -25v2m0 18v5m0 3v3m0 86v3m6 -95v3m0 26v3m6 -63v3m0 37v3m0 20v3m19 -17v8m0 3v3m6 -17v3m0 5v3m0 6v3m6 3v3m12 -6v3m6 -6v6m0 8v3m6 -31v2m0 15v6m0 8v3m0 14v3m0 3v3m6 -92v3m0 52v5m0 3v3m0 20v3m13 -52v3m0 9v3m0 6v2m6 -20v3m6 -3v9m0 6v8m0 32v3m6 -55v12m0 3v2m6 -57v6m0 37v3m0 3v6m6 -49v11m0 20v9m0 6v3m0 11v3m6 -49v3m0 32v2m0 18v2m6 -20v3m0 86v5m13 -85v3m0 23v5m0 18v3m6 -52v3m0 14v3m0 11v3m0 49v3m6 -83v8m0 3v3m0 17v3m0 3v3m6 -43v6m0 20v3m6 -23v3m0 8v3m6 -69v3m0 9v3m0 45v6m0 9v3m6 -75v12m0 2v3m0 9v3m0 43v3m0 57v3m6 -132v3m0 23v3m0 14v14m6 -60v3m0 6v5m0 38v5m0 12v3m13 -63v8m6 -8v3m0 2v3m0 6v3m6 49v2m12 -68v11m6 -11v3m0 2v21m6 37v3m0 14v3m6 -57v2m0 38v2m6 -42v2m0 40v3m0 9v3m13 -80v2m0 12v3m0 46v14m6 -46v3m0 43v6m6 -23v3m6 -59v1m0 15v3m0 14v3m0 46v2m0 55v3m6 -138v3m0 6v3m0 43v2m0 23v3m6 -28v2m0 23v3m6 -77v3m6 -3v6m0 3v5m0 6v9m0 17v5m13 -40v3m0 3v3m0 54v3m0 3v3m6 -66v6m0 46v3m6 -58v6m0 3v3m0 3v5m0 40v6m0 52v5m6 -120v3m0 9v2m6 -14v3m6 -3v6m6 -12v6m0 52v5m6 -57v3m0 37v3m0 3v3m0 8v3m0 3v3m19 17v3m6 -29v3m0 3v6m6 -14v5m0 3v3m6 63v9m6 -106v5m6 -3v3m0 55v6m6 -78v3m0 3v8m0 64v2m6 -94v6m0 14v3m6 3v2m0 43v3m13 -5v5m0 18v2m6 -88v2m0 9v3m0 51v6m6 -69v3m0 49v3m0 8v3m0 23v3m30 40v6m19 -69v6m6 29v2m0 38v3m6 -6v6m6 -3v3m0 2v3m6 -74v11m12 0v3m0 57v3m6 -123v3m0 123v6m13 -103v3m0 60v3m6 -83v5m0 6v3m0 11v3m0 46v9m6 -78v9m0 14v3m0 80v3m6 -123v3m0 11v12m0 60v3m0 3v3m6 -84v3m6 17v12m0 31v3m6 3v6m0 9v2m6 -71v3m13 60v3m6 -18v6m0 6v6m0 8v3m6 -72v3m0 12v6m0 22v6m0 9v6m0 2v3m6 -66v6m0 43v3m6 -66v3m0 3v3m0 2v3m0 43v6m6 -49v6m0 37v3m12 -26v3m6 -8v5m0 32v6m13 -61v3m0 15v3m0 40v5m6 -63v6m0 9v3m0 43v5m6 -57v3m0 3v3m0 40v3m6 -58v9m0 3v3m0 45v6m6 -23v3m0 9v5m0 69v3m6 -126v3m0 37v6m0 8v3m0 9v3m0 20v3m6 -95v3m0 54v3m0 23v3m0 3v6m6 -49v3m0 71v6m19 -92v9m0 92v3m6 -109v5m0 3v6m0 86v3m18 0v3m0 3v5m6 -2v11"/>
<path stroke="#58a800" stroke-width="7" d="M137.5 632v3m61 60v6m0 9v5m61 -66v9m0 6v3m0 2v3m0 20v3m0 3v6m0 8v3m55 -51v8m61 6v3m0 40v6m0 3v5m55 6v3m0 20v3m61 -66v3m0 8v3m0 29v3m61 -35v9m0 14v3m0 37v6m55 -48v2m0 3v3m0 3v3m0 60v3m122 -57v5m0 20v6m0 34v3m0 3v3m55 63v6m61 -103v5m0 52v3m0 54v3m0 6v3m55 -106v3m122 66v11"/>
<path stroke="#3e9900" stroke-width="6" d="M64 741v3m6 -112v3m0 118v2m6 -48v3m13 34v3m6 -92v3m6 43v3m6 -52v6m0 43v3m6 -78v9m0 23v3m0 31v3m6 -40v6m0 31v6m0 9v5m6 -80v9m0 66v5m0 12v3m6 -86v3m0 77v3m13 -89v3m0 52v2m6 -51v8m0 12v3m6 -9v3m0 3v6m0 48v3m0 9v3m6 -66v5m0 49v3m6 -9v6m6 -77v3m0 25v3m0 58v3m6 -81v3m0 3v3m0 109v3m6 -129v5m0 12v6m6 28v3m0 35v2m0 38v2m13 -94v3m0 6v5m6 43v3m6 9v3m6 -20v8m6 -83v9m0 71v3m0 49v1m12 -136v6m0 49v2m6 -60v3m0 37v9m0 3v3m0 5v3m6 -20v3m13 -17v3m0 23v3m6 -58v3m0 20v3m0 6v3m6 -23v3m0 5v3m0 20v3m6 -40v3m0 6v11m0 9v5m0 3v3m6 -23v6m0 11v6m6 -14v3m0 5v3m0 3v3m0 80v3m6 -94v2m6 -25v2m0 15v3m0 3v2m0 3v6m13 -40v8m0 32v3m6 0v3m0 11v3m6 -3v6m6 3v3m6 -52v3m6 40v6m6 -9v3m0 9v3m6 -21v3m0 9v3m6 -17v2m0 6v12m0 11v6m13 -69v3m0 34v9m0 3v6m6 -58v6m0 3v3m0 31v9m0 6v5m6 -62v5m0 6v3m0 17v8m0 52v3m6 -93v1m0 52v3m6 0v8m6 -31v5m0 9v6m0 17v3m6 -23v6m6 -32v3m0 29v2m0 3v3m13 20v3m0 23v6m6 -52v3m0 23v8m0 12v3m6 -46v3m0 8v3m0 3v3m0 6v3m0 2v3m6 -37v3m0 9v2m0 9v6m6 -23v3m0 3v8m0 12v2m6 -25v5m0 6v9m0 60v3m6 -118v3m0 9v14m0 3v6m6 -43v5m0 12v3m0 3v5m0 3v6m0 29v5m6 -74v3m0 28v9m0 3v3m0 20v8m13 -63v12m0 3v3m0 2v3m6 -8v5m0 3v9m0 26v2m0 61v3m6 -3v3m6 -109v5m6 52v3m6 8v3m6 -83v3m0 69v6m6 -32v3m6 0v8m13 -5v3m6 -29v3m0 46v5m6 -83v3m0 3v3m0 37v3m0 29v3m6 60v3m6 -144v3m0 6v3m0 6v2m0 118v6m6 -132v6m0 68v3m6 -77v6m6 -3v3m0 20v2m13 -33v5m0 74v3m6 -71v2m0 3v3m0 6v3m0 46v5m6 -31v3m0 34v6m6 46v2m6 -117v11m6 -8v8m6 -22v2m0 6v3m0 9v5m6 -14v3m6 34v9m25 -17v2m0 26v3m0 66v9m6 -104v3m0 101v3m6 -115v6m6 -12v3m0 9v2m0 3v3m0 46v6m0 6v2m6 -83v3m0 14v6m0 55v3m6 -86v2m0 3v6m0 6v3m0 45v3m0 3v3m6 -74v2m13 86v3m6 -77v3m0 8v3m0 63v3m6 0v3m30 49v3m13 -9v3m0 6v2m6 -74v3m6 28v3m0 29v6m0 3v8m6 -137v5m0 46v3m0 77v3m6 -80v3m0 66v3m0 3v2m0 3v3m12 -80v9m0 60v3m6 -3v5m0 3v3m6 -129v3m0 3v3m0 49v2m0 3v6m13 -60v3m6 -9v3m6 123v3m6 -115v3m0 58v8m0 9v3m6 -26v3m6 8v3m6 -49v6m0 26v6m25 3v2m6 -40v3m0 3v6m6 -15v3m0 43v6m0 55v2m6 -117v3m0 11v6m6 -3v3m0 37v3m12 -34v5m0 3v3m0 23v3m6 6v3m13 -43v2m12 -20v6m0 6v3m0 3v5m6 -11v3m0 3v2m6 -14v3m0 57v3m0 66v3m6 -126v3m0 54v3m0 11v3m6 0v3m0 12v3m0 25v3m6 -126v3m0 126v12m0 2v1m19 -112v2m0 49v3m0 52v3m6 -98v3m0 80v3m0 3v6m18 -3v3m6 0v3"/>
<path stroke="#3e9900" stroke-width="7" d="M137.5 644v3m0 11v3m61 14v3m0 49v3m61 -72v6m0 31v3m0 6v3m55 -15v6m61 -17v3m0 28v3m0 12v3m0 5v3m0 3v6m55 43v6m0 31v3m61 -126v8m0 18v5m0 3v6m0 3v3m61 -29v6m0 40v8m0 6v6m55 -57v3m0 126v2m61 -114v3m61 0v3m0 83v3m116 0v2m0 6v3m177 9v2m0 3v3"/>
<path stroke="#258a00" stroke-width="6" d="M52 707v3m18 -32v3m0 74v3m6 -117v3m13 8v3m0 29v3m6 3v11m0 43v3m6 -52v6m6 -6v6m6 0v3m6 -43v3m6 -6v6m6 -32v3m0 3v3m0 20v3m13 -26v9m0 40v3m0 2v3m6 -37v3m0 3v3m6 -29v11m0 41v5m0 23v9m6 -89v6m0 3v5m0 63v3m6 -74v8m0 15v2m6 -22v2m0 18v2m0 58v3m12 -81v6m6 -14v3m13 43v3m0 22v12m0 3v8m0 43v3m6 -60v12m0 2v3m0 40v3m6 -34v3m0 34v3m6 0v3m6 -135v3m0 117v6m0 6v3m6 -135v3m12 49v3m6 -58v3m0 89v3m13 -86v8m0 3v6m0 6v6m0 20v2m6 -40v3m0 6v3m0 112v2m6 -140v3m0 14v6m0 9v2m0 101v3m6 -104v3m0 46v3m0 52v2m6 -126v3m0 23v3m6 -26v9m0 63v3m6 -89v3m0 14v3m0 6v3m6 -3v3m0 2v3m13 3v3m6 0v3m6 -3v3m12 -23v3m0 20v3m6 0v5m0 3v3m6 -11v5m0 3v3m0 40v6m12 -52v6m13 -37v3m0 54v3m6 -54v3m0 17v8m0 12v6m6 -49v3m6 -9v3m0 17v3m6 -14v3m6 5v6m0 49v3m0 71v2m6 -125v3m0 14v9m0 28v3m6 -28v3m0 51v12m0 17v3m13 -112v3m0 20v3m0 11v3m0 23v3m0 26v2m0 18v2m6 -54v3m0 23v3m6 -86v3m0 31v3m0 23v3m0 3v2m0 52v3m6 -75v9m0 11v9m6 -49v6m0 3v3m0 17v6m0 57v3m6 -97v2m0 9v6m6 -32v6m0 17v3m0 89v3m6 -101v3m0 95v3m6 -135v3m0 20v11m0 9v3m0 31v3m13 -54v3m0 3v2m0 3v9m0 77v3m6 -109v3m0 14v3m0 9v3m0 25v6m6 -51v3m0 37v3m12 -15v3m0 29v11m6 -91v2m0 89v3m6 -74v3m0 63v5m6 -11v3m19 -78v9m0 63v6m0 8v6m6 -89v3m0 37v3m0 37v3m6 -89v3m0 3v3m0 37v3m0 3v3m0 29v2m0 55v3m6 -132v6m0 34v6m6 -49v3m0 135v1m6 -139v6m0 6v2m6 -2v5m0 32v5m6 -8v3m0 86v3m13 -129v5m0 3v3m0 3v3m0 112v2m6 -138v4m0 23v3m0 2v3m0 43v3m6 -77v3m0 28v3m0 6v3m0 34v3m0 43v6m6 -101v3m6 -28v3m0 22v6m0 100v3m6 -126v3m0 14v3m6 -14v9m0 108v6m6 -120v3m0 5v6m6 -14v3m0 5v3m13 -11v3m6 0v3m6 114v3m6 -100v5m6 -11v3m6 -9v3m0 3v3m0 3v3m0 94v3m6 -37v3m6 -63v2m0 46v3m0 15v2m6 -91v3m0 22v6m19 -23v6m0 6v3m0 2v3m0 3v9m0 57v3m12 -43v3m0 37v3m18 -83v8m6 -2v8m0 115v3m13 -9v3m0 3v6m6 -69v6m6 -58v6m6 40v6m0 69v2m6 -74v3m6 -9v3m0 69v8m6 -80v6m0 9v2m0 55v3m0 3v5m6 -80v17m0 66v3m6 -86v6m0 3v3m0 2v3m13 -60v6m0 54v9m6 -70v1m0 9v3m0 57v3m6 -69v3m0 8v3m0 78v3m6 -96v1m0 6v5m0 58v3m6 -9v3m0 3v5m0 9v6m6 -20v5m0 6v12m6 -66v5m0 6v3m6 -11v2m13 0v3m6 0v6m6 32v2m6 0v3m6 63v3m6 -60v6m6 -9v6m31 -34v2m0 6v3m6 -23v3m0 86v3m6 -78v3m0 26v6m0 3v3m0 34v3m6 -89v11m0 29v9m0 40v3m0 37v3m6 -126v3m0 48v3m0 32v3m0 22v3m0 3v3m6 -126v3m0 112v5m0 3v6m6 -106v3m0 48v3m0 3v6m0 37v3m0 12v2m6 -142v5m0 74v3m0 37v3m13 -94v3m0 11v3m0 95v5m6 -100v3m0 89v8m6 -106v3m0 86v3m18 3v3"/>
<path stroke="#258a00" stroke-width="7" d="M82.5 741v3m55 -109v9m0 43v5m61 -14v3m0 40v6m0 3v3m0 40v2m61 -2v8m55 -91v2m61 46v3m55 -3v3m61 -14v3m0 5v3m0 12v3m0 2v3m0 3v3m61 23v3m55 -43v6m0 2v3m122 26v3m0 46v3m0 3v2m55 46v3m61 -106v9m0 43v3m0 2v6m0 29v3m116 -40v5m61 12v3m0 2v3m0 12v3m0 28v3"/>
<path stroke="#118100" stroke-width="6" d="M52 704v3m12 -29v3m6 26v3m6 -66v3m19 40v3m12 0v5m6 0v3m6 -8v2m12 -57v3m0 20v3m0 23v6m13 -43v2m0 9v3m0 3v3m6 -18v9m6 -6v3m6 -11v3m0 11v6m0 57v6m6 -86v3m0 11v12m6 -23v3m0 2v3m0 9v6m0 57v3m12 40v6m6 -133v1m0 34v6m0 86v3m0 5v3m13 -54v3m0 8v3m0 37v3m6 -45v2m0 12v3m6 -9v6m6 -86v3m0 114v3m0 3v3m6 -46v3m6 -97v2m0 3v3m0 120v6m0 9v2m12 -82v2m6 -14v6m0 8v3m0 23v6m0 29v5m13 -120v3m0 8v3m0 121v3m6 -138v3m0 132v3m6 -135v3m0 3v2m0 12v9m0 54v6m0 48v1m6 -52v3m6 -81v3m0 75v3m0 31v6m6 -118v6m0 75v3m6 -86v2m0 6v3m0 3v6m6 -9v6m13 11v3m6 -26v3m6 15v2m0 12v3m0 46v5m6 -83v3m0 32v2m0 9v3m6 -40v3m0 20v3m0 5v3m0 6v3m6 -49v12m0 22v3m0 3v3m6 -40v3m0 28v3m12 -11v3m13 -23v3m0 17v8m0 23v3m0 3v9m6 -69v3m0 6v11m0 46v3m6 -69v3m0 8v9m6 -14v3m0 5v3m0 3v6m6 -23v3m0 3v2m0 9v9m6 -9v3m0 49v2m6 -43v3m0 95v3m6 -109v3m0 17v6m13 -23v3m0 14v3m0 3v3m0 31v3m6 -60v3m0 11v12m0 60v3m6 -86v2m0 26v3m0 23v3m0 20v6m6 -86v3m0 74v3m6 -80v3m0 20v5m0 6v3m0 26v3m6 -43v3m0 2v9m6 92v1m6 -122v9m6 -12v12m13 23v8m6 3v3m0 9v3m6 -40v2m0 32v3m6 -35v9m0 43v6m6 -58v6m0 14v3m6 -8v5m6 46v3m6 -11v5m6 3v3m13 -66v3m6 -29v3m0 46v3m0 3v3m0 31v6m6 -52v3m0 92v3m0 3v1m6 -139v3m0 32v2m0 43v3m6 -31v3m12 -6v3m0 86v6m6 -3v5m13 -137v3m0 37v3m6 -40v3m0 20v2m0 3v12m0 34v6m6 -86v3m0 34v6m6 -40v3m0 131v3m6 -137v3m0 8v3m0 20v3m0 95v2m6 -133v10m0 123v3m0 3v3m6 -112v6m0 103v3m6 -120v5m6 -5v5m0 3v3m0 115v3m13 -129v3m0 20v2m6 -2v2m0 92v3m6 -120v3m0 17v3m0 2v3m0 101v3m6 -132v3m0 14v3m6 -9v3m0 103v3m6 -117v5m0 9v3m0 100v3m6 -118v3m0 72v3m6 -78v3m0 17v9m0 46v9m6 -58v3m0 49v11m13 0v3m6 -92v3m0 15v2m6 9v3m6 0v3m6 20v3m0 66v3m6 -92v3m6 -29v3m0 8v9m0 3v3m6 -20v3m0 8v3m0 109v3m19 -118v6m0 75v2m6 -86v6m0 43v3m6 6v8m6 -8v8m6 -20v3m0 80v6m6 -89v3m0 17v6m0 60v6m6 -89v3m0 69v3m6 -66v3m0 66v5m13 -14v3m6 -106v3m0 100v3m0 8v3m6 -123v3m0 3v8m0 46v3m0 9v3m6 -69v3m0 57v6m6 -9v3m0 11v3m0 12v6m6 -32v6m6 -29v3m6 -12v3m13 0v3m6 3v3m0 3v3m6 -12v3m6 0v12m18 -3v8m0 29v3m6 -3v6m6 -38v6m13 -6v3m6 0v3m0 3v3m6 -9v3m0 29v3m6 -35v3m0 20v3m0 6v3m6 63v8m0 12v3m6 -126v5m0 101v2m0 3v3m0 3v6m6 -129v8m0 63v3m0 52v9m6 -127v3m0 12v3m0 57v3m6 6v2m19 -48v3m6 -21v6m0 3v3m6 95v2m6 -132v1"/>
<path stroke="#118100" stroke-width="7" d="M82.5 647v2m0 32v3m0 26v2m55 -65v2m0 6v3m0 26v3m61 -46v3m0 37v3m0 49v2m0 40v3m61 -71v5m0 26v9m0 43v3m55 -106v3m61 -6v3m55 17v3m0 89v2m61 -83v12m0 26v2m0 3v3m0 3v6m0 3v5m61 15v3m55 -35v3m0 3v3m61 -20v3m0 34v3m0 34v3m0 6v3m0 40v3m61 -38v3m55 -69v3m61 20v3m0 9v11m0 12v3m0 43v3m55 -66v5m61 23v3m0 3v3m61 -6v3m0 3v3"/>
<path stroke="#007902" stroke-width="6" d="M52 738v6m6 -40v8m0 29v3m6 -103v3m0 63v3m6 -69v6m0 28v3m6 32v5m13 -3v3m0 23v6m6 -32v6m6 -31v8m0 20v3m0 26v3m6 -32v6m6 -23v3m12 -20v6m0 34v3m6 -60v3m0 23v2m0 32v3m13 -78v3m0 3v3m0 3v3m12 -15v3m6 0v6m0 69v3m6 -78v3m6 -3v3m0 3v3m0 57v6m6 -69v3m0 75v2m6 -80v3m0 17v12m6 -32v6m0 20v6m13 94v3m6 -43v6m0 34v3m6 -123v3m0 111v3m0 9v1m6 -141v2m0 9v3m0 80v3m0 6v3m0 22v3m6 -131v2m0 95v6m6 37v3m18 -86v6m0 80v5m13 -140v3m0 80v3m0 3v3m6 -92v3m6 -3v3m12 86v3m0 3v3m12 -89v3m0 5v3m6 0v3m13 14v3m6 -3v3m0 58v2m6 -68v3m0 2v6m6 -20v3m0 3v3m0 25v6m0 6v3m0 26v5m6 -71v3m0 20v5m0 3v6m0 31v3m6 -68v2m0 69v3m6 -80v6m6 14v3m6 -23v3m0 14v3m0 3v3m0 57v3m13 -72v3m0 69v3m6 -72v3m0 34v3m0 3v3m6 -46v6m0 31v12m6 -66v3m0 3v5m0 46v3m6 -52v3m0 46v3m0 3v3m6 -46v3m6 8v3m6 3v3m0 72v2m13 -65v8m6 -8v8m0 55v2m6 -86v3m0 9v14m0 55v5m6 -68v11m0 49v3m12 -83v2m0 12v6m0 63v3m0 37v3m6 -40v2m6 -86v3m6 98v3m13 -58v3m0 9v5m6 -25v3m0 8v9m6 -29v6m0 14v6m6 -23v11m0 3v3m0 32v3m6 -63v2m0 6v14m0 84v2m6 -86v3m0 3v3m12 34v3m6 -66v3m0 52v3m0 5v3m13 -60v3m0 23v3m0 23v8m6 -90v1m0 3v3m0 37v3m0 6v3m6 -20v8m6 -34v3m0 26v3m12 17v3m0 80v6m6 -55v3m6 0v6m13 -66v6m0 2v3m0 6v3m0 94v3m6 -137v3m0 40v3m6 -38v3m6 20v3m0 9v5m6 -40v3m0 26v3m0 97v3m6 -109v3m0 89v6m0 8v3m0 3v3m6 -109v3m0 86v3m6 -95v6m0 3v3m6 -12v3m0 106v6m13 -123v2m0 15v3m0 100v3m6 -123v2m0 115v9m12 -115v3m6 -14v5m6 38v2m12 43v3m31 -80v6m6 -12v3m0 89v3m6 -66v3m0 11v3m6 -43v12m0 8v9m6 -6v3m0 3v3m6 -26v3m0 14v3m13 -14v5m0 9v6m0 66v2m6 -86v3m6 -5v2m0 52v9m18 57v3m31 -75v6m0 3v14m0 38v11m0 3v6m6 -115v3m0 40v9m0 2v3m0 6v3m0 31v6m0 17v3m6 -83v3m0 20v3m0 34v3m6 -6v3m6 -23v6m6 9v3m6 -52v3m6 -12v3m13 0v9m6 -3v3m0 3v3m0 17v3m6 -20v2m6 -2v2m12 -8v3m6 -3v3m12 11v3m13 -6v6m6 3v3m6 -6v6m0 8v3m0 3v6m6 -29v3m0 3v3m6 -12v3m6 115v3m6 -124v3m6 -14v11m0 3v3m0 12v2m0 3v3m0 40v3m6 -57v3m13 60v3m6 -43v3m0 31v3m6 -54v2m0 12v3m0 83v6m0 3v2m0 3v3m6 -112v3m0 52v8m0 32v9m0 2v6m6 -137v2m6 78v6"/>
<path stroke="#007902" stroke-width="7" d="M137.5 649v6m0 6v3m0 63v3m61 -86v3m0 37v6m0 2v3m61 98v2m55 -111v3m0 63v3m61 -49v3m55 28v3m0 78v2m61 -48v3m0 5v3m61 9v3m0 8v3m55 -51v2m0 9v3m61 -12v6m0 9v3m0 11v3m0 34v3m0 3v6m0 37v6m61 -32v3m55 -69v3m61 20v9m0 17v6m116 14v3m61 -20v3m0 17v3m0 14v3"/>
<path stroke="#00831b" stroke-width="3" d="M47.5 638v3m0 26v8"/>
<path stroke="#00831b" stroke-width="6" d="M52 638v6m0 25v3m6 -31v3m0 25v3m0 3v6m0 72v2m6 -17v3m0 12v2m6 -83v3m6 -28v2m0 26v6m19 60v3m6 -3v3m12 -57v5m6 26v3m0 3v3m6 -40v3m0 57v6m19 -101v3m0 103v3m24 -43v15m6 -78v3m12 29v3m6 -46v3m0 5v3m0 32v3m0 80v3m13 -131v5m0 91v9m6 37v3m6 -143v5m0 9v3m0 112v2m6 -31v6m6 -105v2m0 2v6m0 95v3m6 -107v1m0 2v3m6 92v3m6 26v5m0 15v1m19 -53v3m0 46v3m6 -132v6m0 2v3m0 72v3m0 31v3m6 -40v3m0 34v6m6 -40v3m0 34v3m18 -37v6m6 -3v3m13 -63v2m0 61v2m6 -65v2m0 3v6m0 49v3m6 -78v6m0 3v3m0 11v3m6 -20v3m0 3v5m0 12v6m0 8v3m6 -31v2m0 3v3m0 3v3m0 54v3m6 -69v3m0 63v3m6 -71v5m0 3v6m6 -23v14m0 6v3m0 3v3m19 -18v6m6 6v3m0 34v3m6 -54v2m0 58v3m6 -72v3m0 54v3m0 3v6m6 -55v6m0 43v3m0 3v5m6 -48v3m6 -6v3m0 74v3m6 -77v3m0 5v6m13 -11v2m0 9v3m0 74v3m6 -86v6m6 -3v6m0 74v3m6 -91v2m0 75v3m0 6v5m6 -91v2m0 15v3m0 45v3m0 52v3m6 -121v3m0 3v6m0 72v2m6 0v12m12 0v3m13 -58v3m0 3v3m0 3v3m0 5v9m6 -31v5m6 -23v6m0 6v3m6 5v3m0 38v2m6 43v3m6 -111v8m0 3v6m0 8v3m6 -14v6m6 -18v3m19 26v3m6 -20v8m12 0v9m6 -14v11m0 3v3m0 34v3m6 55v2m6 -106v3m19 -5v2m6 106v3m6 -134v5m6 -9v1m0 8v3m0 23v9m6 -37v2m0 115v3m0 14v3m6 -109v9m0 86v3m6 -3v3m0 11v3m6 -106v3m0 94v9m6 -109v3m0 57v9m13 -78v6m0 6v3m0 100v3m0 3v3m6 -124v3m0 3v3m0 3v6m6 -20v2m0 12v3m6 -17v2m6 3v3m37 109v3m6 0v3m6 -118v6m0 6v5m0 12v3m6 -29v3m0 26v3m6 -32v3m0 9v5m0 6v3m0 11v3m0 46v6m6 -80v8m0 20v3m0 78v2m6 -74v6m6 -29v6m13 -23v3m0 5v3m0 75v3m6 -86v2m6 61v3m12 -21v9m0 66v3m24 3v3m13 -75v3m0 72v8m6 -86v6m0 9v2m0 3v6m0 40v3m0 3v3m6 -69v3m0 14v3m0 3v3m0 37v3m0 3v3m6 -75v3m0 17v3m0 32v2m12 -2v2m12 -57v3m13 3v3m24 -6v9m6 -9v3m0 3v8m0 86v3m31 -83v3m6 -12v3m0 29v6m6 -32v3m0 17v3m0 75v2m6 -97v3m0 3v3m6 -18v3m0 3v9m6 -9v12m12 -9v3m0 8v3m0 3v6m0 46v3m6 -89v3m0 11v3m0 20v6m0 34v3m0 3v3m0 3v3m13 -75v6m0 17v3m0 3v3m0 31v3m0 6v3m6 -72v3m0 57v20m6 -20v3m0 3v6m0 40v3m0 2v3m6 -112v3m0 3v3m0 6v3m0 37v3m0 8v6m12 -94v2m0 32v3m0 11v3m0 35v2"/>
<path stroke="#00831b" stroke-width="7" d="M82.5 649v3m0 60v3m55 9v3m61 -75v9m0 29v2m0 86v3m116 -100v3m0 63v3m61 -40v2m55 12v3m0 3v5m61 75v6m61 -78v6m0 52v5m116 -48v2m0 6v3m0 17v3m0 83v3m116 -97v2m0 6v3m238 57v6m0 23v3m0 37v3m0 14v3"/>
<path stroke="#008c33" stroke-width="3" d="M47.5 675v3m0 57v3"/>
<path stroke="#008c33" stroke-width="6" d="M52 644v3m0 25v6m0 75v2m6 -83v3m0 63v3m0 9v3m6 -109v3m0 25v6m0 32v2m6 -2v2m0 29v3m6 -95v3m0 20v3m0 66v3m13 -69v3m24 -9v9m0 40v6m6 -43v6m0 34v3m6 -60v5m6 6v3m49 -6v12m0 51v3m6 -48v5m0 38v2m6 -88v5m0 38v2m13 55v3m6 -107v4m0 5v3m12 -6v9m12 86v6m0 3v2m6 -8v6m0 34v6m6 -3v3m6 -83v2m13 66v3m6 -114v2m0 72v3m30 -75v3m6 0v3m0 72v3m13 -78v9m0 3v3m0 63v3m6 -69v6m6 -9v3m6 8v3m6 -3v3m0 3v3m6 54v3m6 -63v3m0 6v3m6 -12v6m6 -14v14m13 0v3m18 46v3m18 -46v5m0 75v6m6 -83v5m19 -5v2m0 86v3m6 -86v3m6 -6v6m0 9v3m0 63v3m6 -84v6m0 6v3m0 51v12m0 3v3m6 -81v3m0 57v3m0 3v9m0 8v3m18 20v3m0 12v3m13 -75v3m0 43v3m6 -32v3m6 -34v8m0 26v3m6 11v3m6 43v3m6 -106v3m6 -9v6m0 3v3m0 6v11m6 -26v3m6 52v5m13 -51v8m24 6v3m0 3v3m6 -17v2m0 9v6m0 34v3m6 -46v3m0 46v3m6 -58v3m0 6v3m0 46v3m13 -55v3m12 97v3m6 -131v2m0 118v6m6 -92v8m0 78v3m6 3v2m6 -94v3m6 83v3m0 17v3m6 -109v6m0 91v6m13 -109v6m0 17v3m0 80v3m6 -112v3m6 -6v3m6 -3v3m0 3v3m0 103v3m43 -72v3m0 66v3m0 3v3m6 -86v8m0 72v3m6 -98v9m0 20v3m0 69v3m6 -115v6m0 5v3m0 3v6m0 11v9m6 -43v9m0 8v3m0 12v2m0 6v3m6 -9v3m0 3v9m6 -6v3m6 -46v3m0 26v3m13 -29v3m0 23v3m6 -26v3m6 17v6m6 -9v6m12 0v3m18 8v3m0 83v6m19 3v3m6 -69v3m0 54v3m0 3v3m0 3v2m30 -80v3m0 3v3m37 6v2m43 29v3m0 40v3m6 26v3m6 -3v5m6 -91v3m6 -15v3m0 12v2m6 -17v23m6 -20v3m0 72v3m6 -89v3m0 5v3m0 3v3m0 3v5m0 3v6m0 43v3m0 3v3m13 -3v3m0 3v5m6 -80v3m6 -19v2m0 40v3m0 3v2m0 32v3m0 6v5m6 -60v3m0 6v8m0 46v3m6 -75v3m0 55v11m6 -66v9m0 3v3m0 3v5m0 43v3"/>
<path stroke="#008c33" stroke-width="7" d="M82.5 738v3m116 -94v5m116 20v9m61 26v3m55 -3v3m0 17v3m61 77v3m0 14v3m116 -69v3m0 49v3m177 -43v3m61 48v3m0 72v3m0 3v5m55 -86v6m0 6v3m122 37v3m0 49v2"/>
<path stroke="#009443" stroke-width="3" d="M47.5 641v3m0 94v3"/>
<path stroke="#009443" stroke-width="6" d="M52 647v5m0 75v3m0 20v3m6 -109v3m6 0v2m0 20v3m25 -17v3m0 20v3m0 34v3m6 0v3m6 -63v3m0 57v3m6 -63v6m12 14v3m6 -12v12m6 -3v6m0 66v5m13 -28v6m6 25v3m6 0v3m6 -11v8m6 -74v3m6 -15v3m6 6v6m0 48v3m6 -3v9m6 -55v3m0 40v3m0 3v3m13 -95v6m0 3v3m6 -12v3m0 3v3m0 3v3m6 -15v9m0 109v6m6 -129v3m12 103v3m6 0v2m6 -11v3m25 0v3m0 25v3m36 -109v3m13 9v3m0 3v3m6 -9v3m12 11v3m0 60v3m12 -66v12m6 57v3m25 -80v5m36 92v3m0 6v3m6 2v3m13 -89v9m6 -9v3m12 3v3m0 3v3m6 -9v6m0 72v5m6 -23v3m0 9v3m0 8v3m6 -26v6m0 26v3m6 -6v3m6 -3v3m13 3v3m12 -58v3m0 35v2m6 43v4m18 -112v2m0 6v3m6 57v3m6 -66v3m0 63v3m13 -63v3m0 8v9m0 43v3m12 -12v6m18 -43v3m0 43v3m6 -52v3m0 3v3m0 40v3m6 -52v6m13 -6v3m0 83v3m12 17v3m6 -137v3m0 131v3m6 -11v3m6 -89v3m6 2v3m0 81v2m6 -88v5m0 78v3m6 -38v3m13 -37v6m6 -29v3m6 -6v6m6 -9v3m0 103v3m12 -80v3m18 77v3m13 -83v3m0 6v2m0 3v3m12 -3v3m0 69v3m6 -106v5m0 3v3m0 12v5m0 78v3m6 -101v3m0 9v3m6 0v5m6 -5v3m0 8v3m19 -23v3m0 9v2m0 69v3m6 -86v6m6 -3v3m0 6v2m6 -2v2m6 -2v2m6 -2v2m18 0v6m0 3v6m0 74v3m19 12v2m6 0v3m6 -77v3m0 57v3m0 3v3m0 3v5m49 -3v3m49 -37v6m0 34v3m6 -52v3m0 3v3m6 69v3m12 -83v2m6 0v6m12 58v2m6 -88v5m0 17v3m13 -33v5m0 11v3m0 26v3m12 -43v3m0 17v3m0 20v3m0 48v3m6 -97v5m0 32v3m6 -12v3m0 17v3m0 29v3m0 11v9m6 -98v3m0 15v5m0 15v3m0 45v3m0 3v6"/>
<path stroke="#009443" stroke-width="7" d="M82.5 652v3m116 80v3m0 29v6m177 -72v3m55 14v6m0 74v3m122 -37v3m0 37v3m0 26v3m55 -23v5m61 -54v6m0 5v3m0 86v3m61 0v6m55 -106v3m0 14v9m0 20v3m61 8v3m0 60v9m0 3v3m55 -72v3m61 37v3m61 -40v8m0 72v3"/>
<path stroke="#009c53" stroke-width="3" d="M47.5 710v5m0 35v3"/>
<path stroke="#009c53" stroke-width="6" d="M52 652v3m0 69v3m0 3v3m6 -86v2m0 6v3m6 -9v3m6 -5v2m19 9v9m0 14v3m0 51v3m6 -80v3m6 3v3m6 -3v3m6 11v3m6 -9v6m0 9v3m0 57v6m6 -26v3m6 -61v6m0 72v3m19 -23v3m6 -61v3m6 -3v9m0 72v3m0 8v3m6 -92v6m0 6v3m0 74v3m6 -92v3m0 3v6m0 3v3m0 43v8m6 -51v2m0 49v3m6 -9v3m6 0v3m0 3v3m13 -100v2m0 6v3m6 -11v2m0 9v3m36 86v3m19 25v3m30 0v3m31 -106v6m6 103v3m6 -89v6m110 97v3m6 -83v3m0 77v3m6 -14v3m12 -9v6m6 14v3m0 3v3m6 -9v3m13 -3v6m6 3v3m6 -29v3m0 51v3m6 -5v2m12 0v3m12 -103v14m0 6v3m6 -23v6m0 3v3m0 11v3m19 86v3m6 -49v3m6 -9v3m6 0v3m6 -52v6m0 49v3m6 0v3m19 -6v3m6 34v3m12 -3v3m12 -77v2m6 -5v3m6 48v3m0 35v5m6 -86v3m25 -23v3m0 98v2m0 3v3m6 -89v6m6 -6v3m6 0v3m0 6v6m6 0v2m0 63v3m12 6v3m13 -83v6m6 2v6m6 -14v11m0 69v3m6 0v3m6 -69v3m12 -12v6m6 9v3m0 45v3m13 -83v3m0 29v3m0 45v6m6 -77v8m6 0v3m0 17v3m6 -28v3m0 2v6m0 14v6m0 52v3m6 -81v3m6 -3v3m18 12v14m0 46v6m25 -43v8m6 -11v3m0 57v3m0 3v3m0 5v3m6 -80v6m6 -6v3m12 17v3m0 54v3m25 -8v2m0 3v6m24 17v3m25 -72v9m6 -6v3m6 -11v3m6 0v2m6 3v3m6 0v3m6 -3v3m31 -38v4m0 11v3m6 83v3m12 -95v3m0 23v3m0 9v5m6 -31v6"/>
<path stroke="#009c53" stroke-width="7" d="M82.5 672v9m55 -17v3m0 8v9m0 46v3m61 5v3m0 3v3m177 -60v5m0 6v3m55 9v2m61 89v6m61 -63v6m116 23v2m116 18v3m0 20v2m61 66v3m55 -60v3m122 86v3m0 3v3"/>
<path stroke="#00a866" stroke-width="3" d="M47.5 644v3m0 2v6m0 60v6"/>
<path stroke="#00a866" stroke-width="6" d="M52 655v3m0 54v12m0 9v2m6 -86v6m0 3v6m12 -15v3m6 0v3m0 14v3m0 66v3m13 -74v8m0 58v2m6 -74v6m0 17v3m0 51v3m6 -80v3m0 3v5m0 12v3m6 -20v8m0 69v3m6 -86v8m0 75v6m6 -86v8m6 58v3m6 -66v2m13 -2v2m0 6v3m0 6v3m6 -20v2m0 6v9m0 46v3m6 -61v6m0 77v6m6 -23v12m6 -81v3m0 6v6m0 74v3m6 -77v3m0 3v2m0 49v3m0 17v6m31 6v2m12 -11v3m6 6v2m18 0v3m6 -28v5m31 20v3m24 3v3m25 -29v3m0 9v3m6 11v3m6 -14v3m12 0v2m0 15v3m61 -6v6m6 3v2m6 12v3m37 -12v3m6 0v6m6 -20v6m6 -18v3m0 20v3m6 -3v3m0 12v5m13 -20v3m6 -8v2m0 12v3m0 3v2m6 -28v6m0 43v2m30 -86v6m6 -14v3m0 3v11m19 86v3m6 -49v3m6 -3v6m6 -3v3m31 3v5m6 26v3m6 0v3m6 0v3m0 14v3m12 -95v3m6 -5v2m0 49v6m6 -6v9m37 -49v3m6 -6v15m0 65v6m6 -83v3m6 -6v3m0 9v3m0 45v3m0 23v3m6 -72v3m6 63v3m19 -63v3m18 -14v3m12 0v2m6 12v3m0 43v3m0 5v3m13 -60v6m0 3v2m0 52v3m6 0v3m0 11v3m6 -74v2m6 52v6m0 14v3m6 -103v6m18 0v2m6 86v3m0 9v3m31 -63v3m0 48v3m6 -54v5m0 46v3m0 9v3m0 2v6m12 -66v6m6 -3v3m0 54v3m0 3v3m13 -63v6m0 48v12m6 -75v3m0 60v6m6 -69v3m0 55v3m0 11v3m6 -75v3m0 58v5m18 -54v6m37 0v5m12 -3v3m37 66v3m0 17v3m6 -109v3m6 6v3m6 0v5m6 -17v3m0 26v6m6 -29v3"/>
<path stroke="#00a866" stroke-width="7" d="M137.5 733v2m238 -43v6m55 14v6m61 80v3m61 -40v3m116 14v3m116 29v3m0 43v3m0 2v9m61 12v2m55 9v6m61 -40v2m0 6v3m61 49v3"/>
<path stroke="#00b67b" stroke-width="3" d="M47.5 647v2m0 6v3m0 63v3"/>
<path stroke="#00b67b" stroke-width="6" d="M52 658v11m0 41v2m6 -48v3m0 54v3m6 -72v3m6 14v3m6 -17v6m0 3v5m0 66v3m19 -71v2m0 6v3m0 57v3m6 -66v3m0 63v3m6 -66v3m0 9v3m0 57v3m6 -69v3m12 49v2m0 6v6m6 -20v14m13 -72v6m0 3v6m6 -12v3m0 9v3m0 66v2m6 -77v3m0 49v5m0 18v2m6 -77v3m0 54v3m6 3v17m6 -3v6m12 0v3m6 -3v6m13 -12v3m0 12v3m6 -15v9m0 6v5m6 -25v2m0 6v3m6 3v6m6 -3v5m12 -5v5m6 -20v3m6 -8v8m31 20v3m6 -3v3m6 -17v6m6 8v3m6 -11v14m13 -14v3m0 8v3m6 -20v3m0 3v3m6 -9v3m0 3v11m6 -14v3m6 17v3m6 -23v6m0 2v6m0 6v3m6 -23v3m49 8v3m6 0v3m0 9v3m25 5v3m42 -8v5m0 20v3m6 -26v3m13 -17v3m0 9v2m6 -14v3m0 3v6m0 11v3m6 -9v3m6 12v5m0 3v3m6 -14v3m0 11v3m6 -12v6m37 -17v3m0 37v3m18 -40v3m61 28v6m6 -29v6m12 -49v3m0 78v5m13 -86v9m12 -6v6m0 77v3m12 -5v2m6 0v3m6 -80v9m0 71v3m55 -17v3m0 23v6m12 -86v5m0 6v3m0 43v3m0 3v2m0 6v3m13 -69v6m6 -9v6m0 14v3m0 43v9m6 -52v3m0 66v3m6 -26v3m0 9v5m6 -83v3m6 -3v3m6 -11v3m6 2v18m0 71v3m0 3v3m6 -14v2m31 -45v8m6 -6v6m0 37v3m0 6v6m0 3v2m6 -71v3m0 11v3m0 54v9m6 -72v3m0 63v6m6 -69v3m0 40v3m0 12v2m0 9v3m13 -72v6m0 43v11m0 12v3m6 -80v2m0 3v6m0 52v2m0 6v6m6 -72v3m0 69v3m6 -20v3m0 5v6m6 -3v3m6 -54v5m6 -5v5m6 -17v3m0 3v3m6 -6v9m0 8v6m0 34v3m19 -54v5m6 58v3m6 -61v6m12 63v3m31 -97v5m0 3v3m6 -6v3m6 -5v2m0 9v3m6 -3v6m6 -6v3m0 17v3m6 -26v3"/>
<path stroke="#00b67b" stroke-width="7" d="M82.5 715v3m0 17v3m55 -69v6m0 60v6m0 9v5m61 -14v3m293 92v3m61 -89v5m55 89v3m122 -51v8m55 -6v3m0 58v2m116 29v3m0 6v17m61 -63v3m0 5v3m0 43v6"/>
<path stroke="#00c591" stroke-width="3" d="M47.5 664v3m0 57v9"/>
<path stroke="#00c591" stroke-width="6" d="M58 667v2m0 49v3m0 3v11m6 -80v3m0 9v2m12 -8v3m0 69v2m13 -5v3m6 -64v6m0 3v3m0 52v2m6 -60v3m24 57v3m6 3v6m13 -14v2m6 -66v3m0 61v2m0 3v12m0 5v3m6 -77v3m0 63v6m6 -72v3m0 3v3m6 48v3m6 9v5m6 6v6m6 -9v3m19 -8v2m0 3v12m6 -17v5m0 9v6m6 -18v6m12 -8v2m6 15v5m12 -17v6m6 -17v3m0 8v3m0 9v3m37 -18v9m6 -3v3m0 6v8m6 -5v5m19 -11v3m0 3v8m6 -23v6m0 9v2m0 3v9m6 -29v6m0 3v3m6 -6v3m0 6v17m6 -23v3m0 3v14m6 -23v3m0 14v6m6 -17v3m6 -6v3m6 0v3m31 25v3m6 -20v3m6 0v3m31 14v3m6 0v3m30 -20v6m19 -6v9m6 -9v3m0 11v6m6 -3v14m6 -14v6m0 3v3m6 -15v12m0 5v9m6 -3v3m31 20v3m12 -14v3m12 0v2m12 -2v2m6 0v3m43 -20v3m0 20v3m12 0v3m6 -80v2m13 78v8m6 -80v6m0 63v3m0 8v3m6 -80v3m0 69v3m6 -72v3m0 3v3m0 65v3m24 0v3m6 -83v3m0 11v3m25 49v3m12 20v6m6 -26v3m6 -3v3m6 -55v6m13 -9v3m0 72v3m6 -72v3m0 72v3m6 -69v3m0 54v9m6 -69v8m0 46v3m6 -57v8m6 -14v3m6 -11v2m0 92v6m6 -23v11m0 6v3m43 -11v2m6 -48v3m0 5v3m6 -14v8m0 43v9m0 11v3m6 -66v3m0 46v12m13 -66v8m0 46v3m6 -43v6m0 40v6m0 14v6m6 -75v3m0 46v3m6 14v3m6 -75v3m0 55v3m0 2v6m6 -8v2m6 -54v3m0 11v3m6 -17v3m0 3v14m6 -11v8m13 -14v8m0 52v3m6 23v6m18 -23v3m0 8v3m6 -11v5m0 3v3m18 -9v3m13 -89v3m6 -8v5m12 0v9m6 -3v3m0 6v5m6 -17v3"/>
<path stroke="#00c591" stroke-width="7" d="M82.5 655v9m0 5v3m55 -5v2m0 72v3m122 14v3m55 20v3m61 -11v2m116 6v6m0 29v2m61 -63v6m55 80v3m61 12v5m61 -74v3m0 3v3m55 5v6m116 37v3m0 3v3m0 34v3m61 -34v3m0 5v3m0 69v3"/>
<path stroke="#00d9b3" stroke-width="3" d="M47.5 658v6m0 69v2"/>
<path stroke="#00d9b3" stroke-width="6" d="M52 735v3m6 -26v6m0 17v3m6 -80v9m6 71v3m19 -14v3m6 0v3m6 -55v3m0 52v5m6 -60v3m6 3v3m12 51v3m19 -6v3m0 12v8m6 -23v3m0 12v3m6 -69v3m0 48v3m6 -54v3m0 46v2m12 9v6m6 -3v14m6 -6v3m0 6v3m6 -9v3m19 -11v3m12 0v2m0 3v9m6 -12v6m0 3v3m12 -12v6m43 -6v6m12 -6v6m6 9v3m6 -6v3m13 -6v3m6 8v3m12 -17v3m6 -3v6m0 3v3m12 14v6m6 -23v5m0 18v3m19 -18v6m6 -11v5m12 15v5m0 3v3m6 -20v12m12 2v3m6 0v3m31 0v3m24 -26v6m0 31v3m6 -40v3m0 6v3m13 23v2m0 18v3m6 0v2m12 -31v3m0 8v3m6 -8v2m6 -14v3m0 9v2m12 12v3m0 11v3m25 -20v3m12 -3v9m6 -6v9m12 -12v3m0 11v3m19 -5v5m6 -31v3m18 28v3m6 -29v6m0 3v3m0 9v2m6 6v6m6 -12v9m6 3v3m13 -9v6m0 8v3m6 -86v3m0 6v3m0 46v3m0 5v6m0 6v3m0 5v3m6 -80v3m0 63v3m6 -66v3m0 66v2m12 3v3m12 -83v6m0 6v2m0 69v3m6 -83v6m0 3v2m25 55v8m6 -8v3m37 20v3m6 -72v3m0 3v5m0 43v3m0 12v3m0 3v2m6 -80v6m0 54v3m0 12v3m6 -78v6m6 -3v3m0 57v12m6 -12v6m0 3v6m0 2v9m6 -95v3m0 75v6m6 -12v3m0 11v3m6 -8v3m37 8v3m6 -54v5m0 46v3m0 9v2m6 -8v8m25 -11v3m6 -46v3m0 66v6m6 -29v3m6 -43v8m0 38v2m0 9v3m6 -63v6m0 45v3m6 -63v6m0 52v2m0 23v3m6 3v3m6 -23v3m13 23v3m6 -26v3m0 17v3m12 -20v3m6 3v8m0 3v3m6 -3v3m6 0v3m37 -101v3m0 3v3m12 3v3"/>
<path stroke="#00d9b3" stroke-width="7" d="M82.5 664v3m0 57v3m0 3v5m55 9v3m61 11v9m61 -14v5m0 3v12m55 -12v14m0 3v3m61 -11v3m116 23v2m0 20v6m61 -17v11m0 26v6m177 -60v3m55 3v2m0 9v3m0 94v2m116 -59v3m61 83v3m0 3v3m61 0v8"/>
<path stroke="#00edd7" stroke-width="6" d="M64 727v3m0 5v3m6 -86v9m0 51v3m0 20v3m6 -23v6m0 9v3m13 -15v9m6 -46v3m0 43v3m6 -3v6m12 -6v3m6 3v8m25 3v6m12 -63v3m0 48v9m6 -17v3m6 0v5m12 6v3m12 8v3m13 -8v3m18 2v3m6 3v3m0 3v3m6 -15v3m12 6v9m6 -6v3m13 -20v3m0 5v6m18 -11v2m0 6v3m6 -11v2m0 9v11m6 -22v2m6 0v15m6 -15v12m13 -9v6m36 9v2m0 3v9m6 -12v9m0 3v3m6 -17v2m19 3v6m0 3v11m6 -23v12m0 9v5m6 -26v3m0 3v12m6 3v8m6 -8v2m25 15v3m6 -3v3m18 -12v3m12 9v5m6 -28v3m6 -12v6m0 3v3m13 2v3m0 17v6m6 -6v6m6 -26v3m0 17v9m18 0v3m6 -26v3m0 34v6m25 -37v6m12 17v3m6 -12v3m0 9v3m12 -3v5m6 -17v3m0 3v9m6 0v2m37 -14v6m0 8v3m0 3v3m6 -20v3m0 3v3m6 -9v3m0 8v6m6 -8v2m6 3v9m0 8v3m13 0v3m6 -92v3m0 61v5m0 9v3m0 3v2m6 -22v14m6 -9v3m24 -57v6m6 -3v3m37 57v6m6 0v8m6 -11v8m0 3v3m25 14v3m0 20v2m6 -108v3m0 6v3m0 54v3m0 12v2m12 -80v3m0 72v5m6 -66v3m0 52v3m0 6v2m6 -83v3m0 66v6m0 6v8m6 -74v8m49 63v3m0 9v3m6 -9v3m6 -57v2m25 12v6m0 34v3m6 -37v2m6 -8v3m0 66v5m6 -83v3m0 60v3m6 -3v3m0 15v2m6 -23v6m6 0v3m0 3v6m0 11v6m13 -3v3m12 -17v5m6 -5v3m0 2v3m6 9v3m12 -17v2m0 9v3m12 6v2m13 -8v6m12 -101v3"/>
<path stroke="#00edd7" stroke-width="7" d="M82.5 667v2m0 58v3m55 17v3m61 5v3m61 -11v3m55 5v6m0 14v3m61 -3v3m0 6v3m55 14v3m61 -17v9m116 43v2m0 20v3m61 -14v6m0 5v3m116 6v9m0 23v2m116 -68v8"/>
<path stroke="#00fefc" stroke-width="6" d="M64 712v3m0 6v6m6 -66v3m0 3v2m6 52v9m19 -6v3m6 -46v3m0 40v3m6 6v2m0 3v3m6 -17v3m0 3v14m6 -17v6m0 8v6m25 -9v6m18 31v3m24 -31v8m6 -2v2m43 3v3m6 0v3m12 -3v6m13 -20v3m0 3v5m6 15v2m6 -25v14m6 -14v3m0 11v3m6 8v3m0 20v3m12 0v1m19 -47v3m36 17v3m6 6v3m0 3v3m6 -6v9m13 -23v5m0 6v12m6 -12v3m0 11v3m6 -14v9m6 -18v3m43 23v3m6 23v2m12 -25v3m6 8v3m6 -8v3m6 0v2m6 -22v2m19 0v3m12 0v3m12 3v9m0 28v3m6 -40v3m0 6v8m6 -8v8m6 -17v3m0 3v8m0 3v3m0 17v3m13 -31v8m6 -14v6m0 5v6m0 3v6m6 -6v3m12 -9v6m6 3v3m6 -15v3m6 0v15m13 -3v3m6 -29v3m0 3v2m0 23v3m6 -31v3m0 2v3m0 15v5m6 -20v3m6 -8v2m0 15v3m0 3v2m6 -8v3m6 -3v3m0 3v2m6 -5v3m19 5v3m6 -57v3m6 -3v3m6 46v5m0 3v6m6 -14v2m12 3v9m25 0v6m6 -9v3m0 3v5m12 -5v5m0 35v2m12 -42v3m0 14v3m6 -12v3m0 6v3m0 3v5m6 -14v9m13 0v3m0 5v3m6 -80v3m12 71v6m6 -6v9m6 -77v2m6 -14v6m55 83v6m43 -55v15m0 57v6m6 -72v3m0 63v6m6 -12v3m0 14v3m6 -26v3m0 3v6m6 -3v3m0 6v3m0 2v6m6 -11v5m0 3v3m13 -17v3m6 0v3m6 5v6m6 -8v2m12 12v3m6 -15v9m0 6v3m6 -3v5m6 -5v3m13 -9v3m0 6v2"/>
<path stroke="#00fefc" stroke-width="7" d="M82.5 721v3m116 26v5m61 -5v3m55 0v2m61 23v6m0 3v3m55 23v3m122 2v6m55 9v6m0 25v1m61 -26v2m0 3v6m293 63v6m0 3v3m61 14v3m0 28v4"/>
<path stroke="#00e7ff" stroke-width="6" d="M64 730v5m6 -71v3m0 57v6m25 -9v3m0 37v3m12 -83v3m0 46v3m0 2v3m0 3v3m85 3v6m43 8v9m6 -6v3m25 -3v3m6 -17v3m0 2v9m0 3v6m6 -9v3m0 29v2m6 -31v11m18 -25v2m6 -2v2m37 52v2m24 -34v3m0 6v3m13 9v2m24 23v3m6 -26v3m6 0v3m19 0v3m12 9v2m30 -5v3m0 20v3m49 8v1m6 -38v3m0 11v6m12 -20v3m0 8v3m0 3v3m0 17v3m13 -26v6m6 -14v5m6 3v6m18 0v3m12 -17v8m13 6v6m6 -18v3m0 15v5m6 -25v2m0 15v3m0 5v6m6 -31v5m0 3v3m0 17v3m6 -29v9m0 9v3m12 -3v3m6 -6v3m6 5v3m13 -8v3m0 2v3m18 9v6m6 -6v6m6 25v3m6 -34v8m6 26v3m19 -43v6m0 6v2m6 -8v3m6 5v3m6 -3v3m6 -5v5m6 6v3m6 -3v3m0 3v3m6 0v3m13 0v2m12 0v3m6 20v3m6 0v2m6 -105v9m6 -6v6m0 2v3m6 95v1m49 -33v3m6 43v3m6 -100v6m31 83v3m6 -81v6m6 -3v6m0 60v3m0 9v2m6 -5v3m6 -15v3m0 3v6m0 3v2m6 0v3m13 -11v8m6 -5v3m6 8v6m6 -9v6m12 6v3m12 -12v3m0 3v3m6 -6v6m43 40v1"/>
<path stroke="#00e7ff" stroke-width="7" d="M82.5 718v3m55 49v3m238 23v2m177 29v3m55 -12v6m0 6v3m61 3v3m0 2v3m116 35v3m177 37v3m0 3v8"/>
<path stroke="#00ceff" stroke-width="6" d="M58 755v3m6 -43v6m6 -6v9m0 6v5m31 -14v3m0 40v2m6 -45v9m0 34v3m37 6v2m30 3v2m12 -2v4m19 2v1m36 -18v3m25 -3v8m6 -22v2m0 9v3m6 0v8m30 26v2m61 -25v6m0 29v2m25 3v3m6 -3v3m12 -17v3m6 17v4m25 2v1m12 -1v3m6 -17v2m6 -2v2m67 -5v3m6 -12v3m0 17v6m19 0v3m12 -23v3m0 5v6m12 -3v3m6 3v3m25 -3v3m0 34v3m18 -40v3m0 11v3m30 -5v2m13 38v2m18 1v2m6 -43v12m6 -9v9m18 -9v3m13 14v3m6 -3v9m6 -6v3m6 3v3m6 23v3m6 -32v3m12 12v5m13 -3v3m12 0v3m30 23v3m6 0v2m98 -2v9m6 -9v6m25 34v3m6 -34v2m0 32v2m12 -25v6m24 -12v3m0 3v3m6 -9v6m13 -3v3m0 11v3m24 29v3"/>
<path stroke="#00ceff" stroke-width="7" d="M198.5 747v3m177 40v6m177 28v3m55 -3v6m61 49v1m116 2v2m238 46v9"/>
<path stroke="#00b9ff" stroke-width="3" d="M47.5 753v2"/>
<path stroke="#00b9ff" stroke-width="6" d="M52 755v2m55 -73v3m61 91v1m12 -1v3m12 -3v3m159 26v4m61 -10v3m6 0v6m31 -3v3m6 -3v3m0 6v2m12 -8v6m18 23v1m55 -30v6m19 17v3m12 -20v2m6 3v3m12 0v3m25 -3v3m6 6v3m6 -6v3m6 -3v3m0 3v5m30 -8v6m13 0v2m6 38v3m6 0v1m18 -24v2m12 -17v3m6 9v3m13 5v3m12 0v3m12 0v3m6 26v2m6 1v1m55 -87v2m0 95v2m25 4v3m6 0v1m73 19v4m6 -1v2m31 -20v3m12 32v2m30 -37v3m25 15v5m0 26v1m12 2v1m6 -35v2"/>
<path stroke="#00b9ff" stroke-width="7" d="M552.5 830v3m232 51v3m61 32v1"/>
<path stroke="#00a5ff" stroke-width="3" d="M47.5 755v2"/>
<path stroke="#00a5ff" stroke-width="6" d="M64 755v3m6 0v2m80 13v2m42 6v1m171 28v3m19 3v1m55 -10v3m6 -3v6m18 20v1m73 13v2m6 -42v3m0 37v3m6 -20v3m25 -20v3m6 -6v3m6 5v3m6 0v3m6 -8v5m19 -3v6m6 0v9m6 -12v3m6 9v3m73 5v3m0 9v6m12 -12v6m0 3v3m6 -6v3m31 8v6m6 -3v3m61 40v4m73 19v2m19 4v1m24 7v1m31 -18v3m6 -6v3m55 43v3m6 -43v6m0 3v3m0 5v3m6 -14v6m0 8v3m6 -6v3m6 -11v3m0 2v6m0 3v3"/>
<path stroke="#00a5ff" stroke-width="7" d="M375.5 813v3m55 -12v3m299 40v3m171 83v3"/>
<path stroke="#0090ff" stroke-width="6" d="M64 758v1m49 5v4m37 7v1m213 37v1m25 2v3m36 -15v6m13 0v3m12 -3v6m12 -6v6m43 25v2m55 7v4m18 -36v3m43 0v3m0 40v4m6 -44v6m30 46v2m61 -25v3m0 3v5m6 -17v6m0 6v5m37 0v3m147 69v2m6 -2v3m12 3v2m24 6v2m6 -2v4m13 -21v3m6 -6v6m12 26v3m18 3v2m31 -31v3m0 31v3m6 -40v3m0 6v8m0 23v3m6 -43v3m0 8v3m0 3v3m0 20v3m6 -40v3m0 11v3m6 -6v6"/>
<path stroke="#0090ff" stroke-width="7" d="M198.5 781v2m293 56v2m61 9v3m177 -3v3m0 8v6"/>
<path stroke="#007eff" stroke-width="6" d="M357 810v2m98 -2v6m43 25v1m79 -29v3m12 -3v3m0 2v3m55 52v2m6 1v1m269 62v3m24 5v3m55 15v3m49 -23v2m0 9v3m12 -14v5m0 6v6"/>
<path stroke="#007eff" stroke-width="7" d="M729.5 853v8"/>
<path stroke="#006dff" stroke-width="6" d="M498 839v2m79 -25v2m6 -5v5m6 -2v2m37 49v3m24 3v3m342 89v2m55 -28v6m12 -6v6"/>
<path stroke="#006dff" stroke-width="7" d="M430.5 810v3"/>
<path stroke="#005bff" stroke-width="6" d="M546 850v2m92 18v4"/>
<path stroke="#005bff" stroke-width="7" d="M430.5 807v3"/>
<path stroke="#003eff" stroke-width="6" d="M632 870v2"/>
<path stroke="#0000ff" stroke-width="3" d="M47.5 757v43"/>
<path stroke="#0000ff" stroke-width="6" d="M52 757v43m6 -42v42m6 -41v43m6 -42v42m6 -41v41m13 -39v43m6 -42v43m6 -41v41m6 -40v44m6 -43v43m6 -42v44m6 -42v42m6 -41v45m13 -42v45m6 -44v44m6 -42v45m6 -44v44m6 -44v47m6 -46v46m6 -45v45m6 -44v46m6 -46v46m13 -43v46m6 -44v44m6 -43v43m6 -41v44m6 -43v43m6 -42v42m6 -41v45m6 -44v44m6 -43v43m13 -42v44m6 -42v42m6 -41v41m6 -40v44m6 -43v43m6 -42v42m6 -42v42m6 -41v42m13 -40v44m6 -43v43m6 -43v45m6 -43v43m6 -42v46m6 -44v44m6 -43v45m6 -43v43m6 -42v46m13 -44v45m6 -43v43m6 -41v45m6 -44v48m6 -46v46m6 -44v46m6 -44v44m6 -43v47m13 -46v46m6 -45v46m6 -45v45m6 -44v44m6 -43v47m6 -45v45m6 -44v44m6 -42v42m6 -41v46m13 -44v44m6 -43v46m6 -45v45m6 -44v44m6 -42v45m6 -44v44m6 -43v43m6 -42v42m6 -40v46m13 -44v44m6 -42v44m6 -43v43m6 -41v44m6 -43v43m6 -42v45m6 -44v44m6 -42v46m13 -43v43m6 -42v46m6 -44v44m6 -42v47m6 -45v45m6 -44v44m6 -42v43m6 -42v42m6 -41v41m13 -39v43m6 -42v42m6 -41v47m6 -46v46m6 -44v44m6 -43v43m6 -41v45m6 -44v44m6 -43v46m13 -43v43m6 -42v46m6 -45v45m6 -43v43m6 -42v47m6 -45v45m6 -43v43m6 -42v44m13 -41v46m6 -44v44m6 -42v42m6 -42v47m6 -46v46m6 -44v46m6 -45v45m6 -43v47m6 -46v50m13 -46v48m6 -47v47m6 -45v48m6 -45v45m6 -43v43m6 -41v46m6 -45v45m6 -43v46m13 -43v47m6 -45v45m6 -43v43m6 -41v48m6 -46v46m6 -44v45m6 -43v43m6 -41v42m6 -40v41m13 -36v38m6 -36v37m6 -34v34m6 -33v34m6 -32v33m6 -32v33m6 -31v32m6 -31v32m6 -30v30m13 -27v29m6 -28v29m6 -27v28m6 -27v28m6 -26v26m6 -25v26"/>
<path stroke="#0000ff" stroke-width="7" d="M82.5 762v44m55 -33v44m61 -34v45m61 -33v43m55 -34v41m61 -29v45m55 -31v46m61 -35v45m61 -33v45m55 -33v45m61 -30v44m61 -31v44m55 -31v42m61 -28v48m55 -32v45m61 -25v40m61 -22v30"/>
</g>
</g>
<polyline points="47.1,758.0 50.1,758.4 53.1,758.9 56.1,759.3 59.1,759.8 62.1,760.3 65.1,760.8 68.1,761.2 71.1,761.7 74.1,762.1 77.1,762.6 80.1,763.0 83.1,763.5 86.1,764.0 89.1,764.6 92.1,765.2 95.1,765.8 98.1,766.4 101.1,767.0 104.1,767.6 107.1,768.2 110.1,768.8 113.1,769.4 116.1,770.0 119.1,770.6 122.1,771.2 125.1,771.8 128.1,772.4 131.1,773.0 134.1,773.8 137.1,774.5 140.1,775.3 143.1,776.1 146.1,776.8 149.1,777.6 152.1,778.3 155.1,778.8 158.1,779.3 161.1,779.7 164.1,780.2 167.1,780.7 170.1,781.1 173.1,781.6 176.1,782.0 179.1,782.3 182.1,782.6 185.1,782.8 188.1,783.1 191.1,783.4 194.1,783.7 197.1,784.0 200.1,784.8 203.1,785.7 206.1,786.6 209.1,787.5 212.1,788.4 215.1,789.3 218.1,790.2 221.1,791.0 224.1,791.4 227.1,791.9 230.1,792.4 233.1,792.8 236.1,793.3 239.1,793.7 242.1,794.2 245.1,794.6 248.1,795.1 251.1,795.5 254.1,796.0 257.1,796.4 260.1,796.9 263.1,797.3 266.1,797.8 269.1,798.4 272.1,799.0 275.1,799.6 278.1,800.2 281.1,800.8 284.1,801.4 287.1,802.0 290.1,802.4 293.1,802.7 296.1,803.0 299.1,803.3 302.1,803.6 305.1,803.9 308.1,804.1 311.1,804.5 314.1,804.9 317.1,805.4 320.1,805.8 323.1,806.3 326.1,806.7 329.1,807.2 332.1,807.6 335.1,808.2 338.1,809.0 341.1,809.7 344.1,810.5 347.1,811.2 350.1,812.0 353.1,812.7 356.1,813.4 359.1,814.1 362.1,814.7 365.1,815.3 368.1,815.9 371.1,816.5 374.1,817.1 377.1,817.7 380.1,818.4 383.1,819.2 386.1,819.9 389.1,820.7 392.1,821.4 395.1,822.1 398.1,822.9 401.1,823.6 404.1,824.5 407.1,825.4 410.1,826.4 413.1,827.3 416.1,828.2 419.1,829.1 422.1,830.0 425.1,830.5 428.1,830.8 431.1,831.0 434.1,831.3 437.1,831.5 440.1,831.8 443.1,832.1 446.1,832.7 449.1,833.3 452.1,833.9 455.1,834.6 458.1,835.2 461.1,835.8 464.1,836.4 467.1,837.1 470.1,837.8 473.1,838.6 476.1,839.3 479.1,840.1 482.1,840.8 485.1,841.6 488.1,842.3 491.1,842.7 494.1,843.2 497.1,843.6 500.1,844.1 503.1,844.5 506.1,845.0 509.1,845.4 512.1,846.0 515.1,846.6 518.1,847.2 521.1,847.8 524.1,848.4 527.1,849.0 530.1,849.6 533.1,850.2 536.1,850.8 539.1,851.4 542.1,852.0 545.1,852.5 548.1,853.1 551.1,853.7 554.1,854.3 557.1,855.0 560.1,855.8 563.1,856.5 566.1,857.3 569.1,858.0 572.1,858.8 575.1,859.5 578.1,860.2 581.1,860.9 584.1,861.5 587.1,862.1 590.1,862.7 593.1,863.3 596.1,863.9 599.1,864.5 602.1,865.2 605.1,865.9 608.1,866.7 611.1,867.4 614.1,868.2 617.1,868.9 620.1,869.7 623.1,870.4 626.1,871.3 629.1,872.2 632.1,873.1 635.1,874.0 638.1,874.9 641.1,875.8 644.1,876.7 647.1,877.5 650.1,878.1 653.1,878.7 656.1,879.3 659.1,879.9 662.1,880.5 665.1,881.1 668.1,881.7 671.1,882.1 674.1,882.6 677.1,883.0 680.1,883.5 683.1,884.0 686.1,884.4 689.1,884.9 692.1,885.4 695.1,886.2 698.1,886.9 701.1,887.7 704.1,888.4 707.1,889.2 710.1,889.9 713.1,890.7 716.1,891.3 719.1,891.9 722.1,892.5 725.1,893.0 728.1,893.6 731.1,894.2 734.1,894.8 737.1,895.4 740.1,896.0 743.1,896.6 746.1,897.2 749.1,897.8 752.1,898.4 755.1,899.0 758.1,899.6 761.1,900.7 764.1,901.7 767.1,902.8 770.1,903.8 773.1,904.7 776.1,905.3 779.1,905.9 782.1,906.4 785.1,907.0 788.1,907.6 791.1,908.3 794.1,909.4 797.1,910.5 800.1,911.5 803.1,911.9 806.1,912.3 809.1,912.7 812.1,913.1 815.1,913.5 818.1,914.2 821.1,914.9 824.1,915.6 827.1,916.3 830.1,917.0 833.1,917.9 836.1,918.8 839.1,919.7 842.1,920.6 845.1,921.5 848.1,922.2 851.1,923.0 854.1,923.8 857.1,924.5 860.1,925.3 863.1,926.5 866.1,927.7 869.1,928.9 872.1,930.1 875.1,931.2 878.1,932.0 881.1,932.7 884.1,933.5 887.1,934.2 890.1,935.0 893.1,935.7 896.1,936.5 899.1,937.2 902.1,938.0 905.1,938.8 908.1,939.8 911.1,940.9 914.1,941.9 917.1,942.9 920.1,944.0 923.1,944.9 926.1,945.8 929.1,946.7 932.1,947.6 935.1,948.5 938.1,949.6 941.1,950.6 944.1,951.7 947.1,952.8 950.1,953.8 953.1,954.9 956.1,955.9 959.1,957.0 962.1,958.0 965.1,959.1 968.1,960.3 971.1,961.5 974.1,962.7 977.1,963.9 980.1,965.0 983.1,965.7 986.1,966.5 989.1,967.2 992.1,968.0 995.1,968.7 998.1,969.4 1001.1,970.2 1004.1,970.9 1007.1,971.7 1010.1,972.4 1013.1,973.2 1016.1,973.9 1019.1,974.7 1022.1,975.5 1025.1,976.2 1028.1,977.0 1031.1,977.7 1034.1,978.4 1037.1,979.2 1040.1,979.9 1043.1,980.7 1046.1,981.5 1049.1,982.2 1052.1,983.0 1055.1,983.7 1058.1,984.4" fill="none" stroke="#000" stroke-width="3.8" stroke-dasharray="1.7,2.1"/>
<line x1="431.2" y1="600.5" x2="431.2" y2="834.7" stroke="#0000ff" stroke-width="2"/>
<polygon fill="#000" points="755.4,820.2 763.5,796.2 767.9,804.3 796.0,790.1 803.8,805.0 776.0,819.9 779.7,828.3"/>
<rect x="47.1" y="600.5" width="1012.5" height="390.9" fill="none" stroke="#000" stroke-width="2.4"/>
<text x="40.0" y="632.2" font-size="24.5" text-anchor="end">560</text>
<text x="40.0" y="689.5" font-size="24.5" text-anchor="end">580</text>
<text x="40.0" y="746.9" font-size="24.5" text-anchor="end">600</text>
<text x="40.0" y="804.2" font-size="24.5" text-anchor="end">620</text>
<text x="40.0" y="861.5" font-size="24.5" text-anchor="end">640</text>
<text x="40.0" y="918.9" font-size="24.5" text-anchor="end">660</text>
<text x="40.0" y="976.2" font-size="24.5" text-anchor="end">680</text>
<text x="161.9" y="1021.9" font-size="24.5" text-anchor="middle">20</text>
<text x="284.0" y="1021.9" font-size="24.5" text-anchor="middle">40</text>
<text x="406.0" y="1021.9" font-size="24.5" text-anchor="middle">60</text>
<text x="528.1" y="1021.9" font-size="24.5" text-anchor="middle">80</text>
<text x="650.2" y="1021.9" font-size="24.5" text-anchor="middle">100</text>
<text x="772.3" y="1021.9" font-size="24.5" text-anchor="middle">120</text>
<text x="894.4" y="1021.9" font-size="24.5" text-anchor="middle">140</text>
<text x="1016.4" y="1021.9" font-size="24.5" text-anchor="middle">160</text>
<path d="M47.1 623.4H57.6M1059.6 623.4H1049.1M47.1 680.7H57.6M1059.6 680.7H1049.1M47.1 738.1H57.6M1059.6 738.1H1049.1M47.1 795.4H57.6M1059.6 795.4H1049.1M47.1 852.7H57.6M1059.6 852.7H1049.1M47.1 910.1H57.6M1059.6 910.1H1049.1M47.1 967.4H57.6M1059.6 967.4H1049.1M161.9 991.4V980.9M161.9 600.5V611.0M284.0 991.4V980.9M284.0 600.5V611.0M406.0 991.4V980.9M406.0 600.5V611.0M528.1 991.4V980.9M528.1 600.5V611.0M650.2 991.4V980.9M650.2 600.5V611.0M772.3 991.4V980.9M772.3 600.5V611.0M894.4 991.4V980.9M894.4 600.5V611.0M1016.4 991.4V980.9M1016.4 600.5V611.0" stroke="#000" stroke-width="2" fill="none"/>
<text x="266.2" y="577.8" font-size="41.5" text-anchor="start" font-weight="bold">(b)</text>
<text x="349.0" y="577.8" font-size="36.6" text-anchor="start" letter-spacing="0.08">Ip: traditional regularization</text>
<g shape-rendering="crispEdges">
<rect x="1099.5" y="981.80" width="50.1" height="6.70" fill="#ff0000"/>
<rect x="1099.5" y="975.70" width="50.1" height="6.70" fill="#ff0000"/>
<rect x="1099.5" y="969.60" width="50.1" height="6.70" fill="#ff0000"/>
<rect x="1099.5" y="963.50" width="50.1" height="6.70" fill="#ff0000"/>
<rect x="1099.5" y="957.40" width="50.1" height="6.70" fill="#ff0000"/>
<rect x="1099.5" y="951.30" width="50.1" height="6.70" fill="#ff0000"/>
<rect x="1099.5" y="945.20" width="50.1" height="6.70" fill="#ff0000"/>
<rect x="1099.5" y="939.10" width="50.1" height="6.70" fill="#ff0000"/>
<rect x="1099.5" y="933.00" width="50.1" height="6.70" fill="#ff0000"/>
<rect x="1099.5" y="926.90" width="50.1" height="6.70" fill="#ff0000"/>
<rect x="1099.5" y="920.80" width="50.1" height="6.70" fill="#ff0000"/>
<rect x="1099.5" y="914.70" width="50.1" height="6.70" fill="#ff0000"/>
<rect x="1099.5" y="908.60" width="50.1" height="6.70" fill="#ff0000"/>
<rect x="1099.5" y="902.50" width="50.1" height="6.70" fill="#ff0000"/>
<rect x="1099.5" y="896.40" width="50.1" height="6.70" fill="#ff1000"/>
<rect x="1099.5" y="890.30" width="50.1" height="6.70" fill="#ff2200"/>
<rect x="1099.5" y="884.20" width="50.1" height="6.70" fill="#ff3200"/>
<rect x="1099.5" y="878.10" width="50.1" height="6.70" fill="#ff4200"/>
<rect x="1099.5" y="872.00" width="50.1" height="6.70" fill="#ff5100"/>
<rect x="1099.5" y="865.90" width="50.1" height="6.70" fill="#ff6100"/>
<rect x="1099.5" y="859.80" width="50.1" height="6.70" fill="#ff7100"/>
<rect x="1099.5" y="853.70" width="50.1" height="6.70" fill="#ff8000"/>
<rect x="1099.5" y="847.60" width="50.1" height="6.70" fill="#ff8d00"/>
<rect x="1099.5" y="841.50" width="50.1" height="6.70" fill="#ff9b00"/>
<rect x="1099.5" y="835.40" width="50.1" height="6.70" fill="#ffa900"/>
<rect x="1099.5" y="829.30" width="50.1" height="6.70" fill="#ffb900"/>
<rect x="1099.5" y="823.20" width="50.1" height="6.70" fill="#ffc900"/>
<rect x="1099.5" y="817.10" width="50.1" height="6.70" fill="#ffda00"/>
<rect x="1099.5" y="811.00" width="50.1" height="6.70" fill="#ffef00"/>
<rect x="1099.5" y="804.90" width="50.1" height="6.70" fill="#f9fc00"/>
<rect x="1099.5" y="798.80" width="50.1" height="6.70" fill="#d8ea00"/>
<rect x="1099.5" y="792.70" width="50.1" height="6.70" fill="#b0d500"/>
<rect x="1099.5" y="786.60" width="50.1" height="6.70" fill="#7fbd00"/>
<rect x="1099.5" y="780.50" width="50.1" height="6.70" fill="#58a800"/>
<rect x="1099.5" y="774.40" width="50.1" height="6.70" fill="#3e9900"/>
<rect x="1099.5" y="768.30" width="50.1" height="6.70" fill="#258a00"/>
<rect x="1099.5" y="762.20" width="50.1" height="6.70" fill="#118100"/>
<rect x="1099.5" y="756.10" width="50.1" height="6.70" fill="#007902"/>
<rect x="1099.5" y="750.00" width="50.1" height="6.70" fill="#00831b"/>
<rect x="1099.5" y="743.90" width="50.1" height="6.70" fill="#008c33"/>
<rect x="1099.5" y="737.80" width="50.1" height="6.70" fill="#009443"/>
<rect x="1099.5" y="731.70" width="50.1" height="6.70" fill="#009c53"/>
<rect x="1099.5" y="725.60" width="50.1" height="6.70" fill="#00a866"/>
<rect x="1099.5" y="719.50" width="50.1" height="6.70" fill="#00b67b"/>
<rect x="1099.5" y="713.40" width="50.1" height="6.70" fill="#00c591"/>
<rect x="1099.5" y="707.30" width="50.1" height="6.70" fill="#00d9b3"/>
<rect x="1099.5" y="701.20" width="50.1" height="6.70" fill="#00edd7"/>
<rect x="1099.5" y="695.10" width="50.1" height="6.70" fill="#00fefc"/>
<rect x="1099.5" y="689.00" width="50.1" height="6.70" fill="#00e7ff"/>
<rect x="1099.5" y="682.90" width="50.1" height="6.70" fill="#00ceff"/>
<rect x="1099.5" y="676.80" width="50.1" height="6.70" fill="#00b9ff"/>
<rect x="1099.5" y="670.70" width="50.1" height="6.70" fill="#00a5ff"/>
<rect x="1099.5" y="664.60" width="50.1" height="6.70" fill="#0090ff"/>
<rect x="1099.5" y="658.50" width="50.1" height="6.70" fill="#007eff"/>
<rect x="1099.5" y="652.40" width="50.1" height="6.70" fill="#006dff"/>
<rect x="1099.5" y="646.30" width="50.1" height="6.70" fill="#005bff"/>
<rect x="1099.5" y="640.20" width="50.1" height="6.70" fill="#004bff"/>
<rect x="1099.5" y="634.10" width="50.1" height="6.70" fill="#003eff"/>
<rect x="1099.5" y="628.00" width="50.1" height="6.70" fill="#0031ff"/>
<rect x="1099.5" y="621.90" width="50.1" height="6.70" fill="#0024ff"/>
<rect x="1099.5" y="615.80" width="50.1" height="6.70" fill="#0018ff"/>
<rect x="1099.5" y="609.70" width="50.1" height="6.70" fill="#000bff"/>
<rect x="1099.5" y="601.60" width="50.1" height="8.70" fill="#0000ff"/>
</g>
<rect x="1099.2" y="602.3" width="50.7" height="391.1" fill="none" stroke="#000" stroke-width="2.4"/>
<text x="1156.5" y="652.8" font-size="24.5" text-anchor="start">1.25</text>
<text x="1156.5" y="722.3" font-size="24.5" text-anchor="start">1.2</text>
<text x="1156.5" y="791.8" font-size="24.5" text-anchor="start">1.15</text>
<text x="1156.5" y="861.3" font-size="24.5" text-anchor="start">1.1</text>
<text x="1156.5" y="930.8" font-size="24.5" text-anchor="start">1.05</text>
<text x="1156.5" y="1006.3" font-size="24.5" text-anchor="start">1</text>
<path d="M1099.5 644.0H1104.0M1149.6 644.0H1145.1M1099.5 713.5H1104.0M1149.6 713.5H1145.1M1099.5 783.0H1104.0M1149.6 783.0H1145.1M1099.5 852.5H1104.0M1149.6 852.5H1145.1M1099.5 922.0H1104.0M1149.6 922.0H1145.1" stroke="#000" stroke-width="2" fill="none"/>
<text x="1149.5" y="591.0" font-size="24.5">x 10<tspan font-size="16.5" dy="-17" dx="1.5">7</tspan></text>
<text x="1075.2" y="1033.0" font-size="31">(kg/m<tspan font-size="19" dy="-11">3</tspan><tspan dy="11" font-size="24">∗</tspan>m/s)</text>
<rect x="1362.5" y="600.4" width="388.3" height="390.5" fill="none" stroke="#000" stroke-width="2.6"/>
<text x="1355.5" y="609.2" font-size="24.5" text-anchor="end">580</text>
<text x="1355.5" y="675.4" font-size="24.5" text-anchor="end">590</text>
<text x="1355.5" y="741.6" font-size="24.5" text-anchor="end">600</text>
<text x="1355.5" y="807.8" font-size="24.5" text-anchor="end">610</text>
<text x="1355.5" y="874.0" font-size="24.5" text-anchor="end">620</text>
<text x="1355.5" y="940.2" font-size="24.5" text-anchor="end">630</text>
<text x="1362.5" y="1021.4" font-size="24.5" text-anchor="middle">1</text>
<text x="1491.9" y="1021.4" font-size="24.5" text-anchor="middle">1.2</text>
<text x="1621.4" y="1021.4" font-size="24.5" text-anchor="middle">1.4</text>
<text x="1750.8" y="1021.4" font-size="24.5" text-anchor="middle">1.6</text>
<path d="M1362.5 600.4H1369.5M1750.8 600.4H1743.8M1362.5 666.6H1369.5M1750.8 666.6H1743.8M1362.5 732.8H1369.5M1750.8 732.8H1743.8M1362.5 799.0H1369.5M1750.8 799.0H1743.8M1362.5 865.2H1369.5M1750.8 865.2H1743.8M1362.5 931.4H1369.5M1750.8 931.4H1743.8M1362.5 990.9V984.9M1362.5 600.4V606.4M1491.9 990.9V984.9M1491.9 600.4V606.4M1621.4 990.9V984.9M1621.4 600.4V606.4M1750.8 990.9V984.9M1750.8 600.4V606.4" stroke="#000" stroke-width="2" fill="none"/>
<clipPath id="rcb"><rect x="1362.5" y="600.4" width="391.3" height="391.5"/></clipPath>
<line x1="1362.5" y1="957.5" x2="1752.8" y2="957.5" stroke="#0000ff" stroke-width="1.6"/>
<polyline clip-path="url(#rcb)" points="1362.5,605.0 1455.8,605.0 1456.4,618.0 1460.4,640.9 1461.3,657.2 1464.6,670.2 1468.9,680.0 1474.4,689.8 1478.6,702.9 1479.3,711.0 1476.0,719.2 1472.8,729.0 1470.5,738.8 1469.5,751.8 1466.2,764.9 1463.0,771.4 1459.1,781.2 1457.1,791.0 1455.8,804.1 1456.4,813.8 1461.3,820.4 1467.9,826.9 1476.0,833.4 1478.6,840.0 1477.7,856.3 1479.3,866.1 1484.2,875.9 1492.3,884.0 1492.3,893.8 1485.8,898.7 1474.4,903.6 1443.4,910.1 1433.6,918.3 1436.9,924.8 1443.4,931.3 1459.7,934.6 1502.1,939.5 1551.1,944.4 1590.3,949.3 1609.8,954.2 1622.9,959.1 1627.8,964.0 1627.8,972.1 1619.6,978.7 1611.5,985.2 1604.9,992.7" fill="none" stroke="#000" stroke-width="3.8" stroke-linejoin="round"/>
<polyline clip-path="url(#rcb)" points="1362.5,605.6 1448.3,605.6 1446.7,619.3 1449.9,632.4 1451.6,640.5 1463.0,648.7 1472.8,656.9 1482.6,666.7 1485.2,674.8 1482.6,684.6 1477.7,694.4 1476.7,704.2 1479.3,714.0 1479.3,722.1 1476.0,731.9 1468.9,743.4 1459.7,753.1 1454.8,766.2 1458.1,776.0 1461.3,789.0 1458.1,798.8 1451.6,808.6 1448.3,818.4 1449.9,828.2 1456.4,838.0 1464.6,846.2 1469.5,854.3 1472.8,865.7 1485.8,873.9 1497.2,878.8 1511.9,883.7 1525.0,890.2 1534.1,897.4 1525.6,904.3 1511.9,908.2 1485.8,914.7 1466.2,918.9 1445.0,922.9 1436.9,929.4 1440.1,934.3 1449.9,939.2 1492.3,944.1 1544.6,950.6 1583.7,955.5 1603.3,958.8 1637.6,963.0 1652.3,970.2 1642.5,976.7 1616.4,983.2 1585.4,993.0" fill="none" stroke="#ff0000" stroke-width="3.8" stroke-linejoin="round"/>
<rect x="1547.4" y="613.5" width="191.6" height="79" fill="#fff" stroke="#000" stroke-width="2.4"/>
<line x1="1561.9" y1="634.1" x2="1637.7" y2="634.1" stroke="#000" stroke-width="4.4"/>
<line x1="1561.9" y1="670.0" x2="1637.7" y2="670.0" stroke="#ff0000" stroke-width="4.1"/>
<text x="1646.5" y="645.7" font-size="23.4" text-anchor="start">Theory</text>
<text x="1646.5" y="680.7" font-size="23.4" text-anchor="start">Inverted</text>
<text x="1546.5" y="590.4" font-size="37.0" text-anchor="middle">Well location</text>
<text x="1518.5" y="1060.4" font-size="31">(x 10<tspan font-size="19" dy="-11">7</tspan><tspan dy="11">  kg/m</tspan><tspan font-size="19" dy="-11">3</tspan><tspan dy="11" font-size="24">∗</tspan>m/s)</text>
<clipPath id="dcc"><rect x="47.1" y="1142.2" width="1014.6" height="391.0"/></clipPath>
<g clip-path="url(#dcc)">
<g shape-rendering="crispEdges" fill="none">
<path stroke="#ff0000" stroke-width="6" d="M516 1372v3"/>
<path stroke="#ff1000" stroke-width="6" d="M473 1369v3m12 -6v3m98 20v6m476 57v6"/>
<path stroke="#ff2200" stroke-width="6" d="M351 1332v5m128 29v9m37 0v3m55 5v9m6 -3v3m6 -6v3"/>
<path stroke="#ff3200" stroke-width="6" d="M351 1337v3m122 26v3m12 0v3m31 6v2m6 -8v8m6 0v3m43 -3v3m12 0v3m354 95v3m6 -3v3m98 -35v3m6 0v3m12 -6v3"/>
<path stroke="#ff3200" stroke-width="7" d="M729.5 1432v3m171 23v6"/>
<path stroke="#ff4200" stroke-width="6" d="M89 1289v3m396 80v3m13 -6v3m12 0v6m18 -3v5m49 6v3m12 -3v9m147 40v1m171 28v5m30 6v3m6 -3v6m98 -38v6m6 -6v9m12 -6v3"/>
<path stroke="#ff4200" stroke-width="7" d="M259.5 1329v3m232 37v3m238 57v3m171 32v2"/>
<path stroke="#ff5100" stroke-width="6" d="M89 1292v2m6 -2v2m6 -5v5m18 6v3m6 6v3m6 -12v6m208 34v9m6 -9v3m0 3v3m6 -9v3m6 -8v2m0 3v3m6 -6v12m80 14v3m24 3v3m37 -3v3m61 8v9m12 -9v6m12 -3v3m6 6v3m141 37v3m85 -35v3m6 -11v3m55 74v3m12 -8v5m13 0v3m6 -6v6m12 6v3m6 0v3m6 -12v3m0 3v3m0 3v2m12 -8v6m92 -43v2m12 9v3m6 -12v3"/>
<path stroke="#ff5100" stroke-width="7" d="M491.5 1372v3m238 48v6m171 37v3m0 3v3"/>
<path stroke="#ff6100" stroke-width="6" d="M95 1294v3m18 0v6m6 -9v6m0 3v3m6 -3v6m6 -12v3m0 6v8m122 15v3m80 3v2m6 0v3m0 9v1m6 -18v8m0 3v3m6 -3v3m6 -9v3m0 3v6m6 0v3m6 -3v6m31 -9v3m0 6v3m73 5v3m25 6v3m6 -3v3m24 -3v3m6 -3v6m61 11v3m0 3v3m128 34v1m13 -7v3m12 -8v2m79 -34v3m0 3v5m6 -11v3m49 69v8m0 3v2m12 -16v6m0 5v3m13 0v3m6 -3v3m6 -9v6m6 3v3m0 3v3m6 -12v9m12 3v2m92 -37v3m6 -14v3m6 -3v5m6 -2v2m0 3v6m6 -11v2"/>
<path stroke="#ff6100" stroke-width="7" d="M259.5 1320v9m470 92v2m171 46v3"/>
<path stroke="#ff7100" stroke-width="6" d="M89 1286v3m0 5v3m6 -8v3m6 2v6m6 -8v14m6 -12v3m6 9v5m6 -14v6m208 34v9m6 -11v2m12 9v3m6 0v3m12 -6v3m25 -6v3m6 3v6m0 3v2m6 -5v3m12 2v3m19 0v3m12 0v3m6 -3v3m6 -3v3m61 0v3m12 6v5m31 -5v2m30 3v6m6 6v3m122 31v3m13 -14v8m0 3v3m6 -14v19m6 -14v3m73 -43v6m0 9v2m6 -14v3m0 11v6m6 -14v3m43 69v2m12 -2v8m6 0v3m13 -14v3m6 11v3m6 -6v3m0 3v3m6 -9v3m18 11v3m86 -43v3m6 -11v8m18 -3v3"/>
<path stroke="#ff7100" stroke-width="7" d="M82.5 1289v5m55 6v6m293 -84v4m299 192v3"/>
<path stroke="#ff8000" stroke-width="6" d="M101 1300v6m12 -14v2m0 9v3m140 20v3m13 0v3m6 -3v6m6 -3v3m43 0v2m6 3v7m6 -1v2m6 -19v6m30 2v3m0 3v3m13 -3v15m6 -18v6m6 0v12m6 5v1m6 -12v3m0 3v5m6 -5v2m12 0v3m43 3v3m37 6v3m36 2v3m19 3v3m42 3v3m31 -75v6m85 100v3m6 -8v8m25 -3v3m73 -40v9m12 -3v3m43 63v3m0 2v6m31 3v3m12 -3v3m6 -9v3m24 12v8m6 -11v8m74 -51v8m6 -11v3m0 8v3"/>
<path stroke="#ff8000" stroke-width="7" d="M137.5 1306v6m238 28v6m55 17v3"/>
<path stroke="#ff8d00" stroke-width="6" d="M95 1297v3m67 6v3m104 17v3m12 0v3m43 5v3m6 -5v5m6 -11v3m36 8v3m13 -3v3m6 3v6m6 6v2m12 -11v3m18 -131v2m19 137v3m55 12v3m18 -9v3m24 3v5m19 -2v2m0 3v3m73 -69v3m6 3v3m6 0v3m73 89v8m19 -11v3m12 11v9m6 -17v5m0 6v6m67 -35v3m6 0v3m6 -9v6m6 -14v6m31 66v6m6 -12v3m12 -6v3m0 3v3m67 25v3m13 3v3"/>
<path stroke="#ff8d00" stroke-width="7" d="M314.5 1332v5m61 9v9m177 25v6m55 6v8m122 15v3m232 66v2m61 -43v6"/>
<path stroke="#ff9b00" stroke-width="6" d="M52 1148v3m24 141v2m13 6v3m6 -3v3m30 -9v3m19 12v6m12 -12v9m6 -3v6m85 11v3m6 -9v6m13 -3v3m6 0v3m24 3v3m25 5v6m12 -14v3m55 20v3m24 -3v3m0 2v3m6 0v3m6 -143v3m13 0v3m0 137v3m12 -6v3m6 -3v3m6 -3v3m85 14v6m13 -6v3m42 3v6m13 3v3m12 -86v3m0 2v6m6 -8v2m6 -2v8m12 3v3m73 89v3m31 5v6m61 -43v9m0 2v3m6 3v3m12 -11v2m0 6v6m6 -23v3m0 6v5m31 58v3m12 -6v3m6 -3v3m80 28v6m61 -63v6"/>
<path stroke="#ff9b00" stroke-width="7" d="M82.5 1286v3m348 -63v5m122 144v5m409 106v6m61 -51v2"/>
<path stroke="#ffa900" stroke-width="6" d="M58 1149v2m18 138v3m13 11v2m55 -2v6m12 3v3m6 0v2m128 15v5m6 -2v2m6 -5v5m6 -5v3m80 17v3m30 3v2m6 -2v2m0 3v3m13 -141v1m0 134v3m6 3v3m24 -6v3m73 17v3m6 -11v5m68 18v2m6 -83v3m6 -5v2m55 -44v1m30 155v2m12 -16v3m55 -58v6m31 32v2m6 -17v6m0 9v2m24 3v3m31 52v3m12 -6v3m31 6v2m55 20v3m6 3v6"/>
<path stroke="#ffa900" stroke-width="7" d="M314.5 1337v3m116 -109v3m0 132v3m238 -86v3m293 195v3m0 8v6m61 -60v3"/>
<path stroke="#ffb900" stroke-width="6" d="M76 1229v2m13 -76v5m0 137v3m6 -117v3m6 -6v6m43 114v3m6 0v3m0 3v3m6 3v2m12 -11v9m79 8v3m25 -3v3m12 3v8m6 -8v3m18 3v2m55 -2v2m43 9v3m18 -123v3m13 0v5m183 86v3m0 72v3m42 -69v3m19 -58v3m0 6v3m30 140v3m49 -54v5m0 43v9m6 -66v3m6 -14v3m0 8v3m6 -3v3m25 23v8m6 -5v3m30 8v3m116 -61v1m13 135v2m6 3v3m0 6v3m42 -66v6"/>
<path stroke="#ffb900" stroke-width="7" d="M82.5 1153v1m0 140v6m348 -66v6m0 120v3m61 12v3m116 11v3m61 -63v3m177 63v8"/>
<path stroke="#ffc900" stroke-width="3" d="M47.5 1148v3"/>
<path stroke="#ffc900" stroke-width="6" d="M52 1151v3m6 -3v3m12 138v2m6 -68v3m0 2v3m19 -78v4m0 20v3m18 0v8m18 46v3m19 66v3m0 3v3m6 2v3m91 0v3m37 -60v3m18 -26v6m6 0v8m0 83v3m19 -66v9m36 9v8m6 -6v6m55 -71v2m13 3v3m6 -11v5m12 -4v2m116 43v2m43 118v3m30 -80v2m0 6v3m12 3v3m19 -60v5m42 138v3m37 -38v3m6 52v3m6 -86v6m0 14v3m6 -15v6m0 12v2m6 -22v2m0 9v11m13 15v3m6 -6v3m6 -9v6m6 -12v15m12 -83v3m18 94v6m25 49v3m24 -140v5m6 0v3m55 10v4m0 17v6m0 66v3m6 -92v3m25 137v6m6 -57v3m30 -12v6m0 6v5"/>
<path stroke="#ffc900" stroke-width="7" d="M82.5 1154v3m232 86v6m293 137v3m61 -119v2m0 8v3m116 77v3m0 3v3m61 23v3m0 8v3m55 -74v3m122 97v6"/>
<path stroke="#ffda00" stroke-width="3" d="M47.5 1147v1"/>
<path stroke="#ffda00" stroke-width="6" d="M52 1154v3m12 -6v3m0 132v3m6 -3v6m6 -69v3m0 8v6m13 -60v3m6 -12v9m0 6v2m6 -2v2m6 -8v3m0 3v5m6 -11v3m0 8v3m18 40v3m0 57v3m19 -48v5m18 61v2m6 -5v3m104 11v3m6 -69v3m0 3v3m12 -3v3m6 -23v5m6 -8v3m0 8v3m0 83v3m13 -11v3m6 -52v3m0 43v6m12 -135v6m6 5v3m12 -6v3m0 78v3m6 -3v3m6 0v2m43 58v3m6 -135v6m6 5v6m13 0v3m12 -11v2m6 -2v2m6 -4v4m0 129v3m6 -134v5m55 89v3m6 -14v3m12 -69v3m25 20v8m6 -8v3m0 2v3m12 -5v2m0 52v3m0 3v3m6 -12v3m25 -9v3m0 69v3m6 -80v5m0 81v2m24 -83v6m6 -6v6m25 9v3m6 -58v6m0 92v3m18 -103v5m6 -3v3m0 141v5m6 -11v3m0 5v3m37 -77v3m0 23v3m0 40v3m6 -72v3m0 23v5m0 3v3m6 -96v4m0 58v8m0 3v3m0 6v3m0 5v3m0 3v3m0 43v3m6 -75v6m0 3v3m0 3v5m0 46v6m0 3v3m6 -145v4m0 61v2m0 9v9m0 2v3m6 -28v3m13 17v3m6 -78v3m0 83v6m0 3v3m18 -91v5m0 91v3m6 -83v6m43 132v3m12 -9v3m6 -118v3m6 -8v5m6 -11v3m13 0v5m24 98v3m18 -75v3m0 69v3m0 3v2m6 -74v3m0 51v12m0 8v3m13 -17v6m6 0v3m0 48v3m6 6v3"/>
<path stroke="#ffda00" stroke-width="7" d="M82.5 1300v3m55 -66v3m177 -46v3m0 52v8m0 83v3m354 -71v2m232 56v2m0 5v3m61 83v3m0 3v9"/>
<path stroke="#ffef00" stroke-width="3" d="M47.5 1151v6m0 83v3"/>
<path stroke="#ffef00" stroke-width="6" d="M52 1157v3m0 123v3m6 0v3m6 -139v1m0 138v3m6 -58v9m6 -3v3m13 -72v9m0 3v5m12 -17v3m0 3v3m6 -6v6m0 3v3m18 -23v5m0 66v3m6 3v3m13 -72v3m6 72v3m18 68v3m18 -63v3m25 -17v3m24 -40v2m6 0v3m0 112v6m6 -55v3m37 -20v3m6 -3v3m0 6v3m6 -26v3m0 3v2m0 3v9m0 6v3m6 -21v6m0 80v6m6 -150v1m13 75v11m0 3v3m0 40v6m6 -46v3m6 -90v4m0 71v6m6 9v3m6 -90v1m0 5v3m6 3v3m0 77v3m6 -91v2m0 84v2m6 -8v3m6 0v3m13 0v2m42 -57v3m25 -13v2m49 8v3m6 0v3m12 72v5m6 0v3m6 -8v5m0 3v3m12 -83v3m6 -2v5m25 28v3m6 -8v2m0 3v3m6 -6v3m0 46v3m0 3v3m0 3v2m6 -17v3m12 -46v3m13 29v8m6 75v3m30 -72v3m12 -57v5m13 6v6m12 -13v4m0 86v9m6 -98v3m0 78v3m0 5v6m0 3v3m6 -26v3m6 6v5m6 -85v5m0 57v3m0 75v5m25 -51v3m6 -3v3m6 -23v3m0 17v3m0 8v3m6 -97v5m0 58v3m6 5v3m0 3v6m0 11v3m6 -94v5m0 61v2m0 23v3m0 46v3m6 -52v3m6 -89v3m0 80v3m0 9v3m13 -95v3m0 75v8m0 6v3m6 -92v3m0 74v6m6 -84v4m6 -2v5m12 0v3m0 5v6m6 -13v5m0 11v6m6 -17v2m31 141v3m12 -9v3m6 -112v3m6 -14v3m0 5v3m31 121v2m6 -48v3m6 -80v2m0 69v9m0 8v6m12 -92v3m6 3v3m0 74v3m0 3v3m6 -69v3m0 3v3m0 46v2m0 12v8m13 -88v3m0 68v3m0 9v5m6 -88v3m0 74v3m6 -6v3m0 20v3m0 43v6m6 -69v3m0 8v6m6 -11v2m24 -25v3m0 71v3"/>
<path stroke="#ffef00" stroke-width="7" d="M82.5 1231v3m55 6v6m122 23v8m55 -20v6m0 6v3m0 71v3m61 -57v3m0 5v6m55 -63v3m0 51v3m177 -20v3m0 37v3m0 17v3m61 -63v3m116 78v2m0 3v3m0 3v14m0 9v3m116 -55v3m0 60v3m0 9v3m61 8v3m0 9v3m61 54v6"/>
<path stroke="#f9fc00" stroke-width="3" d="M47.5 1160v3m0 74v3"/>
<path stroke="#f9fc00" stroke-width="6" d="M52 1160v6m0 120v6m6 -126v2m0 121v3m12 -141v3m0 69v3m0 3v5m0 9v3m6 -3v3m0 51v3m13 -140v3m0 86v2m6 -91v6m6 8v3m12 0v3m6 6v8m6 43v6m6 0v3m13 -78v3m0 66v3m0 3v8m6 -81v4m0 66v6m6 -75v3m0 69v3m0 5v3m6 -82v2m0 69v3m6 -73v1m0 66v3m6 0v8m0 55v6m0 5v3m37 -74v5m6 -14v3m0 3v3m6 77v3m6 -3v6m6 -3v3m6 -57v2m6 -68v8m0 55v5m6 -68v8m0 3v3m0 49v8m19 -40v3m0 3v6m6 14v3m6 -17v2m0 18v3m6 -21v6m0 3v6m0 60v3m6 -89v3m0 3v3m0 2v3m0 18v2m0 55v3m0 5v3m12 -146v3m0 60v3m13 -65v5m0 60v3m0 17v3m0 3v3m6 -17v2m6 6v3m0 3v6m6 -12v9m6 -86v3m0 74v6m6 -82v4m0 75v3m0 3v3m6 -81v3m0 3v3m0 66v3m0 5v3m6 -91v5m6 75v3m13 -78v3m0 80v9m6 -11v2m0 3v3m6 0v3m6 -6v6m0 12v2m12 -5v8m0 43v3m6 -140v8m0 83v3m6 -3v3m13 -26v3m6 -66v6m0 3v3m12 -12v3m0 6v3m6 -12v12m12 -12v6m6 -3v3m0 69v3m19 -74v2m12 132v3m6 -109v3m0 46v3m0 5v3m6 -23v12m0 3v5m6 -11v3m0 8v3m12 -74v2m25 69v3m6 -8v2m6 -43v3m0 3v3m0 32v2m0 9v6m6 -12v3m6 -49v3m0 3v3m0 3v3m0 28v3m0 6v3m6 -55v6m0 43v3m0 3v3m0 5v6m6 -8v8m19 -20v3m24 29v3m12 -89v3m0 48v3m6 29v6m13 -81v3m0 72v3m6 8v3m0 3v6m6 -89v3m0 71v3m0 9v6m6 -101v3m0 6v3m0 69v5m0 6v3m0 3v3m6 -95v6m0 46v8m0 3v3m0 6v3m0 57v3m6 -81v21m0 5v3m0 49v6m6 -84v3m0 3v3m0 3v9m6 -15v6m0 63v3m19 -130v1m0 83v3m6 -20v3m0 23v2m6 -2v5m6 -28v3m0 14v3m12 5v3m0 3v3m0 49v3m6 -144v3m0 86v3m6 -95v3m13 1v2m0 86v6m6 -14v2m6 3v3m6 14v6m6 -94v3m12 5v6m6 -14v3m31 140v3m18 -132v6m0 5v3m0 6v3m12 -14v5m0 6v3m0 66v3m0 5v3m25 -17v3m6 0v6m0 5v3m6 -83v3m0 75v2m0 3v3m6 -87v1m0 78v2m0 9v9m6 -95v3m0 9v2m0 78v5m6 -91v6m0 2v3m0 55v8m0 3v3m6 -80v6m0 5v3m13 -14v3m0 68v3m0 17v3m6 -93v2m0 71v6m0 6v3m6 -9v9m0 5v6m6 -9v3m0 6v3m0 37v3m6 -57v3m6 -81v3m6 72v6m6 -12v3m0 6v5m6 -22v8m0 66v3m19 -77v2"/>
<path stroke="#f9fc00" stroke-width="7" d="M82.5 1229v2m0 3v6m0 63v1m55 -58v3m122 17v3m55 -6v3m0 63v3m61 -40v5m55 -5v2m0 3v3m0 17v6m61 -89v3m116 43v3m0 49v5m0 3v6m61 -72v3m0 55v3m0 2v3m61 -34v6m55 -16v1m0 86v9m61 14v6m55 -77v2m0 6v3m0 52v5m0 3v3m0 3v3m0 3v3m0 2v3m61 -74v3m0 86v2m61 49v3m0 6v3"/>
<path stroke="#d8ea00" stroke-width="3" d="M47.5 1157v3m0 3v3m0 5v3m0 60v3"/>
<path stroke="#d8ea00" stroke-width="6" d="M58 1154v12m0 68v6m6 -86v6m0 6v2m0 52v6m0 14v6m6 -20v3m6 -78v6m0 89v3m0 37v3m0 5v3m0 3v3m13 -140v8m0 66v3m0 6v3m6 -81v3m0 17v3m6 -34v3m6 91v6m6 -97v6m6 -3v3m0 11v9m0 45v3m6 9v3m19 -6v3m12 -3v3m0 3v5m6 -11v3m0 3v5m6 -20v9m0 3v6m6 66v2m6 -140v3m0 66v3m0 5v6m6 -20v9m0 2v6m6 0v3m0 3v6m13 -61v6m0 29v6m6 -41v3m0 26v6m6 -37v2m0 32v3m0 14v3m6 -54v2m0 32v11m6 -48v5m0 21v2m0 41v2m6 -66v3m0 18v2m0 32v11m0 49v3m6 -120v2m0 3v6m0 46v9m6 -55v9m0 37v6m6 -55v3m0 14v3m0 32v3m19 -38v6m0 3v3m0 6v2m0 15v3m0 3v5m6 -28v11m0 6v6m6 -82v1m0 49v9m0 2v6m0 15v5m0 49v3m6 -60v5m0 63v3m6 -77v3m0 8v3m0 66v1m6 -151v1m0 63v3m0 6v3m0 3v2m0 55v3m6 -72v3m13 -20v6m0 5v3m0 6v6m6 -72v6m6 3v2m0 64v2m0 9v3m6 -80v5m0 66v3m0 12v2m6 -88v2m0 66v6m0 6v3m0 3v2m6 -83v3m0 55v3m0 8v3m0 3v3m0 3v2m6 -80v3m6 66v3m6 -78v3m13 3v3m0 72v3m6 -80v2m0 75v3m0 2v3m0 3v6m6 -14v8m0 3v3m6 -14v5m0 6v3m0 6v3m6 -9v3m0 3v5m6 -37v3m6 -49v6m0 49v3m0 23v2m0 3v3m6 -34v3m0 2v3m0 3v3m0 9v5m0 3v3m13 -83v3m0 46v5m0 3v3m6 -63v3m0 3v3m0 51v3m0 20v6m6 -95v6m0 6v3m6 -12v6m0 3v3m6 -3v3m12 51v9m6 -74v2m19 6v3m6 -6v3m6 -2v5m0 11v3m6 -18v1m0 20v3m0 3v3m0 37v6m6 0v3m6 -9v3m6 17v3m6 -78v3m0 3v9m6 -6v9m0 3v2m13 -8v11m6 46v3m6 -9v12m6 -17v3m0 2v9m0 6v3m6 -58v3m0 37v3m0 17v3m6 -63v3m0 3v3m0 43v6m6 -52v3m0 3v3m0 34v3m0 6v2m6 -77v3m0 17v3m0 32v2m0 26v3m13 -20v6m6 -6v6m0 57v3m0 8v3m12 -74v3m6 0v3m0 2v3m0 3v3m6 -11v8m0 9v3m6 0v5m6 -86v3m0 40v3m0 38v2m6 -86v6m0 60v3m0 6v3m13 -17v5m0 3v6m6 3v3m0 3v5m0 3v3m6 -89v6m0 69v5m6 -80v3m0 52v5m0 9v6m6 -75v3m0 60v3m0 6v3m0 5v6m0 46v3m0 3v3m6 -141v3m6 63v3m0 63v3m6 -135v3m0 57v3m0 6v9m19 -72v3m0 17v6m0 31v6m6 -3v3m0 6v3m0 11v3m0 8v3m6 -95v1m0 80v3m6 -14v2m0 3v9m6 -78v3m6 0v3m0 89v3m6 -3v3m6 -9v3m0 3v3m19 43v3m0 8v3m6 -143v3m0 71v3m6 -74v3m6 11v6m6 -14v2m6 -2v5m6 12v3m19 65v3m0 49v3m0 3v3m6 -63v8m0 55v3m6 -52v3m6 34v3m0 3v3m6 -98v6m6 -17v3m6 -9v6m0 54v3m6 -66v6m0 3v3m0 43v5m0 9v6m0 3v5m13 -86v9m0 54v15m6 -82v4m6 -1v1m0 75v3m6 -75v3m0 78v2m0 6v3m0 3v3m6 -15v3m6 -83v3m0 69v6m0 2v9m6 -77v3m0 2v3m0 52v3m0 8v12m6 -80v2m6 -2v5m13 72v3m0 8v6m6 -11v5m0 3v3m6 -9v3m6 -14v3m0 6v2m0 12v3m0 37v6m6 -66v3m0 14v6m12 -95v3m0 52v5m0 18v2m6 -20v3m0 6v6m6 74v3m13 -20v6m6 -78v6m6 0v3m0 3v3m6 -6v3m12 -6v3"/>
<path stroke="#d8ea00" stroke-width="7" d="M82.5 1157v3m0 8v12m0 43v6m0 11v3m0 3v3m55 -15v3m0 12v2m0 6v6m0 34v3m122 -74v5m0 32v3m55 0v3m0 3v5m0 49v3m116 -40v3m0 8v3m0 12v2m0 6v3m61 -89v6m61 3v3m0 23v2m55 35v6m0 14v3m61 3v2m0 3v6m0 6v6m61 -58v6m0 6v3m0 37v3m55 -58v3m61 112v3m55 -69v3m0 60v3m0 9v2m0 3v3m61 -79v2m0 14v9m0 68v6"/>
<path stroke="#b0d500" stroke-width="3" d="M47.5 1168v3m0 55v8m0 49v3m0 3v3"/>
<path stroke="#b0d500" stroke-width="6" d="M52 1171v3m0 49v8m0 3v6m6 -9v3m6 -74v6m0 60v3m0 8v3m6 -74v2m0 52v3m6 -60v5m13 58v3m0 2v6m0 6v3m6 -80v2m0 81v2m12 -94v6m0 86v2m12 -85v2m0 75v3m6 -60v5m0 38v2m0 15v3m6 -18v3m0 12v3m0 5v9m13 -29v3m6 0v3m12 -66v3m0 57v6m0 11v6m6 -83v3m0 72v2m6 -76v5m0 60v3m6 -67v1m0 6v3m0 51v9m0 3v5m0 58v5m6 -137v3m0 54v3m0 9v2m0 9v14m6 -14v3m0 6v3m13 -66v2m0 32v3m6 -20v3m0 25v3m6 -51v3m0 2v3m0 3v3m0 29v5m0 3v3m0 3v6m0 54v6m6 -123v3m0 2v6m0 17v3m0 3v3m0 11v6m6 -49v12m0 3v3m0 5v3m0 20v9m0 6v3m6 -46v3m0 11v6m0 11v6m0 17v3m6 -66v6m0 3v3m0 31v3m6 -63v3m0 11v3m0 9v3m0 2v3m6 -31v3m0 14v3m0 6v2m0 29v6m13 -79v4m0 43v6m0 26v6m6 -18v12m0 3v3m0 5v3m6 -43v12m0 11v3m0 9v5m6 -86v3m0 83v3m6 -40v11m0 23v6m6 -88v2m0 86v6m0 54v3m6 -149v3m0 63v3m0 6v3m0 5v9m6 -23v3m0 3v11m13 -31v5m0 3v3m6 -52v3m0 35v3m0 17v6m6 -69v3m0 2v3m6 0v3m0 60v3m6 -5v2m0 15v3m6 -84v3m0 63v3m6 -5v8m0 3v3m43 -37v8m0 49v6m6 -18v3m0 6v3m0 3v3m6 -94v5m0 54v3m0 17v3m0 3v9m0 37v3m6 -69v3m0 6v2m0 12v9m0 40v3m6 -118v3m0 49v2m0 3v3m13 20v6m6 -32v3m6 -60v6m0 117v3m6 -3v3m12 -129v3m6 69v3m6 -6v3m0 3v3m6 -79v1m13 9v3m12 5v3m0 3v12m6 -29v3m0 11v6m0 43v3m6 20v3m6 -88v5m0 57v3m0 20v3m0 3v5m6 -95v1m0 8v9m0 3v3m0 57v3m6 -72v3m0 60v6m6 -74v11m0 9v3m19 43v5m6 -40v3m0 29v3m0 14v3m6 3v2m6 -57v3m6 6v3m0 43v5m6 -83v3m0 20v3m0 3v3m0 3v2m0 23v6m0 9v3m0 8v3m6 -88v2m0 23v3m0 37v12m13 -55v3m0 40v3m0 6v5m6 -63v3m0 3v3m6 -3v6m0 37v3m0 6v3m0 2v3m6 -14v3m0 3v11m6 -17v6m0 3v2m0 3v3m0 3v9m6 -26v6m0 11v6m6 -83v3m0 80v3m6 -87v1m0 3v2m0 3v3m0 52v3m0 2v3m0 9v9m6 -78v3m0 49v8m0 3v3m0 12v2m13 -20v3m0 6v3m0 3v8m0 9v3m6 -43v3m0 20v3m6 -81v3m0 52v5m0 15v3m6 -15v6m6 12v2m0 9v3m0 3v3m0 43v2m6 -140v9m6 -9v3m0 72v11m6 -86v3m0 72v2m6 -60v3m0 46v3m0 17v3m13 -72v6m0 6v5m0 32v3m0 14v3m0 6v3m6 -29v3m0 6v2m0 15v3m6 -89v3m0 63v3m0 8v3m6 -75v3m0 63v3m18 63v9m0 3v5m6 -143v3m0 83v3m13 -86v3m0 54v15m6 57v3m0 3v8m12 -123v3m6 -9v6m18 -6v6m0 3v6m6 -17v2m0 15v3m13 8v6m0 46v5m0 3v9m0 9v2m0 32v3m6 -63v3m0 8v3m0 49v3m6 -106v8m0 40v9m0 3v3m6 -60v8m0 86v3m6 -118v3m0 6v3m0 9v2m0 6v3m6 -37v5m0 15v3m0 3v2m6 -11v3m0 46v5m0 3v3m6 -57v3m0 37v3m0 5v9m13 -63v6m0 43v5m0 15v6m6 -78v12m0 51v6m6 -75v3m0 75v3m0 14v3m6 -96v1m0 12v3m0 71v3m0 3v3m18 -83v3m0 63v8m25 -57v6m6 -17v2m0 86v3m6 -94v5m0 81v2m6 -14v3m0 57v3m0 9v3m6 -144v3m0 69v3m0 11v6m6 -86v3m0 52v2m0 32v3m6 -46v3m0 8v3m0 6v3m6 -23v11m0 3v3m6 69v14m13 -83v3m6 -3v6m6 -3v3m6 -9v6m0 3v3m6 -9v12"/>
<path stroke="#b0d500" stroke-width="7" d="M82.5 1160v3m0 80v3m55 -79v1m61 35v8m0 46v3m61 -73v1m0 32v3m0 8v3m0 26v3m55 -66v6m0 74v3m0 6v3m61 -79v4m55 29v3m0 40v3m0 20v6m0 11v6m122 -87v1m0 20v6m55 -13v4m0 20v3m0 29v2m0 29v3m61 -3v6m0 8v3m61 -77v3m0 26v2m0 26v3m0 3v3m0 3v3m0 14v3m171 -26v3m61 3v5m0 15v3m0 37v8m61 -5v3m0 83v8"/>
<path stroke="#7fbd00" stroke-width="3" d="M47.5 1166v2m0 118v3"/>
<path stroke="#7fbd00" stroke-width="6" d="M52 1166v2m0 6v3m0 54v3m0 6v3m6 -69v3m0 46v3m0 14v6m6 -75v3m0 55v2m0 3v3m6 -83v12m6 -9v6m13 66v2m0 9v3m6 -52v3m0 52v3m6 -83v5m0 78v5m12 -23v3m0 15v8m12 -89v3m0 12v3m0 5v3m0 37v3m6 -69v3m0 23v3m0 55v5m13 -80v3m0 74v3m0 9v3m6 -32v3m0 17v6m0 3v3m6 -92v3m0 60v3m6 -11v5m12 -3v9m0 11v6m6 -77v3m0 3v5m0 43v3m0 23v3m0 9v2m0 43v3m6 -143v3m0 135v2m6 -114v3m0 37v14m0 15v2m13 -71v3m0 8v3m0 20v3m0 9v2m6 -45v2m0 3v3m0 6v3m0 3v3m0 2v6m0 17v3m6 -46v3m0 3v6m0 8v6m0 14v3m0 12v3m0 8v3m6 -66v17m0 3v3m0 20v3m0 12v2m6 -54v3m0 3v3m0 5v12m0 3v5m0 9v6m6 -66v3m0 5v6m0 3v6m0 5v9m0 6v11m0 17v3m6 -54v3m0 3v2m0 9v11m0 6v3m0 14v9m0 34v6m6 -132v3m0 9v3m0 23v2m0 26v6m0 14v6m6 -97v8m0 6v3m0 20v6m0 5v3m13 3v6m0 26v8m6 -29v3m6 -65v5m0 83v3m6 -60v3m0 3v3m0 51v3m6 -91v5m0 3v8m0 72v3m6 -89v3m0 3v8m0 69v3m6 -43v3m0 34v3m0 49v3m6 -132v3m0 6v2m0 72v6m0 40v6m19 -129v5m0 41v2m0 12v3m6 -15v6m0 12v3m12 -3v3m6 0v2m0 3v3m6 -17v3m6 -55v9m0 37v9m0 8v9m0 20v3m6 -86v3m0 54v3m0 26v3m13 -6v9m6 -98v3m0 89v6m6 -99v1m0 52v6m0 34v3m6 -63v3m0 8v3m0 17v3m6 -63v3m0 31v6m0 40v6m6 -29v3m0 23v3m6 -26v6m0 3v3m0 8v9m6 -23v6m0 14v3m0 3v3m13 -69v3m0 54v3m0 14v3m0 6v3m0 6v2m6 -48v5m0 6v3m0 14v3m0 6v3m0 29v2m6 -37v6m6 40v3m12 -135v9m0 69v2m6 -25v5m0 12v3m0 3v2m6 -77v3m0 3v3m0 51v3m0 9v3m6 -81v3m0 57v15m13 -63v3m6 -6v6m0 2v3m0 112v3m6 -120v2m0 66v6m6 -74v5m0 46v3m0 20v3m6 -86v6m0 14v9m6 -12v3m0 69v3m0 5v3m6 -97v3m0 20v6m0 31v9m0 3v8m6 -57v6m0 37v6m0 8v6m6 -9v9m19 -66v6m0 8v6m0 29v3m0 11v3m6 -63v3m0 14v3m0 23v3m0 20v3m6 -52v6m0 20v3m6 -29v6m0 26v2m6 -60v3m6 55v2m6 0v6m0 23v3m13 -12v3m6 -63v3m0 52v3m6 -49v3m0 3v2m0 32v6m0 3v2m6 -57v14m0 49v12m6 -75v6m6 -6v3m0 60v3m6 -79v2m0 11v3m0 46v6m0 5v12m6 -72v3m0 43v3m0 6v2m0 6v3m6 0v3m13 20v3m0 3v3m6 -43v5m0 3v3m6 3v3m6 -69v3m0 60v3m6 17v3m0 3v3m0 3v2m0 43v5m6 -62v3m0 43v3m6 -126v3m0 14v3m6 -3v3m0 60v3m6 -90v4m0 17v12m0 25v9m0 3v8m0 3v6m13 -72v3m0 17v6m0 29v6m0 5v3m0 12v2m6 -94v6m0 74v3m6 -23v3m0 9v2m0 3v3m24 69v3m6 5v3m13 -88v2m0 86v3m6 -86v3m12 -46v3m0 112v3m0 14v1m6 -138v2m6 52v6m12 -52v3m6 -9v3m0 126v6m13 -134v5m0 9v11m0 6v6m0 3v2m0 52v6m6 -75v6m0 3v11m0 46v3m0 9v2m0 29v6m6 -106v3m0 43v5m0 20v3m6 -71v3m0 51v6m6 -80v2m0 3v6m0 3v9m6 -3v3m6 54v11m19 -71v6m0 63v8m6 -89v3m0 12v3m0 54v3m0 6v8m6 -83v14m0 61v5m0 3v3m6 -89v9m0 3v5m6 -2v2m0 3v3m6 -20v17m6 -14v3m0 11v6m6 3v3m19 -12v6m0 49v3m6 -61v3m0 6v9m0 40v3m6 -3v3m0 5v3m6 -72v1m0 63v2m6 -65v2m0 3v6m0 74v3m0 46v3m6 -132v3m0 3v3m0 37v3m0 6v3m0 2v3m0 9v3m0 3v2m0 6v6m0 3v3m6 -100v2m0 3v3m0 40v3m0 3v3m0 8v6m0 23v3m12 -46v6m13 5v6m0 72v3m6 -101v3m6 17v6m12 -3v3m0 83v9m6 -89v9m0 80v3"/>
<path stroke="#7fbd00" stroke-width="7" d="M82.5 1163v5m0 15v3m55 -18v3m0 83v3m61 -57v3m0 40v8m0 9v3m61 -55v3m0 3v6m0 3v3m0 31v3m55 -57v3m0 34v3m0 37v6m61 -72v6m0 37v6m0 40v6m55 -6v3m0 26v5m122 -88v2m0 9v3m55 0v14m0 46v6m61 -43v3m0 69v2m61 -77v3m0 31v3m0 26v3m0 9v2m0 3v3m0 3v3m55 -72v3m0 135v5m61 9v6m55 -106v3m0 37v6m61 -38v6m61 55v2"/>
<path stroke="#58a800" stroke-width="3" d="M47.5 1220v6m0 20v5"/>
<path stroke="#58a800" stroke-width="6" d="M52 1168v3m0 49v3m6 -55v6m0 46v3m0 3v5m6 -63v3m0 3v6m0 51v3m6 -57v3m0 103v3m6 -118v12m13 8v6m6 49v3m0 5v3m6 -66v9m0 49v3m6 -86v11m0 72v3m6 -55v6m0 46v3m6 -78v6m0 63v3m0 11v6m6 -89v3m0 6v3m0 71v6m6 -74v5m0 3v3m13 57v9m6 -89v9m0 46v5m0 26v3m6 -86v3m0 20v3m12 48v3m6 3v3m6 -57v8m0 20v3m0 29v9m0 37v3m6 -115v6m0 5v3m0 23v3m0 80v3m6 -123v6m0 3v5m0 29v3m13 -43v3m0 14v6m0 3v3m0 5v3m0 14v3m6 -51v3m0 8v6m0 9v2m0 26v6m6 -40v8m0 38v3m0 2v3m6 -17v12m6 -26v3m0 25v6m6 -80v3m0 14v3m0 57v3m6 -86v3m0 6v3m0 25v9m0 14v3m6 -71v2m0 6v6m0 43v3m0 37v3m6 -92v6m0 57v3m13 -40v3m0 8v3m0 12v3m0 5v12m6 -78v6m0 26v3m0 6v2m6 -20v3m0 20v3m6 -43v12m0 17v3m0 114v2m6 -119v14m0 46v3m6 -89v3m0 29v5m0 3v3m0 86v3m6 -95v3m0 26v3m0 57v3m6 -126v6m0 60v3m13 -69v3m6 48v9m6 -14v5m0 6v3m0 6v3m6 3v2m6 -31v3m12 0v3m0 17v3m0 11v3m6 -34v5m0 15v5m0 26v3m6 -92v9m0 29v2m0 23v3m0 3v3m0 17v6m13 -89v3m0 31v6m0 9v3m6 -12v3m0 52v3m6 -101v3m0 29v3m0 5v12m0 6v5m0 35v3m6 -55v12m0 2v3m6 -61v1m0 32v2m0 6v6m0 3v8m6 -51v8m0 3v3m0 20v9m0 6v2m0 9v6m6 -49v3m0 31v3m0 17v3m6 -54v3m0 60v3m13 -23v3m0 23v5m0 12v6m6 -89v3m0 37v3m0 14v3m6 -60v3m0 40v5m0 6v3m0 14v6m6 -77v3m0 37v8m0 18v3m6 -23v2m0 9v3m6 -9v6m0 9v3m6 -78v12m0 5v3m0 55v3m0 57v3m6 -138v3m0 3v3m0 23v3m0 14v14m6 -51v2m0 41v2m0 15v3m13 -63v5m6 -5v2m0 12v3m0 3v3m6 -26v3m0 66v2m12 -71v14m6 -6v3m0 3v12m6 -23v2m0 9v3m0 49v3m0 14v3m6 -17v2m6 0v3m13 -5v14m6 -46v3m0 23v3m0 17v6m12 2v3m0 55v3m6 -129v3m0 40v3m0 25v3m6 -88v2m0 58v2m0 23v3m6 -83v9m6 -6v14m0 9v8m0 18v3m13 -41v6m0 3v3m0 34v3m0 17v3m0 3v3m6 -66v6m0 46v2m6 -48v3m0 2v6m0 40v6m0 52v5m6 -109v3m6 -20v3m0 6v3m6 -6v6m6 -12v3m0 3v3m0 49v5m6 -17v3m0 14v3m0 3v3m19 14v6m6 -29v3m0 3v6m6 -15v6m0 3v3m6 29v2m0 29v12m6 -106v2m6 58v5m6 -94v3m0 14v3m0 3v8m0 63v3m6 -97v8m0 15v3m0 48v3m6 -66v3m0 15v2m0 43v3m13 -40v3m0 32v5m0 17v3m6 -77v3m0 51v6m6 -74v2m0 66v3m0 23v3m30 40v6m19 -75v3m0 3v6m6 28v3m0 38v2m6 -5v5m6 -2v2m0 3v3m6 -74v8m12 3v3m0 57v3m6 -123v6m0 120v6m13 -103v3m0 60v3m6 -84v6m0 6v3m0 60v9m6 -78v9m0 97v3m6 -109v6m0 3v3m0 60v3m6 -93v4m0 3v3m0 65v3m6 -43v9m0 34v3m6 -17v3m0 17v3m0 11v3m19 3v3m6 -95v3m0 63v3m0 9v6m0 8v3m6 -89v3m0 57v6m0 9v3m0 5v3m12 -83v6m0 3v3m0 2v3m0 43v6m6 -49v3m0 40v3m12 -34v3m0 5v3m6 -11v8m0 32v6m13 -63v5m0 12v3m0 37v3m0 3v2m6 -60v6m0 52v5m6 -66v3m0 9v3m0 46v5m6 -68v2m0 3v12m0 48v6m6 -23v6m0 9v8m0 29v3m0 34v3m6 -126v3m0 37v6m0 20v3m0 20v3m6 -95v3m0 71v3m0 6v3m0 3v6m6 -101v3m0 123v6m19 -92v9m0 9v2m0 81v3m6 -109v5m0 3v6m0 86v3m18 0v3m0 3v5m6 -3v12"/>
<path stroke="#58a800" stroke-width="7" d="M82.5 1180v3m0 66v2m55 0v3m61 -43v3m0 23v6m0 8v6m61 -69v3m0 3v6m0 6v2m0 3v3m0 20v3m0 3v6m0 8v3m55 -51v2m0 29v3m61 -20v3m0 40v6m0 3v2m55 9v3m0 20v3m61 -66v3m0 40v3m61 -38v9m0 3v3m0 51v6m55 -37v3m0 31v3m122 -29v6m0 20v6m0 34v3m0 3v3m55 63v6m61 -122v4m0 12v5m0 112v3m0 6v3m116 -49v3m61 8v9"/>
<path stroke="#3e9900" stroke-width="3" d="M47.5 1217v3m0 23v3"/>
<path stroke="#3e9900" stroke-width="6" d="M52 1217v3m12 63v3m6 -112v3m0 40v3m0 26v3m0 45v3m6 -48v2m25 -91v6m0 77v3m6 -52v3m0 46v3m6 -80v11m0 57v3m6 -69v3m0 23v6m0 29v2m0 3v6m0 6v8m6 -80v6m0 69v5m6 -86v6m0 6v3m13 -6v3m0 3v3m0 45v3m6 -51v3m0 40v3m0 37v3m6 -72v3m0 3v3m0 48v6m6 -83v3m0 26v2m0 52v3m6 -9v3m6 -77v6m6 5v3m0 3v6m6 -20v8m0 12v5m6 3v3m0 23v3m0 75v2m13 -94v3m0 5v3m6 -34v3m6 69v2m0 6v3m6 -9v9m6 -83v3m0 77v3m0 49v1m12 -142v3m0 3v6m0 48v3m6 -20v9m0 3v3m0 2v6m6 -20v3m13 -49v6m0 26v3m0 23v2m6 -34v3m0 6v3m6 -15v3m6 -9v12m0 9v5m0 3v3m6 -23v6m0 14v3m6 -14v3m0 5v3m0 86v3m6 -129v6m0 28v3m6 -8v3m0 2v3m0 3v6m13 -40v5m6 52v3m0 26v3m6 -81v3m0 26v3m0 17v6m6 3v3m6 -52v3m6 23v3m0 14v6m6 -9v3m0 6v3m6 -18v3m0 9v3m6 -18v3m0 6v12m0 11v3m13 -66v3m0 34v9m0 3v5m6 -31v3m0 8v3m0 3v9m0 5v3m6 -28v5m0 55v3m6 -95v3m0 52v2m6 -11v3m0 8v6m6 -49v3m0 3v3m0 11v3m0 12v6m0 17v3m6 -20v2m6 3v6m0 40v3m0 6v5m13 -91v3m0 54v3m0 3v3m0 25v3m6 -57v3m0 23v3m0 3v2m0 12v8m6 -51v3m0 5v3m0 6v3m0 6v3m6 -6v3m6 -66v3m0 40v3m0 2v9m0 66v3m6 -83v8m0 6v9m0 60v3m6 -124v3m0 3v3m0 6v6m0 2v9m0 3v6m6 -43v2m0 15v3m0 3v5m0 3v6m0 29v5m6 -74v3m0 28v9m0 3v3m0 20v8m13 -63v9m0 6v2m0 3v3m6 -26v6m0 12v5m0 3v9m0 26v2m0 61v2m6 -137v3m0 77v3m0 52v2m6 -137v6m0 20v8m6 52v3m6 -86v3m0 91v3m6 -97v3m0 83v5m6 -31v3m6 0v8m13 -63v3m0 52v6m6 20v2m6 -74v3m0 37v3m6 -37v3m0 120v3m0 3v2m6 -146v3m0 9v3m0 126v5m6 -131v5m0 38v3m6 -46v5m19 -14v3m0 80v3m6 -57v3m0 45v6m6 -66v3m0 69v3m6 48v3m6 -114v8m6 -8v8m6 -25v5m0 17v6m6 -17v6m6 34v6m19 -43v6m6 51v3m0 66v9m6 0v2m6 -114v6m6 -12v3m0 9v2m0 52v6m6 -75v3m0 14v3m0 58v2m6 -80v6m0 6v3m0 51v3m6 -75v3m13 -8v3m0 2v3m6 -5v2m0 15v3m0 8v3m0 60v6m6 0v3m6 -6v3m24 52v2m13 -8v3m0 5v3m6 -74v3m6 60v6m0 2v9m6 -137v5m0 43v6m0 77v3m6 -83v6m0 66v3m0 2v3m0 3v3m12 -83v11m0 61v2m6 -2v5m0 3v3m6 -132v6m0 54v3m0 3v3m19 -57v5m6 -2v5m0 112v3m6 -118v6m0 6v3m0 48v9m0 9v3m6 -26v3m6 8v3m6 -57v3m0 5v6m0 26v6m25 -40v2m0 38v5m6 -63v3m0 26v6m6 -15v3m0 43v6m0 54v3m6 -117v3m0 48v3m6 -40v3m0 40v3m6 -6v3m6 -31v5m0 26v6m6 -3v3m25 -52v6m0 6v8m6 -23v3m0 12v3m6 -9v3m0 57v3m0 66v3m6 -126v3m0 54v3m0 11v3m6 0v3m0 12v2m0 20v3m0 3v3m6 -52v3m0 52v11m0 3v1m6 -147v3m13 31v3m0 46v3m0 55v2m6 -97v3m0 80v3m0 3v6m18 -3v3m6 0v2"/>
<path stroke="#3e9900" stroke-width="7" d="M137.5 1263v3m61 -52v6m0 14v3m0 32v3m61 -72v6m0 31v3m0 6v3m0 2v3m55 -20v3m61 14v6m0 12v3m0 2v6m0 3v6m116 -43v5m0 21v5m0 3v6m0 3v3m61 17v8m0 6v6m55 71v3m61 -114v3m61 -3v5m0 84v2m116 -60v3m0 6v3m0 48v3m0 6v3m177 8v3m0 3v3m0 6v3"/>
<path stroke="#258a00" stroke-width="6" d="M52 1249v2m18 -83v6m0 123v3m6 -117v3m0 34v3m13 0v3m6 5v12m0 43v3m6 -52v6m6 -52v3m0 43v6m6 0v3m6 -46v3m6 -6v3m6 -26v3m0 6v3m0 37v3m13 -46v3m0 3v2m0 38v5m6 -45v2m0 12v3m6 -23v8m0 41v8m0 23v9m6 -89v6m0 71v3m6 -83v3m0 6v5m6 -3v3m0 3v3m0 11v3m0 58v3m6 -78v3m6 -6v3m6 40v3m13 -8v2m0 23v9m0 6v8m0 43v3m6 -60v11m0 3v3m0 37v6m6 -34v3m0 34v3m6 0v3m6 -135v3m0 117v6m0 6v3m6 -135v3m6 -14v2m6 -3v1m0 2v3m0 58v2m19 -54v3m0 6v5m0 3v6m0 6v5m0 20v3m0 83v1m6 -144v6m0 14v3m0 6v3m0 111v3m6 -146v9m0 14v6m0 8v3m0 101v2m6 -131v2m0 26v3m0 100v3m6 -143v3m0 14v3m6 0v9m0 63v3m6 -89v3m0 14v3m0 6v2m6 -2v2m0 3v3m13 0v6m6 -3v6m6 -3v3m6 20v3m6 -55v6m0 3v3m0 20v3m6 0v5m0 3v3m6 -11v5m0 3v3m0 40v6m12 -52v6m13 -37v3m0 51v6m6 -37v8m0 15v5m12 -60v3m0 23v3m6 -23v3m0 6v2m6 9v3m0 11v3m0 35v2m6 -51v3m0 23v3m6 0v5m0 49v6m0 23v3m13 -75v3m0 72v2m6 -54v3m6 -60v2m0 46v3m0 9v3m0 3v2m0 15v3m6 -52v3m0 8v15m0 8v9m6 -46v3m0 3v3m0 17v6m6 -66v3m0 37v3m6 -29v6m0 6v2m0 9v3m6 -9v3m0 95v3m6 -141v9m0 20v11m0 9v3m13 -35v3m0 12v3m0 2v3m0 3v9m0 8v3m0 66v3m6 -109v3m0 3v3m0 8v3m0 9v3m0 5v3m0 17v6m6 -54v5m0 38v3m6 11v3m6 3v11m6 -94v5m6 83v3m6 -37v3m6 0v3m13 -60v2m0 6v9m0 11v3m0 49v3m0 11v3m6 -86v3m0 37v3m0 3v3m0 31v3m6 -83v3m0 37v3m0 3v3m0 26v5m0 55v3m6 -141v3m0 6v3m0 37v3m6 -46v3m0 134v2m6 -142v9m6 43v3m6 -9v6m0 86v2m13 -128v2m0 12v3m0 111v3m6 -142v5m0 26v2m0 49v3m6 -72v3m0 32v3m0 34v3m0 43v6m6 -121v3m0 17v3m6 -3v6m0 100v3m6 -141v1m0 31v3m6 -14v8m0 109v6m6 -120v3m0 5v6m6 -20v9m0 5v3m0 20v3m13 -37v6m6 0v2m6 115v3m6 -100v3m6 -9v3m6 -9v3m0 3v3m0 3v3m0 94v3m6 -118v3m0 72v3m0 3v3m6 -63v2m0 46v3m0 14v3m6 -97v8m0 23v6m13 -31v2m6 6v6m0 6v3m0 2v3m12 69v3m18 -83v8m6 -2v8m0 115v3m13 -9v3m0 3v5m6 -68v3m6 -15v3m6 -54v3m0 54v6m0 68v3m6 -74v3m6 -9v3m0 69v8m6 -80v3m0 11v3m0 52v6m0 2v6m6 -80v17m0 66v3m6 -86v6m0 3v2m0 3v3m13 -63v9m0 54v9m6 -75v3m6 0v3m0 14v3m0 75v5m6 -97v3m0 6v2m0 61v2m6 -71v3m0 60v3m0 3v2m0 12v6m6 -29v3m0 6v5m0 6v12m6 -66v5m0 6v3m6 -14v5m19 3v6m6 -9v3m0 37v3m6 -40v3m0 37v3m6 -40v3m0 100v3m6 -60v3m6 -6v6m31 -37v2m0 9v3m6 -23v3m0 83v3m6 -80v2m0 32v6m0 40v3m6 -89v8m0 32v9m0 40v3m0 37v3m6 -126v2m0 46v6m0 57v9m6 -126v3m0 114v3m0 3v6m6 -135v3m0 26v3m0 54v6m0 37v3m0 11v3m6 -147v1m0 80v3m0 40v3m13 -94v2m0 12v3m0 94v6m6 -100v6m0 86v8m6 -106v3m0 86v3m6 -3v3m12 0v6"/>
<path stroke="#258a00" stroke-width="7" d="M82.5 1186v2m0 95v3m55 -115v17m0 35v3m0 3v5m61 -14v3m0 40v6m0 3v2m0 41v2m61 -126v3m0 83v3m0 35v5m55 -89v3m61 46v3m0 54v3m116 -86v3m0 12v3m0 5v3m0 12v8m0 3v3m61 -32v3m0 29v3m0 20v3m55 -43v5m122 81v3m0 2v3m55 46v3m61 -109v6m0 49v2m0 3v6m0 26v6m116 -43v8m61 6v8m0 3v3m0 43v3"/>
<path stroke="#118100" stroke-width="6" d="M52 1246v3m12 -3v3m12 -69v3m13 68v3m6 -28v5m6 55v3m6 -60v8m6 0v3m12 -46v3m0 63v3m6 -86v3m0 17v3m0 26v5m13 -43v3m6 -3v12m0 3v3m6 -12v3m6 -11v2m0 12v6m0 57v6m6 -89v6m0 8v14m6 -22v2m0 9v3m0 3v5m0 58v3m12 -75v3m0 112v6m6 -137v5m0 31v9m0 86v3m0 5v3m13 -57v6m0 8v3m0 37v3m6 -46v3m0 12v3m6 -9v6m6 31v3m0 3v3m12 -135v3m0 120v6m0 9v2m6 -146v3m12 49v6m0 8v3m0 20v9m0 29v5m13 -120v6m0 5v3m0 121v2m6 -137v3m0 132v2m6 -134v3m0 2v3m0 12v8m0 49v3m0 3v3m0 51v1m6 -52v3m6 -81v3m0 75v3m0 31v3m6 -115v6m6 0v3m0 3v6m6 -9v6m13 -18v3m12 20v3m0 60v3m6 -57v3m0 6v5m0 9v3m6 -40v3m0 20v2m0 6v3m0 6v3m6 -49v11m0 23v3m0 3v3m6 -43v6m0 28v3m0 40v3m12 -54v3m0 23v2m13 -31v8m0 32v6m6 -66v3m0 3v14m6 -20v8m0 3v9m6 -6v3m0 3v3m6 -23v6m0 2v3m0 12v3m6 -6v3m0 3v2m0 43v3m6 -37v9m0 83v3m6 -109v3m0 17v6m0 65v3m13 -91v2m0 18v3m0 34v3m6 -60v2m0 18v5m0 38v3m0 22v3m6 -89v3m0 29v3m0 20v3m0 20v3m0 3v5m6 -91v2m0 64v2m0 9v3m6 -80v2m0 21v8m0 3v3m0 26v3m6 -66v2m0 23v3m6 -28v2m0 124v3m6 -121v9m6 -15v15m13 0v3m0 20v8m6 3v3m0 9v3m6 -41v3m0 23v3m0 6v3m6 -35v9m0 43v6m6 -58v6m0 14v3m6 -8v5m6 43v6m6 -17v11m6 -11v3m13 -85v2m0 2v3m0 26v3m6 20v3m0 31v3m0 3v6m6 -98v3m0 3v3m0 26v3m0 8v3m0 92v3m0 3v1m6 -148v6m0 3v3m0 31v3m6 -44v1m0 3v6m12 46v3m0 86v6m6 -4v6m13 -143v3m0 3v3m6 0v2m0 20v3m0 3v12m0 34v3m6 -49v9m6 94v3m6 -103v3m0 94v3m6 -137v3m0 5v6m0 123v3m0 3v3m6 -112v6m0 103v3m6 -120v5m6 -5v5m0 3v3m0 115v3m13 -129v2m6 115v3m6 -120v2m0 18v3m0 106v2m6 -134v5m0 15v3m6 -23v3m0 11v3m0 103v3m6 -120v8m0 9v3m0 23v2m6 -45v2m0 3v3m0 72v3m6 -81v6m0 17v6m0 49v8m6 -8v14m13 -3v6m6 -95v6m0 15v2m0 9v3m18 -32v3m0 121v2m12 -120v6m0 8v9m0 3v3m6 -20v3m0 8v3m0 109v3m19 -118v3m0 77v3m6 -94v6m0 2v6m0 43v3m6 6v5m6 -5v8m6 -23v6m0 80v6m6 -89v3m0 17v3m0 63v6m6 -89v3m0 69v3m6 -75v3m0 6v3m0 65v3m13 -11v3m6 -58v3m0 40v3m0 9v3m0 8v3m6 -127v1m0 9v3m0 31v3m0 17v3m6 -65v2m0 3v6m0 57v6m6 -12v6m0 11v3m0 3v3m0 6v5m6 -31v6m12 -38v3m13 -5v8m6 -6v3m0 6v3m6 -9v6m0 29v2m6 -31v9m0 22v3m18 -25v5m6 32v3m6 -35v6m13 -6v3m6 0v3m0 3v3m6 -12v6m6 -9v6m0 20v6m0 6v3m6 63v8m0 12v3m6 -64v3m0 40v3m0 9v6m6 -129v8m0 63v3m0 52v8m6 -126v3m0 12v2m0 58v3m6 5v3m13 -74v3m0 20v3m0 31v3m6 -60v3m6 5v6m0 3v3m6 94v3m6 -134v2m6 -3v3m0 78v3"/>
<path stroke="#118100" stroke-width="7" d="M82.5 1188v3m0 29v3m0 28v3m55 -66v3m0 6v3m0 26v3m61 -51v2m0 43v3m0 91v3m61 -71v2m0 29v6m0 46v3m55 -106v2m61 78v3m55 -66v3m0 31v3m0 54v3m61 -89v3m0 3v6m0 37v3m0 3v6m0 3v5m116 -17v3m61 -14v2m0 72v3m0 49v3m61 -38v3m116 -49v6m0 9v8m0 15v3m55 -23v8m61 23v3m61 -22v2"/>
<path stroke="#007902" stroke-width="3" d="M47.5 1174v3"/>
<path stroke="#007902" stroke-width="6" d="M52 1177v3m0 63v3m0 31v6m6 -103v3m0 63v5m0 32v3m12 -106v3m6 68v3m13 0v3m0 23v6m6 -32v3m6 -28v8m0 17v6m6 -3v3m6 -20v3m12 -23v9m0 34v3m6 0v3m13 -78v3m0 3v3m0 3v3m12 -18v6m6 -6v12m0 69v3m6 -81v3m6 6v3m0 57v6m12 -55v18m6 -6v6m13 -50v4m0 140v3m6 -46v9m0 34v3m6 -9v3m0 9v1m6 -130v3m0 89v2m0 23v3m6 -34v6m6 -101v3m0 89v3m0 43v3m6 -148v2m12 60v8m0 78v4m13 -50v3m12 -83v2m12 0v3m0 75v3m6 -3v3m6 -83v2m0 6v3m6 0v3m13 14v3m6 -3v3m0 57v3m6 -83v3m0 12v2m0 3v6m0 52v2m6 -74v3m0 3v3m0 14v3m0 8v6m0 34v6m6 -71v2m0 20v6m0 3v6m0 31v3m6 -83v3m0 11v3m6 -8v5m6 15v3m6 -26v6m0 11v6m13 -6v3m0 31v3m6 -60v6m0 3v3m0 51v3m0 3v3m6 -72v6m0 20v3m0 34v12m6 -66v11m0 43v6m6 -52v3m0 6v3m0 37v3m0 3v3m6 -46v3m12 117v5m13 -105v3m0 3v2m0 6v3m0 57v3m0 26v3m6 -106v3m0 5v9m0 86v3m6 -118v3m0 9v3m0 5v9m0 57v3m6 -71v11m0 49v3m0 2v3m6 -8v3m6 -84v3m0 12v3m0 3v2m0 3v9m0 49v5m6 -5v11m0 32v1m6 -128v6m19 43v3m0 9v5m6 -25v2m0 9v9m6 -29v6m0 14v6m6 -23v11m0 38v2m6 -68v8m0 6v14m0 83v3m6 -86v3m12 -28v2m0 66v3m6 -69v6m0 52v3m0 5v3m13 -11v3m0 2v6m0 32v3m6 -129v2m0 6v3m0 26v3m0 8v3m6 -11v8m6 -34v3m0 23v5m6 -5v3m6 51v3m0 49v5m6 -106v3m6 52v6m13 -89v3m0 20v5m0 12v3m0 94v3m6 -140v6m0 77v3m6 -83v3m6 40v3m6 -49v3m0 37v3m0 97v3m6 -109v3m0 89v6m0 8v3m0 3v3m6 -109v3m0 86v3m6 -95v6m6 -6v3m0 106v6m13 -124v3m0 15v3m0 100v3m6 -124v3m0 115v9m6 -132v3m6 14v3m0 6v2m6 -25v8m43 23v3m6 -32v6m0 6v6m6 -15v6m6 -3v3m0 40v3m0 3v3m6 -49v12m0 8v6m6 -3v3m6 -20v3m0 14v3m13 -14v5m0 9v6m6 -18v3m0 78v2m6 -85v2m0 52v9m6 -52v3m6 29v2m6 75v3m6 -78v3m6 0v3m19 -6v9m0 3v14m0 37v12m0 3v8m6 -123v9m0 40v8m0 3v3m0 6v3m0 31v6m0 17v3m6 -123v3m0 31v3m0 3v3m0 11v3m0 6v3m0 31v6m6 -66v3m0 57v3m6 -23v3m6 12v2m12 -60v3m13 0v6m6 0v3m6 0v5m6 -14v3m12 6v3m6 -9v9m25 0v5m0 3v6m12 0v3m0 8v6m0 3v6m6 -29v3m0 3v3m12 106v3m12 -138v14m0 17v3m0 3v3m0 40v3m6 -57v3m13 60v3m6 -9v3m6 -55v3m0 12v3m0 34v3m0 46v6m0 2v3m0 3v3m6 -112v3m0 52v8m0 32v8m0 3v6m6 -143v3m6 25v3m0 55v5"/>
<path stroke="#007902" stroke-width="7" d="M137.5 1191v6m0 3v3m0 66v3m61 -92v3m0 43v5m61 104v2m55 -111v3m0 63v2m61 -51v6m55 28v3m0 78v2m61 -97v6m0 43v3m0 5v3m61 -46v3m0 52v3m0 8v3m55 -40v3m61 -12v6m0 23v3m0 34v3m0 3v6m0 37v6m116 -101v3m61 23v9m0 14v9m177 -6v3m0 37v3"/>
<path stroke="#00831b" stroke-width="3" d="M47.5 1177v6m0 23v11"/>
<path stroke="#00831b" stroke-width="6" d="M52 1180v6m0 22v6m6 -37v3m0 3v3m0 25v3m0 3v3m0 74v3m6 -117v6m0 31v3m0 29v2m0 29v3m0 9v5m6 -83v3m0 32v2m6 -65v5m0 26v3m19 -26v3m0 83v6m6 -3v3m6 -26v3m6 -46v3m0 9v2m0 26v3m6 -40v3m6 -23v3m0 86v5m6 -31v3m13 -72v3m24 60v15m6 -81v3m6 80v3m6 -48v2m6 -48v5m0 41v2m0 43v3m0 35v3m13 -35v9m6 37v3m6 -146v3m0 14v3m0 112v2m6 -31v6m6 -106v2m0 3v6m0 86v3m0 6v2m6 -108v2m12 127v5m0 9v3m0 3v1m19 -56v6m0 46v3m6 -124v3m0 66v3m0 3v3m0 31v3m6 -40v3m0 34v6m6 -40v3m0 34v3m12 -118v3m6 78v3m6 0v2m13 -63v3m0 55v3m6 -61v3m0 3v3m0 52v2m6 -77v6m0 3v3m6 -15v6m0 3v3m0 3v5m0 12v3m0 11v3m6 -32v3m0 3v3m6 -6v3m0 63v3m6 -72v15m6 -26v3m0 3v14m0 3v3m19 -12v6m6 37v3m0 3v3m6 -55v3m0 43v3m6 -60v6m0 60v6m6 -55v6m0 43v3m0 3v2m6 72v2m6 -122v3m0 5v6m0 63v3m0 3v6m6 -86v2m0 12v3m13 -15v3m0 20v6m6 -17v3m0 74v3m6 -74v5m0 84v2m0 9v3m6 -121v3m0 75v3m0 3v2m0 3v3m6 -92v3m0 15v3m0 45v3m0 3v9m6 -78v3m0 3v6m0 3v3m0 45v3m0 3v3m6 -9v3m0 26v6m12 0v3m13 -52v3m0 3v3m0 5v3m6 -26v3m6 -20v6m0 6v3m6 5v3m0 37v3m6 43v3m6 -114v11m0 3v6m0 8v3m6 -14v5m6 -20v6m19 26v3m6 -61v1m0 40v8m6 -47v1m0 3v3m6 40v9m0 34v3m6 -51v11m0 3v3m0 34v3m6 -54v2m0 106v3m6 -106v3m0 6v3m6 -15v3m13 -3v3m6 0v3m0 103v3m6 -134v2m6 -8v3m0 31v12m6 -40v5m0 115v3m0 14v3m6 -140v2m0 29v6m0 89v2m6 -2v2m0 12v3m6 -106v3m0 94v9m6 -109v3m0 57v9m13 -78v6m0 6v3m0 100v3m0 3v3m6 -124v3m0 3v3m0 3v6m6 -21v3m0 12v3m6 -18v3m6 3v3m6 14v3m31 92v3m6 0v3m6 -118v6m0 6v5m0 9v3m6 -26v3m6 -3v3m0 9v5m0 6v3m0 11v3m0 46v6m6 -95v3m0 12v8m0 20v3m0 77v3m6 -126v3m0 49v3m6 -26v3m13 -20v3m0 83v2m6 -94v3m0 6v2m6 61v2m12 -20v6m0 69v3m6 -109v3m18 5v3m0 101v2m13 -74v3m0 74v6m6 -89v9m0 14v6m0 40v3m0 3v3m6 -115v3m0 43v3m0 14v3m0 3v3m0 37v3m0 3v2m6 -74v3m0 14v6m0 31v3m24 -57v3m13 0v3m6 0v3m18 -9v11m6 -11v6m0 3v5m37 -3v6m0 29v3m6 -29v3m0 17v3m0 74v3m6 -103v3m0 3v3m6 -15v18m6 -6v8m12 -11v6m0 8v3m0 3v3m0 49v3m6 -95v9m0 14v3m0 54v6m0 3v3m0 3v2m13 -97v3m0 43v3m0 37v3m0 6v2m6 -11v17m6 -74v2m0 55v3m0 3v5m0 41v2m0 3v3m6 -142v5m0 25v3m0 3v3m0 6v3m0 34v6m0 8v6m12 -60v3m0 48v3"/>
<path stroke="#00831b" stroke-width="7" d="M137.5 1266v3m61 -38v3m0 40v3m0 43v3m116 -100v3m0 63v3m177 60v6m61 -78v3m0 52v8m116 -49v3m0 6v3m0 14v6m0 83v3m116 -97v2m0 3v6m61 115v2m177 -60v9m0 20v3m0 37v3"/>
<path stroke="#008c33" stroke-width="3" d="M47.5 1277v3"/>
<path stroke="#008c33" stroke-width="6" d="M52 1186v2m0 26v3m0 77v3m6 -89v3m0 3v3m0 63v3m0 9v2m6 -108v2m0 26v3m0 34v3m6 -71v5m0 63v3m6 -40v3m0 66v3m13 -92v3m0 20v3m24 -9v6m0 43v6m6 -43v6m0 34v3m6 -60v5m6 6v3m13 -20v3m36 8v15m0 51v3m6 -49v3m0 40v3m6 -89v9m0 34v3m19 -51v3m0 8v3m6 -16v2m6 5v12m0 83v3m6 -98v3m6 -3v3m0 95v6m6 -9v11m0 35v6m6 -23v3m0 17v3m19 -18v6m6 -120v3m0 2v3m0 72v3m12 -3v3m18 -75v3m0 72v3m6 -75v3m0 72v3m13 -81v12m0 3v3m0 63v2m6 -83v3m0 12v5m6 -8v3m6 8v3m6 -3v3m0 3v3m0 51v3m0 3v3m6 -6v3m12 -77v3m0 14v3m0 63v3m6 -80v11m37 40v3m12 -34v5m0 72v3m6 -78v3m0 6v3m0 77v3m13 -80v3m6 -15v3m0 6v3m6 -3v6m6 -12v3m0 12v3m6 -18v3m0 58v2m0 3v3m0 12v2m0 3v3m6 -86v3m0 60v3m0 3v6m0 8v3m0 32v3m18 -15v3m0 9v5m13 -74v3m0 43v3m12 -63v8m0 26v3m12 57v3m6 -106v3m6 0v3m0 5v9m12 32v5m0 3v3m13 -63v3m0 3v8m0 38v2m6 -83v3m18 46v3m0 3v3m6 -18v3m0 9v6m0 34v3m6 -46v3m0 40v3m0 3v3m6 -58v3m0 55v3m13 -55v3m12 -43v6m0 134v3m6 -137v3m0 2v3m0 118v5m6 -136v2m0 3v3m0 37v6m0 80v3m6 -129v3m0 37v3m0 88v3m12 -8v3m0 17v3m6 -109v3m0 48v3m0 43v6m13 -109v6m0 17v3m0 77v6m6 -112v3m6 -6v3m6 -3v3m0 3v3m43 34v3m0 66v3m6 -80v8m0 72v3m6 -98v9m6 -20v6m0 5v3m0 3v3m0 3v3m0 8v9m6 -43v9m0 8v3m0 11v3m0 6v3m6 -9v3m0 3v6m6 -3v3m6 -46v3m13 0v3m0 23v2m6 -25v3m6 17v5m6 -8v6m0 23v2m12 -28v5m18 -2v2m0 9v3m0 83v6m19 3v2m6 -68v3m0 54v3m0 3v3m0 2v3m6 -25v2m6 -54v3m18 -6v3m43 100v3m37 -72v3m0 9v3m0 37v6m6 26v2m6 -5v8m12 -109v12m0 8v3m6 -17v23m6 37v3m0 15v2m6 -88v2m0 18v5m0 3v6m0 43v3m0 3v3m13 -96v1m0 23v3m0 66v3m0 2v6m12 -54v5m0 35v3m0 5v6m6 -74v5m0 9v3m0 6v5m0 49v3m6 -75v3m0 55v11m6 -66v9m0 3v3m0 2v6m0 43v3"/>
<path stroke="#008c33" stroke-width="7" d="M82.5 1280v3m116 -100v3m0 2v12m116 8v15m61 0v3m0 14v3m0 6v2m55 -2v2m0 15v3m0 3v5m0 63v3m0 26v3m61 -23v3m0 11v6m116 -72v6m0 46v6m177 -43v3m61 45v6m0 72v3m0 2v6m55 -86v6m122 3v3m0 91v3"/>
<path stroke="#009443" stroke-width="3" d="M47.5 1183v3m0 94v3"/>
<path stroke="#009443" stroke-width="6" d="M52 1188v6m0 75v3m0 20v2m6 -108v2m6 0v3m0 20v3m6 -3v3m6 -3v3m13 -17v3m0 20v3m0 34v3m6 -63v3m0 57v3m6 -63v6m0 20v3m0 34v3m6 -63v6m12 54v3m6 -60v3m0 5v9m6 -20v3m0 17v3m0 69v2m13 -28v6m6 28v3m12 -9v9m6 -74v2m6 -14v3m6 6v5m0 49v3m6 -3v6m6 -9v3m0 3v3m13 -95v6m6 -9v6m0 3v3m6 -12v12m0 109v6m12 -132v3m6 -3v3m0 106v2m6 0v3m31 -91v2m0 109v3m36 -112v6m0 72v3m13 -66v3m0 3v2m6 -17v3m0 6v3m6 71v3m6 -63v3m12 -3v9m31 -20v8m36 101v2m0 12v3m6 -98v6m19 -6v6m6 -3v3m0 83v3m6 -89v3m0 83v3m6 -89v3m0 6v3m0 68v3m0 32v3m6 -43v3m0 8v3m6 -26v6m6 23v3m6 -3v3m13 -32v3m0 32v3m12 -21v3m6 43v4m18 -115v14m6 -6v3m0 60v3m19 -60v3m0 8v9m0 40v3m6 -98v3m6 86v6m18 -43v3m0 43v3m6 -52v3m0 46v3m6 -52v6m13 -9v6m0 83v3m12 -127v1m0 143v3m6 -146v3m0 6v2m0 132v3m6 -11v2m6 -88v3m6 85v3m6 -91v5m0 81v2m6 -37v3m13 -37v3m6 -26v3m6 -6v6m6 -9v3m0 103v3m12 -80v3m0 48v3m18 26v3m13 -86v6m0 5v3m6 69v3m6 -69v3m0 69v3m6 -106v5m0 3v3m0 12v5m0 78v3m6 -101v3m6 9v3m0 2v3m6 6v3m6 -46v3m13 0v3m0 17v3m0 23v3m0 54v3m6 -103v3m0 14v6m6 -3v3m0 5v3m0 15v3m6 -21v3m6 -3v3m0 92v3m6 -98v3m18 0v6m0 3v6m0 74v3m19 11v3m6 0v3m6 -77v3m0 57v3m0 3v3m0 2v6m49 -3v3m49 -37v3m0 37v3m6 -52v3m0 3v3m6 69v3m18 -81v6m6 -26v3m6 0v3m6 -9v6m0 3v3m0 11v3m19 -37v3m0 20v3m6 -23v3m0 97v3m6 -60v3m6 -38v3m0 23v3m0 49v3m0 11v6m6 -78v3m0 18v2m0 46v3m0 3v6"/>
<path stroke="#009443" stroke-width="7" d="M198.5 1186v2m0 121v6m177 -89v3m55 40v3m122 11v3m0 60v3m55 -55v3m0 58v3m61 -52v6m0 5v3m0 86v3m61 0v6m55 -106v3m0 14v9m0 20v3m61 71v9m177 -63v8m0 72v3"/>
<path stroke="#009c53" stroke-width="3" d="M47.5 1251v6m0 35v2"/>
<path stroke="#009c53" stroke-width="6" d="M52 1194v3m0 69v3m0 3v2m6 -77v3m12 -12v3m6 86v3m13 -80v8m0 6v3m0 60v3m6 -80v3m0 20v3m6 -20v2m0 18v3m6 -32v3m0 6v2m6 12v3m6 -20v3m0 8v6m0 69v5m6 -25v3m6 -66v2m0 3v6m0 72v3m19 -86v2m0 61v3m6 -66v2m6 3v9m0 72v2m0 9v3m6 -92v6m0 6v3m0 74v3m6 -95v6m0 3v6m0 3v2m0 41v2m0 3v6m6 0v3m6 -9v3m6 0v3m13 -100v8m0 6v3m6 -20v3m0 3v2m6 -2v2m30 98v6m19 23v2m30 3v3m6 -115v3m25 6v6m6 103v3m79 0v3m25 -78v3m18 3v3m0 3v3m6 -9v6m12 60v6m6 14v3m0 3v3m6 -9v3m13 -3v6m6 3v3m6 -29v3m0 51v3m6 -6v3m12 0v3m12 -103v14m6 -17v9m0 3v2m0 9v3m19 89v3m12 -55v3m6 0v3m6 -52v6m0 49v3m25 -3v3m0 28v3m18 3v3m18 -83v6m6 45v6m0 34v6m6 -11v3m13 -75v3m12 -26v3m0 97v3m0 3v3m6 -89v6m6 -9v6m6 0v3m0 6v3m6 68v3m12 6v3m13 -83v5m6 -8v3m0 8v6m6 -14v11m0 69v3m6 0v3m6 -89v3m6 -3v3m0 3v2m6 -5v5m0 3v6m6 57v3m13 -86v6m0 29v3m0 45v6m6 -86v3m0 6v5m6 -14v6m0 31v3m6 -28v2m0 3v3m0 17v3m6 -34v3m0 8v3m6 -3v3m12 -8v2m6 18v3m0 2v6m0 49v6m25 -43v5m6 -8v3m0 57v3m0 3v2m6 -71v6m6 -9v6m12 74v3m25 -72v3m0 60v3m0 3v6m24 17v3m25 -72v9m6 -17v3m0 8v3m6 -11v2m6 -2v5m6 -5v2m24 -14v3m13 0v3m6 -20v3m0 14v3m0 80v3m18 -92v3m0 14v3m0 6v3m0 9v5m0 29v3m6 -78v3m0 12v5"/>
<path stroke="#009c53" stroke-width="7" d="M82.5 1191v3m0 20v6m55 -3v6m0 49v2m61 6v3m0 3v3m177 -60v5m55 29v3m61 77v6m61 -63v6m0 11v3m116 9v2m116 -11v3m61 112v2m0 3v3m55 -60v3m122 86v3m0 3v2"/>
<path stroke="#00a866" stroke-width="3" d="M47.5 1186v2m0 3v6m0 60v6"/>
<path stroke="#00a866" stroke-width="6" d="M52 1197v3m0 54v12m0 8v3m6 -89v9m0 3v6m18 -15v6m0 57v3m0 23v3m13 -75v6m0 60v3m6 -74v5m6 -5v3m0 2v6m6 -6v9m0 9v3m0 57v3m6 -89v11m0 75v6m6 -86v8m0 72v3m6 -23v3m0 3v2m6 -66v3m13 -5v2m0 9v3m6 -3v9m0 46v2m6 -66v12m0 77v6m6 -95v3m0 69v12m6 -84v6m0 6v6m0 74v3m6 -77v3m0 45v3m0 6v3m0 17v3m31 9v2m12 -11v3m6 -126v3m0 129v2m6 -8v3m18 -20v5m31 20v3m24 0v3m25 -14v3m6 11v3m6 -14v3m12 0v2m6 -11v3m49 8v3m6 0v3m0 9v5m6 0v3m6 12v3m13 -98v6m18 0v3m6 77v3m6 0v6m6 -20v3m6 8v3m6 -26v3m0 14v3m0 3v3m0 12v5m13 -23v6m6 -9v3m0 12v3m0 3v2m6 -28v5m0 43v3m30 -86v6m6 -14v3m0 2v9m19 89v3m6 -49v3m6 -3v6m6 -3v3m31 -3v3m0 3v5m6 26v3m6 -3v6m6 0v3m0 14v3m18 -97v2m0 49v6m6 -6v6m19 -57v2m12 81v2m6 -83v3m0 6v3m6 -6v12m0 68v6m6 -89v3m0 3v3m6 -9v6m0 9v2m0 72v3m12 -6v3m25 -80v3m6 -6v3m0 3v3m6 -3v5m12 0v3m6 -8v5m0 15v3m0 51v3m13 -60v3m0 48v3m0 9v3m6 14v3m6 -74v2m6 52v9m0 11v3m6 -103v5m12 -5v3m6 2v3m6 18v2m0 66v3m0 9v3m31 -63v2m0 49v3m6 -54v5m0 46v3m0 9v2m0 3v6m12 -83v3m0 14v3m6 0v3m0 34v3m0 17v3m0 3v3m13 -63v3m0 51v12m6 -75v3m0 60v6m6 -69v3m0 55v2m0 12v3m6 -80v2m0 63v6m18 -54v5m12 -5v3m13 2v3m12 -8v3m0 2v3m0 55v3m12 -61v6m37 -34v3m0 117v3m6 -109v3m6 -14v3m0 17v3m6 -20v2m6 6v3m0 26v6m6 -29v3"/>
<path stroke="#00a866" stroke-width="7" d="M82.5 1254v3m55 -54v3m0 68v3m61 0v3m177 -46v6m55 11v6m0 3v3m61 77v3m177 -31v3m116 -12v3m0 46v3m0 40v5m0 3v9m61 11v3m55 9v6m61 -43v5m0 6v3m61 49v3"/>
<path stroke="#00b67b" stroke-width="3" d="M47.5 1188v3m0 6v3m0 63v3"/>
<path stroke="#00b67b" stroke-width="6" d="M52 1200v8m0 43v3m6 -48v2m0 55v3m6 -75v6m12 0v6m0 3v5m19 -3v3m0 3v6m0 57v3m6 -66v6m0 60v3m6 -66v3m0 63v3m0 3v3m6 -69v3m12 48v3m0 6v6m6 -86v3m0 63v14m13 -72v6m0 3v6m0 46v2m6 -60v3m0 77v3m6 -77v3m0 46v5m0 20v3m6 -77v3m0 54v3m6 6v14m6 -3v6m12 0v3m6 -3v6m13 -12v3m0 12v3m6 -15v9m0 3v5m6 -25v5m0 6v3m6 -124v1m0 3v2m0 121v6m6 -3v5m12 -5v5m6 -20v3m6 -8v5m31 23v3m6 -3v3m6 -17v6m12 0v14m13 -14v3m0 8v3m6 -20v3m0 3v3m6 -9v3m0 3v11m6 -14v3m6 17v3m6 -23v6m0 2v6m0 6v3m6 -23v3m12 -3v3m37 8v3m6 0v6m25 14v3m6 -3v3m6 0v3m30 -12v6m0 20v3m6 -26v3m13 -17v3m6 -6v6m0 3v5m0 12v3m6 -9v3m6 12v2m0 6v3m6 -14v3m6 2v6m37 -17v3m0 37v3m79 -9v6m6 -29v6m12 -54v3m0 2v3m0 78v5m13 -86v6m12 -8v2m0 3v6m0 77v3m12 -6v3m6 0v3m6 -80v9m0 71v3m43 3v3m12 -23v3m0 23v5m12 -83v3m0 6v3m0 43v8m0 6v3m13 -75v3m0 3v6m6 -12v9m0 60v9m6 17v3m6 -92v3m0 63v3m0 9v5m12 -83v3m6 -11v2m6 3v15m0 74v3m0 3v3m6 -15v3m31 -46v6m6 -3v3m0 40v3m0 6v6m0 2v3m6 -71v3m0 68v9m6 -72v3m0 63v6m6 -69v3m0 40v3m0 11v3m0 9v3m13 -72v6m0 43v11m0 12v3m6 -83v5m0 3v6m0 51v3m0 6v6m6 -72v3m0 69v3m6 -20v2m0 6v6m6 -3v3m6 -55v6m6 -6v6m6 -20v6m0 3v3m6 -6v3m0 3v2m0 9v3m0 34v3m19 -51v2m6 61v3m6 -61v3m12 66v3m31 -100v8m0 3v3m6 -14v3m0 5v3m6 -8v5m0 9v3m6 -15v3m0 9v6m6 -6v3m0 17v3m6 -32v3m0 3v3"/>
<path stroke="#00b67b" stroke-width="7" d="M82.5 1194v3m0 14v3m0 63v3m55 -69v6m0 60v6m0 9v5m61 -14v3m232 -29v3m61 118v2m61 -88v5m177 29v3m0 8v6m55 -3v3m0 6v3m0 48v3m116 29v3m0 6v17m61 -66v6m0 5v3m0 43v3m61 17v3"/>
<path stroke="#00c591" stroke-width="3" d="M47.5 1266v8"/>
<path stroke="#00c591" stroke-width="6" d="M58 1260v3m0 3v11m6 -80v3m0 8v3m6 -20v3m6 9v3m0 68v3m13 -5v2m6 -63v3m0 6v3m0 51v3m30 0v3m6 3v6m13 -81v3m0 63v3m6 -69v6m0 60v3m0 3v12m0 5v3m6 -77v3m0 48v3m0 12v5m6 -71v3m6 54v6m6 6v5m6 6v6m6 -9v3m19 -9v3m0 3v12m6 -18v6m0 9v3m6 -15v6m12 -9v3m6 15v5m12 -17v6m6 -20v6m0 5v6m0 9v3m37 -18v9m6 -3v3m0 6v8m6 -5v5m19 -11v3m0 3v8m6 -23v6m0 9v2m0 3v9m6 -29v6m0 3v3m6 -6v3m0 6v14m6 -20v3m0 3v14m6 -23v3m0 14v6m6 -17v3m6 -6v3m6 0v3m31 25v3m6 -20v9m18 11v3m31 0v3m24 -29v6m0 3v6m6 20v3m13 -35v3m0 3v8m6 -8v3m0 8v9m6 -3v14m6 -14v6m0 3v3m6 -15v12m0 5v9m6 -26v3m0 20v3m31 20v3m12 -14v2m12 0v3m12 -3v3m6 -3v6m43 -20v3m0 20v3m12 0v3m6 -80v2m13 78v8m6 -80v6m0 63v3m0 8v3m6 -89v3m0 6v3m6 0v3m0 71v3m24 -83v3m0 80v3m6 -86v6m25 63v3m6 -3v3m6 20v6m12 -29v6m6 -61v3m0 3v6m13 -9v3m0 72v3m6 -72v3m0 3v3m0 66v2m6 -83v3m0 69v9m6 -69v6m0 48v3m6 -57v6m12 -21v3m0 92v3m6 -80v3m0 57v11m0 6v3m43 -12v3m6 -48v2m0 6v3m6 -17v11m0 43v9m0 11v3m6 -66v3m0 46v3m0 3v5m13 -65v8m0 46v3m6 -43v6m0 40v5m0 15v6m6 -75v3m0 46v3m6 14v3m6 -78v3m0 55v5m0 3v6m6 -9v3m6 -63v3m0 6v3m6 -3v3m0 3v11m0 34v3m6 -46v9m13 -17v8m0 55v3m6 23v5m18 -22v2m0 9v3m6 -12v6m0 3v3m31 -95v3m6 -8v5m12 0v9m6 -3v3m0 6v2m6 -14v3"/>
<path stroke="#00c591" stroke-width="7" d="M82.5 1197v9m55 0v5m0 72v3m122 14v3m55 20v3m61 -11v2m116 6v6m0 29v2m61 -63v6m55 80v3m61 12v5m61 -74v3m0 3v2m55 6v6m116 37v3m0 40v3m61 -43v3m0 14v3m0 69v3"/>
<path stroke="#00d9b3" stroke-width="3" d="M47.5 1200v6m0 68v3"/>
<path stroke="#00d9b3" stroke-width="6" d="M58 1251v3m0 3v3m0 17v3m6 -80v8m6 72v3m19 -14v3m6 0v2m6 -54v3m0 51v6m6 -60v3m6 3v3m12 51v3m19 -6v3m0 12v8m6 -23v3m0 12v2m6 -68v3m0 48v3m6 -54v3m0 45v3m12 9v6m6 -3v14m6 -6v3m0 6v3m6 -9v3m19 -11v2m12 0v3m0 3v9m6 -12v6m0 3v3m6 -15v3m6 0v6m43 -6v6m12 -6v6m6 9v3m6 -6v3m13 -6v3m6 -12v3m0 17v3m12 -17v3m6 -3v6m0 3v3m6 -12v3m6 23v6m6 -23v5m19 3v6m6 -11v5m12 15v5m0 3v3m6 -14v5m12 3v3m43 3v3m18 -23v3m0 31v3m6 -40v3m0 6v3m13 23v2m0 18v2m6 0v3m12 -40v3m0 6v3m0 5v6m6 -8v2m6 -14v3m0 9v2m12 12v3m0 11v3m19 -40v3m6 17v3m12 -3v9m6 -6v8m12 -11v3m19 8v3m6 -28v3m18 28v3m6 -31v8m0 14v3m6 6v6m6 -12v9m19 -3v6m0 8v3m6 -91v2m0 3v3m0 6v3m0 46v2m0 6v6m0 6v2m0 6v3m6 -80v3m0 63v3m6 -66v3m0 65v3m12 3v3m12 -83v6m0 5v3m0 69v3m6 -83v6m0 2v3m19 49v3m6 3v8m6 -8v3m37 20v3m6 -72v3m0 3v5m0 43v3m0 9v6m0 2v3m6 -80v6m0 54v3m0 12v2m6 -77v6m6 -9v3m0 3v3m0 54v15m6 -12v6m0 3v3m0 5v9m6 -95v3m0 75v5m6 -11v3m0 11v3m6 -8v2m37 9v3m6 -55v6m0 57v3m6 -8v8m6 -11v3m13 -63v3m6 57v3m6 -46v3m0 66v3m6 -26v3m6 -43v5m0 40v3m0 9v3m6 -75v3m0 9v5m0 41v2m0 3v3m6 -60v3m0 51v3m0 23v3m6 3v3m6 -89v3m0 57v3m0 3v3m13 23v3m6 -26v3m0 17v3m12 -20v3m6 2v9m0 3v3m6 -17v2m0 12v3m6 0v3m37 -101v3m0 3v3m12 3v3"/>
<path stroke="#00d9b3" stroke-width="7" d="M82.5 1206v2m0 58v3m0 3v5m55 9v3m61 11v9m61 -15v6m0 3v12m55 -12v14m0 3v3m61 -11v3m55 28v3m61 -9v3m0 20v3m61 -14v11m0 26v6m177 -60v3m55 0v5m0 106v1m116 -58v3m61 60v3m0 20v3m61 6v8"/>
<path stroke="#00edd7" stroke-width="6" d="M58 1254v3m6 12v3m0 5v3m6 -86v9m0 51v3m0 20v3m6 -23v6m0 9v2m13 -14v9m6 0v3m6 -3v5m12 -5v3m6 2v9m25 3v6m12 -12v9m6 -17v2m6 -2v8m12 6v3m6 -3v3m6 8v3m13 -8v2m18 3v3m6 3v3m6 -9v3m12 6v6m6 -3v3m13 -20v2m0 6v6m18 -12v3m0 6v3m6 -12v3m0 9v11m6 -23v3m6 0v15m6 -15v12m13 -15v3m0 3v6m18 -6v3m18 12v2m0 3v9m6 -12v9m0 3v3m6 -17v2m19 3v6m0 3v11m6 -23v12m0 8v6m6 -26v3m0 3v12m6 2v3m0 3v3m6 -9v3m25 15v3m6 -3v3m30 0v5m6 -28v2m6 -11v6m0 3v2m13 0v3m0 20v6m6 -6v6m6 -26v3m0 17v9m6 -29v3m12 26v3m6 -26v3m0 34v6m25 -37v6m12 17v3m6 -12v3m0 9v2m12 -2v5m6 -17v3m0 3v8m37 -25v3m6 11v6m0 8v3m0 3v3m6 -23v6m0 3v2m6 -8v3m0 8v6m6 -9v3m6 3v9m0 8v3m19 -89v3m0 60v6m0 9v3m0 2v3m6 -25v17m6 -9v3m24 -57v5m0 46v3m6 -51v2m37 58v5m6 0v9m6 -11v8m0 12v3m25 5v3m0 20v2m6 -108v3m0 6v3m0 48v3m0 3v3m0 11v3m12 -80v3m0 72v5m6 -11v3m0 3v5m6 -83v3m0 63v9m0 5v9m6 -74v5m49 66v3m0 9v2m6 -8v3m6 -58v3m19 49v3m6 -40v3m0 37v3m6 -58v6m6 9v3m0 66v5m6 -20v3m6 -66v3m0 60v3m0 14v3m6 -23v6m6 0v3m0 3v6m0 11v6m13 -3v3m12 -17v5m6 -5v2m0 3v3m6 9v3m12 -18v3m0 9v3m12 5v3m13 -8v5m12 -100v3"/>
<path stroke="#00edd7" stroke-width="7" d="M82.5 1208v3m0 58v3m55 17v3m61 5v3m61 -11v3m55 5v6m0 14v3m61 -3v3m0 6v3m116 0v8m116 43v3m0 20v3m61 -14v6m0 5v3m116 6v9m0 22v3m116 -68v8"/>
<path stroke="#00fefc" stroke-width="6" d="M64 1263v6m6 -66v3m0 2v3m6 52v9m19 -6v3m6 -3v3m6 5v3m0 3v3m6 -17v3m0 3v14m6 -20v8m0 9v3m25 -6v6m18 31v3m24 -31v8m6 -3v3m43 3v3m6 0v3m12 -3v6m13 -20v3m0 2v6m6 15v2m6 -28v17m6 -14v2m0 12v3m6 -17v2m0 23v3m0 20v3m6 -51v2m6 -2v2m0 49v1m19 -47v3m36 17v3m6 6v3m0 3v3m6 -6v8m13 -25v8m0 6v11m6 -11v3m6 -14v2m0 12v8m6 -17v3m6 17v3m43 29v2m18 -14v3m6 -11v6m6 0v2m49 -11v9m0 28v3m6 -40v3m0 6v8m6 -8v8m6 -20v6m0 3v8m0 3v3m0 17v3m13 -31v8m6 -14v6m0 5v6m0 3v6m6 -6v3m12 -9v6m6 3v3m6 -15v3m6 0v14m13 -2v2m6 -28v3m0 3v2m0 23v3m6 -34v6m0 2v3m0 15v5m12 -28v5m0 15v3m0 2v3m6 -8v3m6 -3v3m0 2v3m6 -5v2m19 6v3m18 -9v6m0 3v6m6 -15v3m12 3v9m25 0v5m6 -8v3m0 3v2m12 -2v5m0 35v1m12 -41v2m0 15v3m6 -12v3m0 6v3m0 3v5m6 -14v9m13 0v2m0 3v6m18 -6v6m6 -6v6m6 -86v3m0 9v2m6 -14v3m55 74v3m0 6v9m12 -69v3m31 11v14m0 58v6m6 -72v3m0 63v6m6 -12v3m6 -9v3m0 3v6m6 -3v3m0 6v2m0 3v6m6 -11v5m0 3v3m13 -17v3m0 14v3m6 -17v3m6 5v6m6 -9v3m12 12v3m6 -15v9m0 6v2m6 -2v5m6 -5v2m13 -8v3m0 5v3"/>
<path stroke="#00fefc" stroke-width="7" d="M82.5 1263v3m116 26v5m61 -11v3m0 3v2m116 26v6m0 3v3m55 23v3m122 2v6m55 -8v2m0 15v5m0 26v1m61 -27v3m0 3v6m293 63v6m0 3v2m61 15v3m0 28v4"/>
<path stroke="#00e7ff" stroke-width="6" d="M64 1272v5m6 -71v2m0 58v6m25 -12v6m0 37v3m12 -83v3m0 46v2m0 3v3m85 6v8m13 -5v3m30 11v9m6 -6v3m25 -3v3m6 -17v2m0 3v9m0 3v6m6 -9v3m0 28v3m6 -31v11m18 -26v3m6 -3v3m37 52v2m24 -34v3m0 6v3m13 8v3m24 23v3m12 -23v3m61 9v3m0 20v2m49 9v1m6 -38v3m0 11v6m12 -20v3m0 8v3m0 3v3m0 17v3m13 -26v6m6 -14v5m6 3v6m18 0v3m12 -17v8m13 6v6m6 0v5m6 -25v2m0 15v3m0 5v3m6 -28v5m0 3v3m0 17v3m6 -29v9m0 9v2m12 -2v2m6 -5v3m6 5v3m13 -8v2m0 3v3m18 9v5m6 -5v5m6 26v3m6 -34v8m6 26v3m19 -43v6m0 5v3m6 -8v3m0 2v3m6 0v3m12 -6v6m6 -11v3m0 14v3m6 -3v3m6 6v2m13 0v3m12 0v3m6 20v3m6 0v2m6 -105v9m6 -9v9m6 100v1m49 -33v3m6 43v3m6 -100v5m31 84v2m6 -83v9m6 -6v9m0 60v3m0 8v3m6 -5v2m6 -14v3m0 3v6m0 2v3m6 0v3m13 -11v8m6 -5v2m6 9v6m6 -9v6m12 6v2m12 -20v3m0 6v3m0 3v3m6 -6v6m43 40v1"/>
<path stroke="#00e7ff" stroke-width="7" d="M82.5 1257v6m55 49v3m177 -21v3m238 72v3m55 -12v6m0 6v3m61 0v5m0 3v3m116 35v2m116 -51v6m61 83v3m0 2v9"/>
<path stroke="#00ceff" stroke-width="6" d="M58 1297v3m6 -46v9m6 -6v9m0 6v5m31 -14v3m0 40v2m6 -45v9m0 34v3m37 6v2m30 3v2m12 -2v4m19 2v1m36 -18v3m25 -3v6m6 -26v3m0 2v3m0 9v3m6 0v8m30 26v2m61 -25v6m0 29v2m25 3v2m6 -2v3m12 -23v3m6 23v3m19 -23v3m18 23v3m6 -17v2m73 -5v3m6 -12v3m0 17v6m19 0v3m12 -26v3m0 8v6m12 -3v3m6 3v3m25 -3v3m0 34v3m18 -46v3m0 3v3m0 11v3m24 -14v3m6 5v3m13 38v2m6 0v1m12 -1v3m6 -43v12m6 -9v9m6 -12v3m25 17v3m6 -3v6m6 -3v3m12 29v3m6 -32v3m6 -3v3m6 11v6m25 0v3m30 23v3m6 0v2m98 -2v8m6 -8v6m25 34v3m6 -35v3m0 32v2m12 -25v3m24 -9v3m0 3v3m6 -12v9m13 -3v3m0 11v3m24 29v3"/>
<path stroke="#00ceff" stroke-width="7" d="M198.5 1289v3m177 40v5m177 29v3m55 -3v6m61 49v1m116 1v3m238 46v9"/>
<path stroke="#00b9ff" stroke-width="3" d="M47.5 1294v3"/>
<path stroke="#00b9ff" stroke-width="6" d="M52 1297v2m116 21v1m12 -1v3m12 -3v3m159 26v4m61 -10v6m31 -3v3m6 0v3m6 6v2m12 -8v8m18 20v2m55 -30v6m31 0v2m6 3v3m12 0v3m25 -3v3m6 6v3m6 -6v3m6 -3v3m0 3v5m30 -8v5m13 0v3m6 38v2m6 0v2m18 -25v3m12 -17v3m6 9v2m13 6v3m12 0v3m6 -9v3m6 6v3m6 26v2m6 0v2m55 -87v2m0 95v2m25 4v3m6 0v1m73 19v4m6 -2v3m31 -20v3m12 32v2m30 -37v3m19 0v3m6 11v6m0 26v1m6 -24v3m6 23v1m6 -36v3"/>
<path stroke="#00b9ff" stroke-width="7" d="M552.5 1372v3m177 11v3m55 37v3m61 32v1"/>
<path stroke="#00a5ff" stroke-width="3" d="M47.5 1297v2"/>
<path stroke="#00a5ff" stroke-width="6" d="M64 1297v3m6 0v2m80 13v2m42 6v1m171 28v3m19 3v1m36 -13v3m37 0v3m6 23v1m73 13v2m6 -42v3m0 37v3m6 -20v3m25 -20v3m6 -6v3m6 5v3m6 0v3m6 -11v8m19 -3v6m6 0v9m6 -12v3m6 9v3m73 5v3m0 9v5m12 -11v6m0 3v2m6 -14v3m0 6v3m31 8v6m6 -3v3m61 40v3m73 20v2m19 4v1m24 7v1m31 -18v3m6 -6v3m55 43v3m6 -43v6m0 3v2m0 6v3m6 -14v5m6 6v3m6 -11v2m0 3v6m0 3v3"/>
<path stroke="#00a5ff" stroke-width="7" d="M375.5 1355v3m354 31v3m171 83v3"/>
<path stroke="#0090ff" stroke-width="6" d="M64 1300v1m49 5v4m37 7v1m213 37v1m25 2v3m55 -12v6m18 -6v3m0 3v3m43 25v2m55 7v4m12 -44v3m6 5v3m43 -3v6m0 40v4m6 -44v6m30 46v2m61 -25v3m0 2v6m6 -17v6m0 5v6m37 0v3m147 69v2m6 -2v3m12 3v2m24 6v2m6 -2v4m19 -24v6m12 26v3m18 2v3m31 -31v3m0 31v3m6 -40v3m0 5v9m0 23v3m6 -43v3m0 8v3m0 3v3m0 20v3m6 -40v3m0 11v3m6 -6v6"/>
<path stroke="#0090ff" stroke-width="7" d="M198.5 1323v2m293 55v3m61 9v3m177 -3v3m0 8v6"/>
<path stroke="#007eff" stroke-width="6" d="M357 1352v2m67 -8v3m13 0v6m12 -3v6m12 -6v3m37 28v1m79 -29v3m12 -3v3m0 2v3m55 52v2m6 1v1m269 62v3m24 5v3m55 15v3m43 -35v3m6 8v3m6 -11v3m6 5v6m0 6v3"/>
<path stroke="#007eff" stroke-width="7" d="M430.5 1346v3m299 46v8"/>
<path stroke="#006dff" stroke-width="6" d="M424 1349v3m19 20v1m12 -21v6m43 22v3m79 -25v2m6 -8v3m0 3v2m6 -2v2m37 49v3m24 3v3m342 89v2m55 -28v5m12 -5v5"/>
<path stroke="#005bff" stroke-width="6" d="M546 1392v1m37 -38v3m55 54v4"/>
<path stroke="#005bff" stroke-width="7" d="M430.5 1352v3"/>
<path stroke="#004bff" stroke-width="7" d="M430.5 1349v3"/>
<path stroke="#003eff" stroke-width="6" d="M632 1412v2"/>
<path stroke="#0000ff" stroke-width="3" d="M47.5 1299v47"/>
<path stroke="#0000ff" stroke-width="6" d="M52 1299v47m6 -46v46m6 -45v47m6 -46v46m6 -45v45m13 -43v47m6 -46v47m6 -45v45m6 -44v48m6 -47v47m6 -46v48m6 -47v47m6 -45v49m13 -46v49m6 -48v48m6 -46v49m6 -49v49m6 -48v51m6 -50v50m6 -49v49m6 -48v50m6 -50v50m13 -47v49m6 -47v47m6 -46v46m6 -44v48m6 -47v47m6 -46v46m6 -45v49m6 -48v48m6 -48v48m13 -46v48m6 -46v46m6 -45v45m6 -44v48m6 -47v47m6 -46v46m6 -46v46m6 -45v45m13 -44v49m6 -48v48m6 -47v49m6 -47v47m6 -46v50m6 -48v48m6 -47v49m6 -47v47m6 -46v50m13 -48v49m6 -47v47m6 -46v50m6 -48v52m6 -50v50m6 -48v50m6 -49v49m6 -47v51m13 -50v50m6 -49v49m6 -48v48m6 -47v47m6 -46v50m6 -48v48m6 -47v47m6 -45v45m6 -44v50m13 -48v48m6 -47v50m6 -49v49m6 -48v48m6 -46v49m6 -48v48m6 -47v47m6 -46v46m6 -45v50m13 -47v47m6 -45v48m6 -47v47m6 -45v48m6 -47v47m6 -46v49m6 -48v48m6 -46v50m13 -47v47m6 -46v50m6 -48v48m6 -46v51m6 -49v49m6 -48v48m6 -46v47m6 -46v46m6 -45v45m13 -43v47m6 -46v46m6 -45v51m6 -50v50m6 -48v48m6 -47v47m6 -45v49m6 -48v48m6 -47v50m13 -47v47m6 -46v50m6 -49v49m6 -48v48m6 -46v50m6 -48v48m6 -46v46m6 -45v48m13 -45v50m6 -48v48m6 -47v47m6 -46v51m6 -50v50m6 -49v51m6 -49v49m6 -47v51m6 -50v54m13 -50v52m6 -51v51m6 -49v52m6 -49v49m6 -47v47m6 -45v50m6 -49v49m6 -47v50m13 -47v51m6 -49v49m6 -47v47m6 -45v52m6 -50v50m6 -48v49m6 -47v47m6 -45v46m6 -44v45m13 -40v42m6 -40v41m6 -38v38m6 -37v38m6 -36v37m6 -36v37m6 -35v36m6 -35v36m6 -34v34m13 -31v33m6 -32v33m6 -31v32m6 -31v32m6 -30v30m6 -29v30"/>
<path stroke="#0000ff" stroke-width="7" d="M82.5 1304v48m55 -37v48m61 -38v49m61 -37v47m55 -38v44m61 -32v49m55 -35v50m61 -39v49m61 -37v48m55 -36v49m61 -34v48m61 -35v48m55 -36v47m61 -32v52m55 -36v49m61 -29v44m61 -26v34"/>
</g>
</g>
<polyline points="47.1,1299.9 50.1,1300.3 53.1,1300.8 56.1,1301.2 59.1,1301.7 62.1,1302.2 65.1,1302.7 68.1,1303.1 71.1,1303.6 74.1,1304.0 77.1,1304.5 80.1,1304.9 83.1,1305.4 86.1,1305.9 89.1,1306.5 92.1,1307.1 95.1,1307.7 98.1,1308.3 101.1,1308.9 104.1,1309.5 107.1,1310.1 110.1,1310.7 113.1,1311.3 116.1,1311.9 119.1,1312.5 122.1,1313.1 125.1,1313.7 128.1,1314.3 131.1,1314.9 134.1,1315.7 137.1,1316.4 140.1,1317.2 143.1,1318.0 146.1,1318.7 149.1,1319.5 152.1,1320.2 155.1,1320.7 158.1,1321.2 161.1,1321.6 164.1,1322.1 167.1,1322.6 170.1,1323.0 173.1,1323.5 176.1,1323.9 179.1,1324.2 182.1,1324.5 185.1,1324.7 188.1,1325.0 191.1,1325.3 194.1,1325.6 197.1,1325.9 200.1,1326.7 203.1,1327.6 206.1,1328.5 209.1,1329.4 212.1,1330.3 215.1,1331.2 218.1,1332.1 221.1,1332.9 224.1,1333.3 227.1,1333.8 230.1,1334.3 233.1,1334.7 236.1,1335.2 239.1,1335.6 242.1,1336.1 245.1,1336.5 248.1,1337.0 251.1,1337.4 254.1,1337.9 257.1,1338.3 260.1,1338.8 263.1,1339.2 266.1,1339.7 269.1,1340.3 272.1,1340.9 275.1,1341.5 278.1,1342.1 281.1,1342.7 284.1,1343.3 287.1,1343.9 290.1,1344.3 293.1,1344.6 296.1,1344.9 299.1,1345.2 302.1,1345.5 305.1,1345.8 308.1,1346.0 311.1,1346.4 314.1,1346.8 317.1,1347.3 320.1,1347.7 323.1,1348.2 326.1,1348.6 329.1,1349.1 332.1,1349.5 335.1,1350.1 338.1,1350.9 341.1,1351.6 344.1,1352.4 347.1,1353.1 350.1,1353.9 353.1,1354.6 356.1,1355.3 359.1,1356.0 362.1,1356.6 365.1,1357.2 368.1,1357.8 371.1,1358.4 374.1,1359.0 377.1,1359.6 380.1,1360.3 383.1,1361.1 386.1,1361.8 389.1,1362.6 392.1,1363.3 395.1,1364.0 398.1,1364.8 401.1,1365.5 404.1,1366.4 407.1,1367.3 410.1,1368.3 413.1,1369.2 416.1,1370.1 419.1,1371.0 422.1,1371.9 425.1,1372.4 428.1,1372.7 431.1,1372.9 434.1,1373.2 437.1,1373.4 440.1,1373.7 443.1,1374.0 446.1,1374.6 449.1,1375.2 452.1,1375.8 455.1,1376.5 458.1,1377.1 461.1,1377.7 464.1,1378.3 467.1,1379.0 470.1,1379.7 473.1,1380.5 476.1,1381.2 479.1,1382.0 482.1,1382.7 485.1,1383.5 488.1,1384.2 491.1,1384.6 494.1,1385.1 497.1,1385.5 500.1,1386.0 503.1,1386.4 506.1,1386.9 509.1,1387.3 512.1,1387.9 515.1,1388.5 518.1,1389.1 521.1,1389.7 524.1,1390.3 527.1,1390.9 530.1,1391.5 533.1,1392.1 536.1,1392.7 539.1,1393.3 542.1,1393.9 545.1,1394.4 548.1,1395.0 551.1,1395.6 554.1,1396.2 557.1,1396.9 560.1,1397.7 563.1,1398.4 566.1,1399.2 569.1,1399.9 572.1,1400.7 575.1,1401.4 578.1,1402.1 581.1,1402.8 584.1,1403.4 587.1,1404.0 590.1,1404.6 593.1,1405.2 596.1,1405.8 599.1,1406.4 602.1,1407.1 605.1,1407.8 608.1,1408.6 611.1,1409.3 614.1,1410.1 617.1,1410.8 620.1,1411.6 623.1,1412.3 626.1,1413.2 629.1,1414.1 632.1,1415.0 635.1,1415.9 638.1,1416.8 641.1,1417.7 644.1,1418.6 647.1,1419.4 650.1,1420.0 653.1,1420.6 656.1,1421.2 659.1,1421.8 662.1,1422.4 665.1,1423.0 668.1,1423.6 671.1,1424.0 674.1,1424.5 677.1,1424.9 680.1,1425.4 683.1,1425.9 686.1,1426.3 689.1,1426.8 692.1,1427.3 695.1,1428.1 698.1,1428.8 701.1,1429.6 704.1,1430.3 707.1,1431.1 710.1,1431.8 713.1,1432.6 716.1,1433.2 719.1,1433.8 722.1,1434.4 725.1,1434.9 728.1,1435.5 731.1,1436.1 734.1,1436.7 737.1,1437.3 740.1,1437.9 743.1,1438.5 746.1,1439.1 749.1,1439.7 752.1,1440.3 755.1,1440.9 758.1,1441.5 761.1,1442.6 764.1,1443.6 767.1,1444.7 770.1,1445.7 773.1,1446.6 776.1,1447.2 779.1,1447.8 782.1,1448.3 785.1,1448.9 788.1,1449.5 791.1,1450.2 794.1,1451.3 797.1,1452.4 800.1,1453.4 803.1,1453.8 806.1,1454.2 809.1,1454.6 812.1,1455.0 815.1,1455.4 818.1,1456.1 821.1,1456.8 824.1,1457.5 827.1,1458.2 830.1,1458.9 833.1,1459.8 836.1,1460.7 839.1,1461.6 842.1,1462.5 845.1,1463.4 848.1,1464.1 851.1,1464.9 854.1,1465.7 857.1,1466.4 860.1,1467.2 863.1,1468.4 866.1,1469.6 869.1,1470.8 872.1,1472.0 875.1,1473.1 878.1,1473.9 881.1,1474.6 884.1,1475.4 887.1,1476.1 890.1,1476.9 893.1,1477.6 896.1,1478.4 899.1,1479.1 902.1,1479.9 905.1,1480.7 908.1,1481.7 911.1,1482.8 914.1,1483.8 917.1,1484.8 920.1,1485.9 923.1,1486.8 926.1,1487.7 929.1,1488.6 932.1,1489.5 935.1,1490.4 938.1,1491.5 941.1,1492.5 944.1,1493.6 947.1,1494.7 950.1,1495.7 953.1,1496.8 956.1,1497.8 959.1,1498.9 962.1,1499.9 965.1,1501.0 968.1,1502.2 971.1,1503.4 974.1,1504.6 977.1,1505.8 980.1,1506.9 983.1,1507.6 986.1,1508.4 989.1,1509.1 992.1,1509.9 995.1,1510.6 998.1,1511.3 1001.1,1512.1 1004.1,1512.8 1007.1,1513.6 1010.1,1514.3 1013.1,1515.1 1016.1,1515.8 1019.1,1516.6 1022.1,1517.4 1025.1,1518.1 1028.1,1518.9 1031.1,1519.6 1034.1,1520.3 1037.1,1521.1 1040.1,1521.8 1043.1,1522.6 1046.1,1523.4 1049.1,1524.1 1052.1,1524.9 1055.1,1525.6 1058.1,1526.3" fill="none" stroke="#000" stroke-width="3.8" stroke-dasharray="1.7,2.1"/>
<line x1="431.2" y1="1142.2" x2="431.2" y2="1376.6" stroke="#0000ff" stroke-width="2"/>
<polygon fill="#000" points="755.4,1362.1 763.5,1338.1 767.9,1346.2 796.0,1332.0 803.8,1346.9 776.0,1361.8 779.7,1370.2"/>
<rect x="47.1" y="1142.2" width="1012.5" height="391.0" fill="none" stroke="#000" stroke-width="2.4"/>
<text x="40.0" y="1173.4" font-size="24.5" text-anchor="end">560</text>
<text x="40.0" y="1230.7" font-size="24.5" text-anchor="end">580</text>
<text x="40.0" y="1288.0" font-size="24.5" text-anchor="end">600</text>
<text x="40.0" y="1345.3" font-size="24.5" text-anchor="end">620</text>
<text x="40.0" y="1402.7" font-size="24.5" text-anchor="end">640</text>
<text x="40.0" y="1460.0" font-size="24.5" text-anchor="end">660</text>
<text x="40.0" y="1517.3" font-size="24.5" text-anchor="end">680</text>
<text x="161.9" y="1563.7" font-size="24.5" text-anchor="middle">20</text>
<text x="284.0" y="1563.7" font-size="24.5" text-anchor="middle">40</text>
<text x="406.0" y="1563.7" font-size="24.5" text-anchor="middle">60</text>
<text x="528.1" y="1563.7" font-size="24.5" text-anchor="middle">80</text>
<text x="650.2" y="1563.7" font-size="24.5" text-anchor="middle">100</text>
<text x="772.3" y="1563.7" font-size="24.5" text-anchor="middle">120</text>
<text x="894.4" y="1563.7" font-size="24.5" text-anchor="middle">140</text>
<text x="1016.4" y="1563.7" font-size="24.5" text-anchor="middle">160</text>
<path d="M47.1 1164.6H57.6M1059.6 1164.6H1049.1M47.1 1221.9H57.6M1059.6 1221.9H1049.1M47.1 1279.2H57.6M1059.6 1279.2H1049.1M47.1 1336.5H57.6M1059.6 1336.5H1049.1M47.1 1393.9H57.6M1059.6 1393.9H1049.1M47.1 1451.2H57.6M1059.6 1451.2H1049.1M47.1 1508.5H57.6M1059.6 1508.5H1049.1M161.9 1533.2V1522.7M161.9 1142.2V1152.7M284.0 1533.2V1522.7M284.0 1142.2V1152.7M406.0 1533.2V1522.7M406.0 1142.2V1152.7M528.1 1533.2V1522.7M528.1 1142.2V1152.7M650.2 1533.2V1522.7M650.2 1142.2V1152.7M772.3 1533.2V1522.7M772.3 1142.2V1152.7M894.4 1533.2V1522.7M894.4 1142.2V1152.7M1016.4 1533.2V1522.7M1016.4 1142.2V1152.7" stroke="#000" stroke-width="2" fill="none"/>
<text x="267.8" y="1119.7" font-size="41.5" text-anchor="start" font-weight="bold">(c)</text>
<text x="348.3" y="1119.7" font-size="36.6" text-anchor="start" letter-spacing="0.28">Ip: proposed regularization</text>
<g shape-rendering="crispEdges">
<rect x="1099.5" y="1523.60" width="50.1" height="6.70" fill="#ff0000"/>
<rect x="1099.5" y="1517.50" width="50.1" height="6.70" fill="#ff0000"/>
<rect x="1099.5" y="1511.40" width="50.1" height="6.70" fill="#ff0000"/>
<rect x="1099.5" y="1505.29" width="50.1" height="6.70" fill="#ff0000"/>
<rect x="1099.5" y="1499.19" width="50.1" height="6.70" fill="#ff0000"/>
<rect x="1099.5" y="1493.09" width="50.1" height="6.70" fill="#ff0000"/>
<rect x="1099.5" y="1486.99" width="50.1" height="6.70" fill="#ff0000"/>
<rect x="1099.5" y="1480.89" width="50.1" height="6.70" fill="#ff0000"/>
<rect x="1099.5" y="1474.79" width="50.1" height="6.70" fill="#ff0000"/>
<rect x="1099.5" y="1468.68" width="50.1" height="6.70" fill="#ff0000"/>
<rect x="1099.5" y="1462.58" width="50.1" height="6.70" fill="#ff0000"/>
<rect x="1099.5" y="1456.48" width="50.1" height="6.70" fill="#ff0000"/>
<rect x="1099.5" y="1450.38" width="50.1" height="6.70" fill="#ff0000"/>
<rect x="1099.5" y="1444.28" width="50.1" height="6.70" fill="#ff0000"/>
<rect x="1099.5" y="1438.18" width="50.1" height="6.70" fill="#ff1000"/>
<rect x="1099.5" y="1432.07" width="50.1" height="6.70" fill="#ff2200"/>
<rect x="1099.5" y="1425.97" width="50.1" height="6.70" fill="#ff3200"/>
<rect x="1099.5" y="1419.87" width="50.1" height="6.70" fill="#ff4200"/>
<rect x="1099.5" y="1413.77" width="50.1" height="6.70" fill="#ff5100"/>
<rect x="1099.5" y="1407.67" width="50.1" height="6.70" fill="#ff6100"/>
<rect x="1099.5" y="1401.57" width="50.1" height="6.70" fill="#ff7100"/>
<rect x="1099.5" y="1395.47" width="50.1" height="6.70" fill="#ff8000"/>
<rect x="1099.5" y="1389.36" width="50.1" height="6.70" fill="#ff8d00"/>
<rect x="1099.5" y="1383.26" width="50.1" height="6.70" fill="#ff9b00"/>
<rect x="1099.5" y="1377.16" width="50.1" height="6.70" fill="#ffa900"/>
<rect x="1099.5" y="1371.06" width="50.1" height="6.70" fill="#ffb900"/>
<rect x="1099.5" y="1364.96" width="50.1" height="6.70" fill="#ffc900"/>
<rect x="1099.5" y="1358.86" width="50.1" height="6.70" fill="#ffda00"/>
<rect x="1099.5" y="1352.75" width="50.1" height="6.70" fill="#ffef00"/>
<rect x="1099.5" y="1346.65" width="50.1" height="6.70" fill="#f9fc00"/>
<rect x="1099.5" y="1340.55" width="50.1" height="6.70" fill="#d8ea00"/>
<rect x="1099.5" y="1334.45" width="50.1" height="6.70" fill="#b0d500"/>
<rect x="1099.5" y="1328.35" width="50.1" height="6.70" fill="#7fbd00"/>
<rect x="1099.5" y="1322.25" width="50.1" height="6.70" fill="#58a800"/>
<rect x="1099.5" y="1316.14" width="50.1" height="6.70" fill="#3e9900"/>
<rect x="1099.5" y="1310.04" width="50.1" height="6.70" fill="#258a00"/>
<rect x="1099.5" y="1303.94" width="50.1" height="6.70" fill="#118100"/>
<rect x="1099.5" y="1297.84" width="50.1" height="6.70" fill="#007902"/>
<rect x="1099.5" y="1291.74" width="50.1" height="6.70" fill="#00831b"/>
<rect x="1099.5" y="1285.64" width="50.1" height="6.70" fill="#008c33"/>
<rect x="1099.5" y="1279.53" width="50.1" height="6.70" fill="#009443"/>
<rect x="1099.5" y="1273.43" width="50.1" height="6.70" fill="#009c53"/>
<rect x="1099.5" y="1267.33" width="50.1" height="6.70" fill="#00a866"/>
<rect x="1099.5" y="1261.23" width="50.1" height="6.70" fill="#00b67b"/>
<rect x="1099.5" y="1255.13" width="50.1" height="6.70" fill="#00c591"/>
<rect x="1099.5" y="1249.03" width="50.1" height="6.70" fill="#00d9b3"/>
<rect x="1099.5" y="1242.93" width="50.1" height="6.70" fill="#00edd7"/>
<rect x="1099.5" y="1236.82" width="50.1" height="6.70" fill="#00fefc"/>
<rect x="1099.5" y="1230.72" width="50.1" height="6.70" fill="#00e7ff"/>
<rect x="1099.5" y="1224.62" width="50.1" height="6.70" fill="#00ceff"/>
<rect x="1099.5" y="1218.52" width="50.1" height="6.70" fill="#00b9ff"/>
<rect x="1099.5" y="1212.42" width="50.1" height="6.70" fill="#00a5ff"/>
<rect x="1099.5" y="1206.32" width="50.1" height="6.70" fill="#0090ff"/>
<rect x="1099.5" y="1200.21" width="50.1" height="6.70" fill="#007eff"/>
<rect x="1099.5" y="1194.11" width="50.1" height="6.70" fill="#006dff"/>
<rect x="1099.5" y="1188.01" width="50.1" height="6.70" fill="#005bff"/>
<rect x="1099.5" y="1181.91" width="50.1" height="6.70" fill="#004bff"/>
<rect x="1099.5" y="1175.81" width="50.1" height="6.70" fill="#003eff"/>
<rect x="1099.5" y="1169.71" width="50.1" height="6.70" fill="#0031ff"/>
<rect x="1099.5" y="1163.60" width="50.1" height="6.70" fill="#0024ff"/>
<rect x="1099.5" y="1157.50" width="50.1" height="6.70" fill="#0018ff"/>
<rect x="1099.5" y="1151.40" width="50.1" height="6.70" fill="#000bff"/>
<rect x="1099.5" y="1143.30" width="50.1" height="8.70" fill="#0000ff"/>
</g>
<rect x="1099.2" y="1144.0" width="50.7" height="391.2" fill="none" stroke="#000" stroke-width="2.4"/>
<text x="1156.5" y="1194.5" font-size="24.5" text-anchor="start">1.25</text>
<text x="1156.5" y="1264.0" font-size="24.5" text-anchor="start">1.2</text>
<text x="1156.5" y="1333.5" font-size="24.5" text-anchor="start">1.15</text>
<text x="1156.5" y="1403.0" font-size="24.5" text-anchor="start">1.1</text>
<text x="1156.5" y="1472.5" font-size="24.5" text-anchor="start">1.05</text>
<text x="1156.5" y="1548.0" font-size="24.5" text-anchor="start">1</text>
<path d="M1099.5 1185.7H1104.0M1149.6 1185.7H1145.1M1099.5 1255.2H1104.0M1149.6 1255.2H1145.1M1099.5 1324.7H1104.0M1149.6 1324.7H1145.1M1099.5 1394.2H1104.0M1149.6 1394.2H1145.1M1099.5 1463.7H1104.0M1149.6 1463.7H1145.1" stroke="#000" stroke-width="2" fill="none"/>
<text x="1149.5" y="1132.7" font-size="24.5">x 10<tspan font-size="16.5" dy="-17" dx="1.5">7</tspan></text>
<text x="1075.2" y="1575.1" font-size="31">(kg/m<tspan font-size="19" dy="-11">3</tspan><tspan dy="11" font-size="24">∗</tspan>m/s)</text>
<rect x="1362.5" y="1142.8" width="388.3" height="390.0" fill="none" stroke="#000" stroke-width="2.6"/>
<text x="1355.5" y="1151.6" font-size="24.5" text-anchor="end">580</text>
<text x="1355.5" y="1217.8" font-size="24.5" text-anchor="end">590</text>
<text x="1355.5" y="1284.0" font-size="24.5" text-anchor="end">600</text>
<text x="1355.5" y="1350.2" font-size="24.5" text-anchor="end">610</text>
<text x="1355.5" y="1416.4" font-size="24.5" text-anchor="end">620</text>
<text x="1355.5" y="1482.6" font-size="24.5" text-anchor="end">630</text>
<text x="1362.5" y="1563.3" font-size="24.5" text-anchor="middle">1</text>
<text x="1491.9" y="1563.3" font-size="24.5" text-anchor="middle">1.2</text>
<text x="1621.4" y="1563.3" font-size="24.5" text-anchor="middle">1.4</text>
<text x="1750.8" y="1563.3" font-size="24.5" text-anchor="middle">1.6</text>
<path d="M1362.5 1142.8H1369.5M1750.8 1142.8H1743.8M1362.5 1209.0H1369.5M1750.8 1209.0H1743.8M1362.5 1275.2H1369.5M1750.8 1275.2H1743.8M1362.5 1341.4H1369.5M1750.8 1341.4H1743.8M1362.5 1407.6H1369.5M1750.8 1407.6H1743.8M1362.5 1473.8H1369.5M1750.8 1473.8H1743.8M1362.5 1532.8V1526.8M1362.5 1142.8V1148.8M1491.9 1532.8V1526.8M1491.9 1142.8V1148.8M1621.4 1532.8V1526.8M1621.4 1142.8V1148.8M1750.8 1532.8V1526.8M1750.8 1142.8V1148.8" stroke="#000" stroke-width="2" fill="none"/>
<clipPath id="rcc"><rect x="1362.5" y="1142.8" width="391.3" height="391.0"/></clipPath>
<line x1="1362.5" y1="1499.9" x2="1752.8" y2="1499.9" stroke="#0000ff" stroke-width="1.6"/>
<polyline clip-path="url(#rcc)" points="1362.5,1147.4 1455.8,1147.4 1456.4,1160.4 1460.4,1183.3 1461.3,1199.6 1464.6,1212.6 1468.9,1222.4 1474.4,1232.2 1478.6,1245.3 1479.3,1253.4 1476.0,1261.6 1472.8,1271.4 1470.5,1281.2 1469.5,1294.2 1466.2,1307.3 1463.0,1313.8 1459.1,1323.6 1457.1,1333.4 1455.8,1346.5 1456.4,1356.2 1461.3,1362.8 1467.9,1369.3 1476.0,1375.8 1478.6,1382.4 1477.7,1398.7 1479.3,1408.5 1484.2,1418.3 1492.3,1426.4 1492.3,1436.2 1485.8,1441.1 1474.4,1446.0 1443.4,1452.5 1433.6,1460.7 1436.9,1467.2 1443.4,1473.7 1459.7,1477.0 1502.1,1481.9 1551.1,1486.8 1590.3,1491.7 1609.8,1496.6 1622.9,1501.5 1627.8,1506.4 1627.8,1514.5 1619.6,1521.1 1611.5,1527.6 1604.9,1535.1" fill="none" stroke="#000" stroke-width="3.8" stroke-linejoin="round"/>
<polyline clip-path="url(#rcc)" points="1441.8,1142.8 1443.4,1160.1 1446.7,1173.2 1449.9,1181.3 1459.7,1189.5 1472.8,1199.3 1482.6,1207.4 1489.1,1215.6 1488.4,1225.4 1482.6,1235.2 1477.7,1245.0 1480.9,1254.7 1481.9,1264.5 1477.7,1276.0 1467.9,1285.8 1459.7,1297.2 1456.4,1308.6 1458.1,1320.0 1462.3,1333.1 1456.4,1342.9 1449.9,1351.0 1446.7,1362.4 1448.3,1372.2 1454.8,1380.4 1461.3,1386.9 1464.6,1393.5 1467.9,1406.5 1485.8,1417.9 1505.4,1424.5 1525.0,1431.0 1538.0,1439.1 1532.2,1445.7 1511.9,1450.6 1485.8,1457.1 1459.7,1462.0 1441.8,1465.3 1430.3,1471.8 1436.9,1476.7 1449.9,1479.9 1492.3,1484.8 1538.0,1489.7 1577.2,1494.6 1600.1,1497.9 1629.4,1502.1 1652.3,1504.4 1662.1,1511.9 1645.7,1519.1 1616.4,1525.6 1577.2,1534.8" fill="none" stroke="#ff0000" stroke-width="3.8" stroke-linejoin="round"/>
<rect x="1547.4" y="1155.9" width="191.6" height="79" fill="#fff" stroke="#000" stroke-width="2.4"/>
<line x1="1561.9" y1="1176.5" x2="1637.7" y2="1176.5" stroke="#000" stroke-width="4.4"/>
<line x1="1561.9" y1="1212.4" x2="1637.7" y2="1212.4" stroke="#ff0000" stroke-width="4.1"/>
<text x="1646.5" y="1188.1" font-size="23.4" text-anchor="start">Theory</text>
<text x="1646.5" y="1223.1" font-size="23.4" text-anchor="start">Inverted</text>
<text x="1546.5" y="1132.8" font-size="37.0" text-anchor="middle">Well location</text>
<text x="1518.5" y="1602.3" font-size="31">(x 10<tspan font-size="19" dy="-11">7</tspan><tspan dy="11">  kg/m</tspan><tspan font-size="19" dy="-11">3</tspan><tspan dy="11" font-size="24">∗</tspan>m/s)</text>
</svg></body></html>
